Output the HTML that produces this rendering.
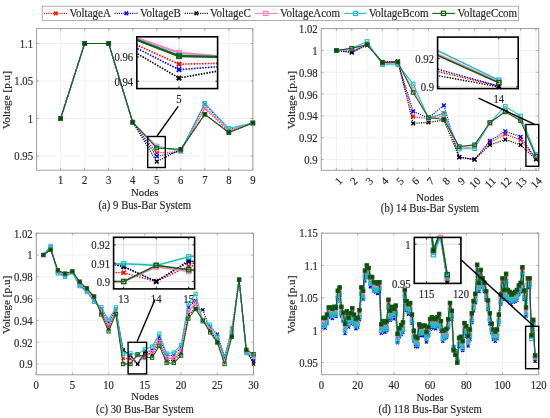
<!DOCTYPE html><html><head><meta charset="utf-8"><style>html,body{margin:0;padding:0;background:#fff;overflow:hidden}svg{display:block}text{font-family:'Liberation Serif','Times New Roman',serif;fill:#262626;stroke:#262626;stroke-width:0.15px}</style></head><body>
<svg width="550" height="418" viewBox="0 0 550 418">
<rect width="550" height="418" fill="#fff"/>
<defs>
<clipPath id="cA"><rect x="36.1" y="28.1" width="217.3" height="142.6"/></clipPath>
<clipPath id="cB"><rect x="320.7" y="28.1" width="218.6" height="142.7"/></clipPath>
<clipPath id="cC"><rect x="35.8" y="232.7" width="218.3" height="142.6"/></clipPath>
<clipPath id="cD"><rect x="321" y="232.7" width="218.2" height="142.5"/></clipPath>
<clipPath id="iA"><rect x="136.8" y="36.8" width="80.8" height="51.8"/></clipPath>
<clipPath id="iB"><rect x="437.6" y="37.1" width="80.6" height="51.5"/></clipPath>
<clipPath id="iC"><rect x="113.6" y="237.3" width="81" height="51.6"/></clipPath>
<clipPath id="iD"><rect x="414.3" y="237.4" width="46.6" height="46"/></clipPath>
</defs>
<path d="M60.63,28.6V170.2M84.66,28.6V170.2M108.69,28.6V170.2M132.72,28.6V170.2M156.75,28.6V170.2M180.78,28.6V170.2M204.81,28.6V170.2M228.84,28.6V170.2M252.87,28.6V170.2M36.6,156H252.9M36.6,118.5H252.9M36.6,81H252.9M36.6,43.5H252.9" stroke="#ebebeb" stroke-width="0.7" fill="none"/>
<path d="M60.63,170.2v-2.2M60.63,28.6v2.2M84.66,170.2v-2.2M84.66,28.6v2.2M108.69,170.2v-2.2M108.69,28.6v2.2M132.72,170.2v-2.2M132.72,28.6v2.2M156.75,170.2v-2.2M156.75,28.6v2.2M180.78,170.2v-2.2M180.78,28.6v2.2M204.81,170.2v-2.2M204.81,28.6v2.2M228.84,170.2v-2.2M228.84,28.6v2.2M252.87,170.2v-2.2M252.87,28.6v2.2M36.6,156h2.2M252.9,156h-2.2M36.6,118.5h2.2M252.9,118.5h-2.2M36.6,81h2.2M252.9,81h-2.2M36.6,43.5h2.2M252.9,43.5h-2.2" stroke="#959595" stroke-width="0.8" fill="none"/>
<rect x="36.6" y="28.6" width="216.3" height="141.6" stroke="#959595" stroke-width="0.9" fill="none"/>
<path d="M60.63,118.5 L84.66,43.5 L108.69,43.5 L132.72,122.25 L156.75,153 L180.78,151.5 L204.81,108.37 L228.84,131.25 L252.87,123" stroke="#ff0000" stroke-width="1.15" fill="none" stroke-dasharray="1.15 1.15" stroke-linejoin="round" clip-path="url(#cA)"/>
<path d="M58.73,116.6L62.53,120.4M58.73,120.4L62.53,116.6" stroke="#ff0000" stroke-width="1.32" fill="none"/><path d="M82.76,41.6L86.56,45.4M82.76,45.4L86.56,41.6" stroke="#ff0000" stroke-width="1.32" fill="none"/><path d="M106.79,41.6L110.59,45.4M106.79,45.4L110.59,41.6" stroke="#ff0000" stroke-width="1.32" fill="none"/><path d="M130.82,120.35L134.62,124.15M130.82,124.15L134.62,120.35" stroke="#ff0000" stroke-width="1.32" fill="none"/><path d="M154.85,151.1L158.65,154.9M154.85,154.9L158.65,151.1" stroke="#ff0000" stroke-width="1.32" fill="none"/><path d="M178.88,149.6L182.68,153.4M178.88,153.4L182.68,149.6" stroke="#ff0000" stroke-width="1.32" fill="none"/><path d="M202.91,106.47L206.71,110.27M202.91,110.27L206.71,106.47" stroke="#ff0000" stroke-width="1.32" fill="none"/><path d="M226.94,129.35L230.74,133.15M226.94,133.15L230.74,129.35" stroke="#ff0000" stroke-width="1.32" fill="none"/><path d="M250.97,121.1L254.77,124.9M250.97,124.9L254.77,121.1" stroke="#ff0000" stroke-width="1.32" fill="none"/>
<path d="M60.63,118.5 L84.66,43.5 L108.69,43.5 L132.72,122.25 L156.75,156.38 L180.78,151.27 L204.81,104.25 L228.84,129.75 L252.87,123" stroke="#0000ff" stroke-width="1.15" fill="none" stroke-dasharray="1.15 1.15" stroke-linejoin="round" clip-path="url(#cA)"/>
<path d="M58.73,116.6L62.53,120.4M58.73,120.4L62.53,116.6" stroke="#0000ff" stroke-width="1.32" fill="none"/><path d="M82.76,41.6L86.56,45.4M82.76,45.4L86.56,41.6" stroke="#0000ff" stroke-width="1.32" fill="none"/><path d="M106.79,41.6L110.59,45.4M106.79,45.4L110.59,41.6" stroke="#0000ff" stroke-width="1.32" fill="none"/><path d="M130.82,120.35L134.62,124.15M130.82,124.15L134.62,120.35" stroke="#0000ff" stroke-width="1.32" fill="none"/><path d="M154.85,154.47L158.65,158.28M154.85,158.28L158.65,154.47" stroke="#0000ff" stroke-width="1.32" fill="none"/><path d="M178.88,149.37L182.68,153.17M178.88,153.17L182.68,149.37" stroke="#0000ff" stroke-width="1.32" fill="none"/><path d="M202.91,102.35L206.71,106.15M202.91,106.15L206.71,102.35" stroke="#0000ff" stroke-width="1.32" fill="none"/><path d="M226.94,127.85L230.74,131.65M226.94,131.65L230.74,127.85" stroke="#0000ff" stroke-width="1.32" fill="none"/><path d="M250.97,121.1L254.77,124.9M250.97,124.9L254.77,121.1" stroke="#0000ff" stroke-width="1.32" fill="none"/>
<path d="M60.63,118.5 L84.66,43.5 L108.69,43.5 L132.72,122.25 L156.75,161.55 L180.78,149.47 L204.81,114.3 L228.84,132.37 L252.87,123" stroke="#000000" stroke-width="1.15" fill="none" stroke-dasharray="1.15 1.15" stroke-linejoin="round" clip-path="url(#cA)"/>
<path d="M58.73,116.6L62.53,120.4M58.73,120.4L62.53,116.6" stroke="#000000" stroke-width="1.32" fill="none"/><path d="M82.76,41.6L86.56,45.4M82.76,45.4L86.56,41.6" stroke="#000000" stroke-width="1.32" fill="none"/><path d="M106.79,41.6L110.59,45.4M106.79,45.4L110.59,41.6" stroke="#000000" stroke-width="1.32" fill="none"/><path d="M130.82,120.35L134.62,124.15M130.82,124.15L134.62,120.35" stroke="#000000" stroke-width="1.32" fill="none"/><path d="M154.85,159.65L158.65,163.45M154.85,163.45L158.65,159.65" stroke="#000000" stroke-width="1.32" fill="none"/><path d="M178.88,147.57L182.68,151.38M178.88,151.38L182.68,147.57" stroke="#000000" stroke-width="1.32" fill="none"/><path d="M202.91,112.4L206.71,116.2M202.91,116.2L206.71,112.4" stroke="#000000" stroke-width="1.32" fill="none"/><path d="M226.94,130.47L230.74,134.27M226.94,134.27L230.74,130.47" stroke="#000000" stroke-width="1.32" fill="none"/><path d="M250.97,121.1L254.77,124.9M250.97,124.9L254.77,121.1" stroke="#000000" stroke-width="1.32" fill="none"/>
<path d="M60.63,118.5 L84.66,43.5 L108.69,43.5 L132.72,122.25 L156.75,145.95 L180.78,151.5 L204.81,107.25 L228.84,130.5 L252.87,123" stroke="#ff80c0" stroke-width="1.05" fill="none" stroke-linejoin="round" clip-path="url(#cA)"/>
<rect x="58.83" y="116.7" width="3.6" height="3.6" stroke="#ff80c0" stroke-width="1.1" fill="none"/><rect x="82.86" y="41.7" width="3.6" height="3.6" stroke="#ff80c0" stroke-width="1.1" fill="none"/><rect x="106.89" y="41.7" width="3.6" height="3.6" stroke="#ff80c0" stroke-width="1.1" fill="none"/><rect x="130.92" y="120.45" width="3.6" height="3.6" stroke="#ff80c0" stroke-width="1.1" fill="none"/><rect x="154.95" y="144.15" width="3.6" height="3.6" stroke="#ff80c0" stroke-width="1.1" fill="none"/><rect x="178.98" y="149.7" width="3.6" height="3.6" stroke="#ff80c0" stroke-width="1.1" fill="none"/><rect x="203.01" y="105.45" width="3.6" height="3.6" stroke="#ff80c0" stroke-width="1.1" fill="none"/><rect x="227.04" y="128.7" width="3.6" height="3.6" stroke="#ff80c0" stroke-width="1.1" fill="none"/><rect x="251.07" y="121.2" width="3.6" height="3.6" stroke="#ff80c0" stroke-width="1.1" fill="none"/>
<path d="M60.63,118.5 L84.66,43.5 L108.69,43.5 L132.72,122.25 L156.75,147.6 L180.78,150.38 L204.81,103.28 L228.84,128.32 L252.87,123" stroke="#1fbfbf" stroke-width="1.05" fill="none" stroke-linejoin="round" clip-path="url(#cA)"/>
<rect x="58.83" y="116.7" width="3.6" height="3.6" stroke="#1fbfbf" stroke-width="1.1" fill="none"/><rect x="82.86" y="41.7" width="3.6" height="3.6" stroke="#1fbfbf" stroke-width="1.1" fill="none"/><rect x="106.89" y="41.7" width="3.6" height="3.6" stroke="#1fbfbf" stroke-width="1.1" fill="none"/><rect x="130.92" y="120.45" width="3.6" height="3.6" stroke="#1fbfbf" stroke-width="1.1" fill="none"/><rect x="154.95" y="145.8" width="3.6" height="3.6" stroke="#1fbfbf" stroke-width="1.1" fill="none"/><rect x="178.98" y="148.57" width="3.6" height="3.6" stroke="#1fbfbf" stroke-width="1.1" fill="none"/><rect x="203.01" y="101.48" width="3.6" height="3.6" stroke="#1fbfbf" stroke-width="1.1" fill="none"/><rect x="227.04" y="126.52" width="3.6" height="3.6" stroke="#1fbfbf" stroke-width="1.1" fill="none"/><rect x="251.07" y="121.2" width="3.6" height="3.6" stroke="#1fbfbf" stroke-width="1.1" fill="none"/>
<path d="M60.63,118.5 L84.66,43.5 L108.69,43.5 L132.72,122.25 L156.75,148.05 L180.78,149.33 L204.81,114.3 L228.84,132.53 L252.87,123" stroke="#155e15" stroke-width="1.05" fill="none" stroke-linejoin="round" clip-path="url(#cA)"/>
<rect x="58.83" y="116.7" width="3.6" height="3.6" stroke="#155e15" stroke-width="1.1" fill="#143c14"/><rect x="82.86" y="41.7" width="3.6" height="3.6" stroke="#155e15" stroke-width="1.1" fill="#143c14"/><rect x="106.89" y="41.7" width="3.6" height="3.6" stroke="#155e15" stroke-width="1.1" fill="#143c14"/><rect x="130.92" y="120.45" width="3.6" height="3.6" stroke="#155e15" stroke-width="1.1" fill="#143c14"/><rect x="154.95" y="146.25" width="3.6" height="3.6" stroke="#155e15" stroke-width="1.1" fill="none"/><rect x="178.98" y="147.53" width="3.6" height="3.6" stroke="#155e15" stroke-width="1.1" fill="#143c14"/><rect x="203.01" y="112.5" width="3.6" height="3.6" stroke="#155e15" stroke-width="1.1" fill="#143c14"/><rect x="227.04" y="130.73" width="3.6" height="3.6" stroke="#155e15" stroke-width="1.1" fill="#143c14"/><rect x="251.07" y="121.2" width="3.6" height="3.6" stroke="#155e15" stroke-width="1.1" fill="#143c14"/>
<text transform="translate(60.63 184.4) scale(1 1.09)" text-anchor="middle" font-size="10.7">1</text>
<text transform="translate(84.66 184.4) scale(1 1.09)" text-anchor="middle" font-size="10.7">2</text>
<text transform="translate(108.69 184.4) scale(1 1.09)" text-anchor="middle" font-size="10.7">3</text>
<text transform="translate(132.72 184.4) scale(1 1.09)" text-anchor="middle" font-size="10.7">4</text>
<text transform="translate(156.75 184.4) scale(1 1.09)" text-anchor="middle" font-size="10.7">5</text>
<text transform="translate(180.78 184.4) scale(1 1.09)" text-anchor="middle" font-size="10.7">6</text>
<text transform="translate(204.81 184.4) scale(1 1.09)" text-anchor="middle" font-size="10.7">7</text>
<text transform="translate(228.84 184.4) scale(1 1.09)" text-anchor="middle" font-size="10.7">8</text>
<text transform="translate(252.87 184.4) scale(1 1.09)" text-anchor="middle" font-size="10.7">9</text>
<text transform="translate(33 160.4) scale(1 1.09)" text-anchor="end" font-size="10.7">0.95</text>
<text transform="translate(33 122.9) scale(1 1.09)" text-anchor="end" font-size="10.7">1</text>
<text transform="translate(33 85.4) scale(1 1.09)" text-anchor="end" font-size="10.7">1.05</text>
<text transform="translate(33 47.9) scale(1 1.09)" text-anchor="end" font-size="10.7">1.1</text>
<path d="M336.4,28.6V170.3M351.75,28.6V170.3M367.1,28.6V170.3M382.45,28.6V170.3M397.8,28.6V170.3M413.15,28.6V170.3M428.5,28.6V170.3M443.85,28.6V170.3M459.2,28.6V170.3M474.55,28.6V170.3M489.9,28.6V170.3M505.25,28.6V170.3M520.6,28.6V170.3M535.95,28.6V170.3M321.2,159.5H538.8M321.2,137.7H538.8M321.2,115.9H538.8M321.2,94.1H538.8M321.2,72.3H538.8M321.2,50.5H538.8M321.2,28.7H538.8" stroke="#ebebeb" stroke-width="0.7" fill="none"/>
<path d="M336.4,170.3v-2.2M336.4,28.6v2.2M351.75,170.3v-2.2M351.75,28.6v2.2M367.1,170.3v-2.2M367.1,28.6v2.2M382.45,170.3v-2.2M382.45,28.6v2.2M397.8,170.3v-2.2M397.8,28.6v2.2M413.15,170.3v-2.2M413.15,28.6v2.2M428.5,170.3v-2.2M428.5,28.6v2.2M443.85,170.3v-2.2M443.85,28.6v2.2M459.2,170.3v-2.2M459.2,28.6v2.2M474.55,170.3v-2.2M474.55,28.6v2.2M489.9,170.3v-2.2M489.9,28.6v2.2M505.25,170.3v-2.2M505.25,28.6v2.2M520.6,170.3v-2.2M520.6,28.6v2.2M535.95,170.3v-2.2M535.95,28.6v2.2M321.2,159.5h2.2M538.8,159.5h-2.2M321.2,137.7h2.2M538.8,137.7h-2.2M321.2,115.9h2.2M538.8,115.9h-2.2M321.2,94.1h2.2M538.8,94.1h-2.2M321.2,72.3h2.2M538.8,72.3h-2.2M321.2,50.5h2.2M538.8,50.5h-2.2M321.2,28.7h2.2M538.8,28.7h-2.2" stroke="#959595" stroke-width="0.8" fill="none"/>
<rect x="321.2" y="28.6" width="217.6" height="141.7" stroke="#959595" stroke-width="0.9" fill="none"/>
<path d="M336.4,50.5 L351.75,51.59 L367.1,45.05 L382.45,62.49 L397.8,61.94 L413.15,116.66 L428.5,118.62 L443.85,113.17 L459.2,157.21 L474.55,159.5 L489.9,142.5 L505.25,134.21 L520.6,139.88 L535.95,158.96" stroke="#ff0000" stroke-width="1.15" fill="none" stroke-dasharray="1.15 1.15" stroke-linejoin="round" clip-path="url(#cB)"/>
<path d="M334.5,48.6L338.3,52.4M334.5,52.4L338.3,48.6" stroke="#ff0000" stroke-width="1.32" fill="none"/><path d="M349.85,49.69L353.65,53.49M349.85,53.49L353.65,49.69" stroke="#ff0000" stroke-width="1.32" fill="none"/><path d="M365.2,43.15L369,46.95M365.2,46.95L369,43.15" stroke="#ff0000" stroke-width="1.32" fill="none"/><path d="M380.55,60.59L384.35,64.39M380.55,64.39L384.35,60.59" stroke="#ff0000" stroke-width="1.32" fill="none"/><path d="M395.9,60.04L399.7,63.84M395.9,63.84L399.7,60.04" stroke="#ff0000" stroke-width="1.32" fill="none"/><path d="M411.25,114.76L415.05,118.56M411.25,118.56L415.05,114.76" stroke="#ff0000" stroke-width="1.32" fill="none"/><path d="M426.6,116.72L430.4,120.53M426.6,120.53L430.4,116.72" stroke="#ff0000" stroke-width="1.32" fill="none"/><path d="M441.95,111.27L445.75,115.08M441.95,115.08L445.75,111.27" stroke="#ff0000" stroke-width="1.32" fill="none"/><path d="M457.3,155.31L461.1,159.11M457.3,159.11L461.1,155.31" stroke="#ff0000" stroke-width="1.32" fill="none"/><path d="M472.65,157.6L476.45,161.4M472.65,161.4L476.45,157.6" stroke="#ff0000" stroke-width="1.32" fill="none"/><path d="M488,140.6L491.8,144.4M488,144.4L491.8,140.6" stroke="#ff0000" stroke-width="1.32" fill="none"/><path d="M503.35,132.31L507.15,136.11M503.35,136.11L507.15,132.31" stroke="#ff0000" stroke-width="1.32" fill="none"/><path d="M518.7,137.98L522.5,141.78M518.7,141.78L522.5,137.98" stroke="#ff0000" stroke-width="1.32" fill="none"/><path d="M534.05,157.06L537.85,160.86M534.05,160.86L537.85,157.06" stroke="#ff0000" stroke-width="1.32" fill="none"/>
<path d="M336.4,50.5 L351.75,51.59 L367.1,43.96 L382.45,62.49 L397.8,61.94 L413.15,111.32 L428.5,118.08 L443.85,105.33 L459.2,157.21 L474.55,159.5 L489.9,140.86 L505.25,131.27 L520.6,136.83 L535.95,158.96" stroke="#0000ff" stroke-width="1.15" fill="none" stroke-dasharray="1.15 1.15" stroke-linejoin="round" clip-path="url(#cB)"/>
<path d="M334.5,48.6L338.3,52.4M334.5,52.4L338.3,48.6" stroke="#0000ff" stroke-width="1.32" fill="none"/><path d="M349.85,49.69L353.65,53.49M349.85,53.49L353.65,49.69" stroke="#0000ff" stroke-width="1.32" fill="none"/><path d="M365.2,42.06L369,45.86M365.2,45.86L369,42.06" stroke="#0000ff" stroke-width="1.32" fill="none"/><path d="M380.55,60.59L384.35,64.39M380.55,64.39L384.35,60.59" stroke="#0000ff" stroke-width="1.32" fill="none"/><path d="M395.9,60.04L399.7,63.84M395.9,63.84L399.7,60.04" stroke="#0000ff" stroke-width="1.32" fill="none"/><path d="M411.25,109.42L415.05,113.22M411.25,113.22L415.05,109.42" stroke="#0000ff" stroke-width="1.32" fill="none"/><path d="M426.6,116.18L430.4,119.98M426.6,119.98L430.4,116.18" stroke="#0000ff" stroke-width="1.32" fill="none"/><path d="M441.95,103.43L445.75,107.23M441.95,107.23L445.75,103.43" stroke="#0000ff" stroke-width="1.32" fill="none"/><path d="M457.3,155.31L461.1,159.11M457.3,159.11L461.1,155.31" stroke="#0000ff" stroke-width="1.32" fill="none"/><path d="M472.65,157.6L476.45,161.4M472.65,161.4L476.45,157.6" stroke="#0000ff" stroke-width="1.32" fill="none"/><path d="M488,138.96L491.8,142.76M488,142.76L491.8,138.96" stroke="#0000ff" stroke-width="1.32" fill="none"/><path d="M503.35,129.37L507.15,133.17M503.35,133.17L507.15,129.37" stroke="#0000ff" stroke-width="1.32" fill="none"/><path d="M518.7,134.93L522.5,138.73M518.7,138.73L522.5,134.93" stroke="#0000ff" stroke-width="1.32" fill="none"/><path d="M534.05,157.06L537.85,160.86M534.05,160.86L537.85,157.06" stroke="#0000ff" stroke-width="1.32" fill="none"/>
<path d="M336.4,50.5 L351.75,52.68 L367.1,45.05 L382.45,61.94 L397.8,61.4 L413.15,123.42 L428.5,122.44 L443.85,120.04 L459.2,157.21 L474.55,159.5 L489.9,144.89 L505.25,139.55 L520.6,144.89 L535.95,159.5" stroke="#000000" stroke-width="1.15" fill="none" stroke-dasharray="1.15 1.15" stroke-linejoin="round" clip-path="url(#cB)"/>
<path d="M334.5,48.6L338.3,52.4M334.5,52.4L338.3,48.6" stroke="#000000" stroke-width="1.32" fill="none"/><path d="M349.85,50.78L353.65,54.58M349.85,54.58L353.65,50.78" stroke="#000000" stroke-width="1.32" fill="none"/><path d="M365.2,43.15L369,46.95M365.2,46.95L369,43.15" stroke="#000000" stroke-width="1.32" fill="none"/><path d="M380.55,60.04L384.35,63.84M380.55,63.84L384.35,60.04" stroke="#000000" stroke-width="1.32" fill="none"/><path d="M395.9,59.5L399.7,63.3M395.9,63.3L399.7,59.5" stroke="#000000" stroke-width="1.32" fill="none"/><path d="M411.25,121.52L415.05,125.32M411.25,125.32L415.05,121.52" stroke="#000000" stroke-width="1.32" fill="none"/><path d="M426.6,120.54L430.4,124.34M426.6,124.34L430.4,120.54" stroke="#000000" stroke-width="1.32" fill="none"/><path d="M441.95,118.14L445.75,121.94M441.95,121.94L445.75,118.14" stroke="#000000" stroke-width="1.32" fill="none"/><path d="M457.3,155.31L461.1,159.11M457.3,159.11L461.1,155.31" stroke="#000000" stroke-width="1.32" fill="none"/><path d="M472.65,157.6L476.45,161.4M472.65,161.4L476.45,157.6" stroke="#000000" stroke-width="1.32" fill="none"/><path d="M488,142.99L491.8,146.79M488,146.79L491.8,142.99" stroke="#000000" stroke-width="1.32" fill="none"/><path d="M503.35,137.65L507.15,141.45M503.35,141.45L507.15,137.65" stroke="#000000" stroke-width="1.32" fill="none"/><path d="M518.7,142.99L522.5,146.79M518.7,146.79L522.5,142.99" stroke="#000000" stroke-width="1.32" fill="none"/><path d="M534.05,157.6L537.85,161.4M534.05,161.4L537.85,157.6" stroke="#000000" stroke-width="1.32" fill="none"/>
<path d="M336.4,50.5 L351.75,48.86 L367.1,43.96 L382.45,63.58 L397.8,63.58 L413.15,89.3 L428.5,118.62 L443.85,115.9 L459.2,148.06 L474.55,146.97 L489.9,123.53 L505.25,110.45 L520.6,119.17 L535.95,155.69" stroke="#ff80c0" stroke-width="1.05" fill="none" stroke-linejoin="round" clip-path="url(#cB)"/>
<rect x="334.6" y="48.7" width="3.6" height="3.6" stroke="#ff80c0" stroke-width="1.1" fill="none"/><rect x="349.95" y="47.06" width="3.6" height="3.6" stroke="#ff80c0" stroke-width="1.1" fill="none"/><rect x="365.3" y="42.16" width="3.6" height="3.6" stroke="#ff80c0" stroke-width="1.1" fill="none"/><rect x="380.65" y="61.78" width="3.6" height="3.6" stroke="#ff80c0" stroke-width="1.1" fill="none"/><rect x="396" y="61.78" width="3.6" height="3.6" stroke="#ff80c0" stroke-width="1.1" fill="none"/><rect x="411.35" y="87.5" width="3.6" height="3.6" stroke="#ff80c0" stroke-width="1.1" fill="none"/><rect x="426.7" y="116.83" width="3.6" height="3.6" stroke="#ff80c0" stroke-width="1.1" fill="none"/><rect x="442.05" y="114.1" width="3.6" height="3.6" stroke="#ff80c0" stroke-width="1.1" fill="none"/><rect x="457.4" y="146.25" width="3.6" height="3.6" stroke="#ff80c0" stroke-width="1.1" fill="none"/><rect x="472.75" y="145.17" width="3.6" height="3.6" stroke="#ff80c0" stroke-width="1.1" fill="none"/><rect x="488.1" y="121.73" width="3.6" height="3.6" stroke="#ff80c0" stroke-width="1.1" fill="none"/><rect x="503.45" y="108.65" width="3.6" height="3.6" stroke="#ff80c0" stroke-width="1.1" fill="none"/><rect x="518.8" y="117.37" width="3.6" height="3.6" stroke="#ff80c0" stroke-width="1.1" fill="none"/><rect x="534.15" y="153.89" width="3.6" height="3.6" stroke="#ff80c0" stroke-width="1.1" fill="none"/>
<path d="M336.4,50.5 L351.75,48.32 L367.1,41.45 L382.45,64.67 L397.8,64.67 L413.15,84.07 L428.5,118.08 L443.85,113.39 L459.2,149.04 L474.55,148.6 L489.9,122.55 L505.25,106.42 L520.6,116.01 L535.95,154.38" stroke="#1fbfbf" stroke-width="1.05" fill="none" stroke-linejoin="round" clip-path="url(#cB)"/>
<rect x="334.6" y="48.7" width="3.6" height="3.6" stroke="#1fbfbf" stroke-width="1.1" fill="none"/><rect x="349.95" y="46.52" width="3.6" height="3.6" stroke="#1fbfbf" stroke-width="1.1" fill="none"/><rect x="365.3" y="39.65" width="3.6" height="3.6" stroke="#1fbfbf" stroke-width="1.1" fill="none"/><rect x="380.65" y="62.87" width="3.6" height="3.6" stroke="#1fbfbf" stroke-width="1.1" fill="none"/><rect x="396" y="62.87" width="3.6" height="3.6" stroke="#1fbfbf" stroke-width="1.1" fill="none"/><rect x="411.35" y="82.27" width="3.6" height="3.6" stroke="#1fbfbf" stroke-width="1.1" fill="none"/><rect x="426.7" y="116.28" width="3.6" height="3.6" stroke="#1fbfbf" stroke-width="1.1" fill="none"/><rect x="442.05" y="111.59" width="3.6" height="3.6" stroke="#1fbfbf" stroke-width="1.1" fill="none"/><rect x="457.4" y="147.24" width="3.6" height="3.6" stroke="#1fbfbf" stroke-width="1.1" fill="none"/><rect x="472.75" y="146.8" width="3.6" height="3.6" stroke="#1fbfbf" stroke-width="1.1" fill="none"/><rect x="488.1" y="120.75" width="3.6" height="3.6" stroke="#1fbfbf" stroke-width="1.1" fill="none"/><rect x="503.45" y="104.62" width="3.6" height="3.6" stroke="#1fbfbf" stroke-width="1.1" fill="none"/><rect x="518.8" y="114.21" width="3.6" height="3.6" stroke="#1fbfbf" stroke-width="1.1" fill="none"/><rect x="534.15" y="152.58" width="3.6" height="3.6" stroke="#1fbfbf" stroke-width="1.1" fill="none"/>
<path d="M336.4,50.5 L351.75,48.32 L367.1,44.72 L382.45,62.49 L397.8,61.94 L413.15,92.46 L428.5,117.53 L443.85,119.5 L459.2,146.64 L474.55,144.89 L489.9,122.55 L505.25,111.87 L520.6,120.7 L535.95,156.34" stroke="#155e15" stroke-width="1.05" fill="none" stroke-linejoin="round" clip-path="url(#cB)"/>
<rect x="334.6" y="48.7" width="3.6" height="3.6" stroke="#155e15" stroke-width="1.1" fill="#143c14"/><rect x="349.95" y="46.52" width="3.6" height="3.6" stroke="#155e15" stroke-width="1.1" fill="none"/><rect x="365.3" y="42.92" width="3.6" height="3.6" stroke="#155e15" stroke-width="1.1" fill="#143c14"/><rect x="380.65" y="60.69" width="3.6" height="3.6" stroke="#155e15" stroke-width="1.1" fill="#143c14"/><rect x="396" y="60.14" width="3.6" height="3.6" stroke="#155e15" stroke-width="1.1" fill="#143c14"/><rect x="411.35" y="90.66" width="3.6" height="3.6" stroke="#155e15" stroke-width="1.1" fill="none"/><rect x="426.7" y="115.73" width="3.6" height="3.6" stroke="#155e15" stroke-width="1.1" fill="none"/><rect x="442.05" y="117.7" width="3.6" height="3.6" stroke="#155e15" stroke-width="1.1" fill="#143c14"/><rect x="457.4" y="144.84" width="3.6" height="3.6" stroke="#155e15" stroke-width="1.1" fill="none"/><rect x="472.75" y="143.09" width="3.6" height="3.6" stroke="#155e15" stroke-width="1.1" fill="none"/><rect x="488.1" y="120.75" width="3.6" height="3.6" stroke="#155e15" stroke-width="1.1" fill="none"/><rect x="503.45" y="110.07" width="3.6" height="3.6" stroke="#155e15" stroke-width="1.1" fill="none"/><rect x="518.8" y="118.9" width="3.6" height="3.6" stroke="#155e15" stroke-width="1.1" fill="none"/><rect x="534.15" y="154.54" width="3.6" height="3.6" stroke="#155e15" stroke-width="1.1" fill="none"/>
<text transform="translate(340.3 178.7) rotate(-45)" text-anchor="end" font-size="10.9" dominant-baseline="central">1</text>
<text transform="translate(355.65 178.7) rotate(-45)" text-anchor="end" font-size="10.9" dominant-baseline="central">2</text>
<text transform="translate(371 178.7) rotate(-45)" text-anchor="end" font-size="10.9" dominant-baseline="central">3</text>
<text transform="translate(386.35 178.7) rotate(-45)" text-anchor="end" font-size="10.9" dominant-baseline="central">4</text>
<text transform="translate(401.7 178.7) rotate(-45)" text-anchor="end" font-size="10.9" dominant-baseline="central">5</text>
<text transform="translate(417.05 178.7) rotate(-45)" text-anchor="end" font-size="10.9" dominant-baseline="central">6</text>
<text transform="translate(432.4 178.7) rotate(-45)" text-anchor="end" font-size="10.9" dominant-baseline="central">7</text>
<text transform="translate(447.75 178.7) rotate(-45)" text-anchor="end" font-size="10.9" dominant-baseline="central">8</text>
<text transform="translate(463.1 178.7) rotate(-45)" text-anchor="end" font-size="10.9" dominant-baseline="central">9</text>
<text transform="translate(478.45 178.7) rotate(-45)" text-anchor="end" font-size="10.9" dominant-baseline="central">10</text>
<text transform="translate(493.8 178.7) rotate(-45)" text-anchor="end" font-size="10.9" dominant-baseline="central">11</text>
<text transform="translate(509.15 178.7) rotate(-45)" text-anchor="end" font-size="10.9" dominant-baseline="central">12</text>
<text transform="translate(524.5 178.7) rotate(-45)" text-anchor="end" font-size="10.9" dominant-baseline="central">13</text>
<text transform="translate(539.85 178.7) rotate(-45)" text-anchor="end" font-size="10.9" dominant-baseline="central">14</text>
<text transform="translate(317.6 163.9) scale(1 1.09)" text-anchor="end" font-size="10.7">0.9</text>
<text transform="translate(317.6 142.1) scale(1 1.09)" text-anchor="end" font-size="10.7">0.92</text>
<text transform="translate(317.6 120.3) scale(1 1.09)" text-anchor="end" font-size="10.7">0.94</text>
<text transform="translate(317.6 98.5) scale(1 1.09)" text-anchor="end" font-size="10.7">0.96</text>
<text transform="translate(317.6 76.7) scale(1 1.09)" text-anchor="end" font-size="10.7">0.98</text>
<text transform="translate(317.6 54.9) scale(1 1.09)" text-anchor="end" font-size="10.7">1</text>
<text transform="translate(317.6 33.1) scale(1 1.09)" text-anchor="end" font-size="10.7">1.02</text>
<path d="M36.1,233.2V374.8M72.35,233.2V374.8M108.6,233.2V374.8M144.85,233.2V374.8M181.1,233.2V374.8M217.35,233.2V374.8M253.6,233.2V374.8M36.3,364H253.6M36.3,342.2H253.6M36.3,320.4H253.6M36.3,298.6H253.6M36.3,276.8H253.6M36.3,255H253.6M36.3,233.2H253.6" stroke="#ebebeb" stroke-width="0.7" fill="none"/>
<path d="M36.1,374.8v-2.2M36.1,233.2v2.2M72.35,374.8v-2.2M72.35,233.2v2.2M108.6,374.8v-2.2M108.6,233.2v2.2M144.85,374.8v-2.2M144.85,233.2v2.2M181.1,374.8v-2.2M181.1,233.2v2.2M217.35,374.8v-2.2M217.35,233.2v2.2M253.6,374.8v-2.2M253.6,233.2v2.2M36.3,364h2.2M253.6,364h-2.2M36.3,342.2h2.2M253.6,342.2h-2.2M36.3,320.4h2.2M253.6,320.4h-2.2M36.3,298.6h2.2M253.6,298.6h-2.2M36.3,276.8h2.2M253.6,276.8h-2.2M36.3,255h2.2M253.6,255h-2.2M36.3,233.2h2.2M253.6,233.2h-2.2" stroke="#959595" stroke-width="0.8" fill="none"/>
<rect x="36.3" y="233.2" width="217.3" height="141.6" stroke="#959595" stroke-width="0.9" fill="none"/>
<path d="M43.35,255 L50.6,248.05 L57.85,271.73 L65.1,275 L72.35,271.84 L79.6,283.61 L86.85,290.02 L94.1,298.87 L101.35,311.28 L108.6,326.1 L115.85,311.04 L123.1,358.55 L130.35,358.77 L137.6,364 L144.85,354.95 L152.1,352.67 L159.35,340.35 L166.6,358.69 L173.85,358.25 L181.1,350.8 L188.35,311.73 L195.6,304.05 L202.85,320.89 L210.1,328.96 L217.35,339.93 L224.6,357.46 L231.85,328.03 L239.1,279.63 L246.35,351.3 L253.6,361.82" stroke="#ff0000" stroke-width="1.15" fill="none" stroke-dasharray="1.15 1.15" stroke-linejoin="round" clip-path="url(#cC)"/>
<path d="M41.75,253.4L44.95,256.6M41.75,256.6L44.95,253.4" stroke="#ff0000" stroke-width="1.2" fill="none"/><path d="M49,246.45L52.2,249.65M49,249.65L52.2,246.45" stroke="#ff0000" stroke-width="1.2" fill="none"/><path d="M56.25,270.13L59.45,273.33M56.25,273.33L59.45,270.13" stroke="#ff0000" stroke-width="1.2" fill="none"/><path d="M63.5,273.4L66.7,276.6M63.5,276.6L66.7,273.4" stroke="#ff0000" stroke-width="1.2" fill="none"/><path d="M70.75,270.24L73.95,273.44M70.75,273.44L73.95,270.24" stroke="#ff0000" stroke-width="1.2" fill="none"/><path d="M78,282.01L81.2,285.21M78,285.21L81.2,282.01" stroke="#ff0000" stroke-width="1.2" fill="none"/><path d="M85.25,288.42L88.45,291.62M85.25,291.62L88.45,288.42" stroke="#ff0000" stroke-width="1.2" fill="none"/><path d="M92.5,297.27L95.7,300.47M92.5,300.47L95.7,297.27" stroke="#ff0000" stroke-width="1.2" fill="none"/><path d="M99.75,309.68L102.95,312.88M99.75,312.88L102.95,309.68" stroke="#ff0000" stroke-width="1.2" fill="none"/><path d="M107,324.5L110.2,327.7M107,327.7L110.2,324.5" stroke="#ff0000" stroke-width="1.2" fill="none"/><path d="M114.25,309.44L117.45,312.64M114.25,312.64L117.45,309.44" stroke="#ff0000" stroke-width="1.2" fill="none"/><path d="M121.5,356.95L124.7,360.15M121.5,360.15L124.7,356.95" stroke="#ff0000" stroke-width="1.2" fill="none"/><path d="M128.75,357.17L131.95,360.37M128.75,360.37L131.95,357.17" stroke="#ff0000" stroke-width="1.2" fill="none"/><path d="M136,362.4L139.2,365.6M136,365.6L139.2,362.4" stroke="#ff0000" stroke-width="1.2" fill="none"/><path d="M143.25,353.35L146.45,356.55M143.25,356.55L146.45,353.35" stroke="#ff0000" stroke-width="1.2" fill="none"/><path d="M150.5,351.07L153.7,354.27M150.5,354.27L153.7,351.07" stroke="#ff0000" stroke-width="1.2" fill="none"/><path d="M157.75,338.75L160.95,341.95M157.75,341.95L160.95,338.75" stroke="#ff0000" stroke-width="1.2" fill="none"/><path d="M165,357.09L168.2,360.29M165,360.29L168.2,357.09" stroke="#ff0000" stroke-width="1.2" fill="none"/><path d="M172.25,356.65L175.45,359.85M172.25,359.85L175.45,356.65" stroke="#ff0000" stroke-width="1.2" fill="none"/><path d="M179.5,349.2L182.7,352.4M179.5,352.4L182.7,349.2" stroke="#ff0000" stroke-width="1.2" fill="none"/><path d="M186.75,310.13L189.95,313.33M186.75,313.33L189.95,310.13" stroke="#ff0000" stroke-width="1.2" fill="none"/><path d="M194,302.45L197.2,305.65M194,305.65L197.2,302.45" stroke="#ff0000" stroke-width="1.2" fill="none"/><path d="M201.25,319.29L204.45,322.49M201.25,322.49L204.45,319.29" stroke="#ff0000" stroke-width="1.2" fill="none"/><path d="M208.5,327.36L211.7,330.56M208.5,330.56L211.7,327.36" stroke="#ff0000" stroke-width="1.2" fill="none"/><path d="M215.75,338.33L218.95,341.53M215.75,341.53L218.95,338.33" stroke="#ff0000" stroke-width="1.2" fill="none"/><path d="M223,355.86L226.2,359.06M223,359.06L226.2,355.86" stroke="#ff0000" stroke-width="1.2" fill="none"/><path d="M230.25,326.43L233.45,329.63M230.25,329.63L233.45,326.43" stroke="#ff0000" stroke-width="1.2" fill="none"/><path d="M237.5,278.03L240.7,281.23M237.5,281.23L240.7,278.03" stroke="#ff0000" stroke-width="1.2" fill="none"/><path d="M244.75,349.7L247.95,352.9M244.75,352.9L247.95,349.7" stroke="#ff0000" stroke-width="1.2" fill="none"/><path d="M252,360.22L255.2,363.42M252,363.42L255.2,360.22" stroke="#ff0000" stroke-width="1.2" fill="none"/>
<path d="M43.35,255 L50.6,246.91 L57.85,272.71 L65.1,275.98 L72.35,272.17 L79.6,284.95 L86.85,291.13 L94.1,300.51 L101.35,309.12 L108.6,322.63 L115.85,309.01 L123.1,350.48 L130.35,355.39 L137.6,364 L144.85,352.34 L152.1,350.27 L159.35,336.72 L166.6,355.88 L173.85,355.14 L181.1,347.6 L188.35,307.18 L195.6,300.78 L202.85,321.22 L210.1,326.67 L217.35,334.24 L224.6,356.81 L231.85,332.66 L239.1,279.63 L246.35,352.28 L253.6,360.73" stroke="#0000ff" stroke-width="1.15" fill="none" stroke-dasharray="1.15 1.15" stroke-linejoin="round" clip-path="url(#cC)"/>
<path d="M41.75,253.4L44.95,256.6M41.75,256.6L44.95,253.4" stroke="#0000ff" stroke-width="1.2" fill="none"/><path d="M49,245.31L52.2,248.51M49,248.51L52.2,245.31" stroke="#0000ff" stroke-width="1.2" fill="none"/><path d="M56.25,271.11L59.45,274.31M56.25,274.31L59.45,271.11" stroke="#0000ff" stroke-width="1.2" fill="none"/><path d="M63.5,274.38L66.7,277.58M63.5,277.58L66.7,274.38" stroke="#0000ff" stroke-width="1.2" fill="none"/><path d="M70.75,270.57L73.95,273.77M70.75,273.77L73.95,270.57" stroke="#0000ff" stroke-width="1.2" fill="none"/><path d="M78,283.35L81.2,286.55M78,286.55L81.2,283.35" stroke="#0000ff" stroke-width="1.2" fill="none"/><path d="M85.25,289.53L88.45,292.73M85.25,292.73L88.45,289.53" stroke="#0000ff" stroke-width="1.2" fill="none"/><path d="M92.5,298.91L95.7,302.11M92.5,302.11L95.7,298.91" stroke="#0000ff" stroke-width="1.2" fill="none"/><path d="M99.75,307.52L102.95,310.72M99.75,310.72L102.95,307.52" stroke="#0000ff" stroke-width="1.2" fill="none"/><path d="M107,321.03L110.2,324.23M107,324.23L110.2,321.03" stroke="#0000ff" stroke-width="1.2" fill="none"/><path d="M114.25,307.41L117.45,310.61M114.25,310.61L117.45,307.41" stroke="#0000ff" stroke-width="1.2" fill="none"/><path d="M121.5,348.88L124.7,352.08M121.5,352.08L124.7,348.88" stroke="#0000ff" stroke-width="1.2" fill="none"/><path d="M128.75,353.79L131.95,356.99M128.75,356.99L131.95,353.79" stroke="#0000ff" stroke-width="1.2" fill="none"/><path d="M136,362.4L139.2,365.6M136,365.6L139.2,362.4" stroke="#0000ff" stroke-width="1.2" fill="none"/><path d="M143.25,350.74L146.45,353.94M143.25,353.94L146.45,350.74" stroke="#0000ff" stroke-width="1.2" fill="none"/><path d="M150.5,348.67L153.7,351.87M150.5,351.87L153.7,348.67" stroke="#0000ff" stroke-width="1.2" fill="none"/><path d="M157.75,335.12L160.95,338.32M157.75,338.32L160.95,335.12" stroke="#0000ff" stroke-width="1.2" fill="none"/><path d="M165,354.28L168.2,357.48M165,357.48L168.2,354.28" stroke="#0000ff" stroke-width="1.2" fill="none"/><path d="M172.25,353.54L175.45,356.74M172.25,356.74L175.45,353.54" stroke="#0000ff" stroke-width="1.2" fill="none"/><path d="M179.5,346L182.7,349.2M179.5,349.2L182.7,346" stroke="#0000ff" stroke-width="1.2" fill="none"/><path d="M186.75,305.58L189.95,308.78M186.75,308.78L189.95,305.58" stroke="#0000ff" stroke-width="1.2" fill="none"/><path d="M194,299.18L197.2,302.38M194,302.38L197.2,299.18" stroke="#0000ff" stroke-width="1.2" fill="none"/><path d="M201.25,319.62L204.45,322.82M201.25,322.82L204.45,319.62" stroke="#0000ff" stroke-width="1.2" fill="none"/><path d="M208.5,325.07L211.7,328.27M208.5,328.27L211.7,325.07" stroke="#0000ff" stroke-width="1.2" fill="none"/><path d="M215.75,332.64L218.95,335.84M215.75,335.84L218.95,332.64" stroke="#0000ff" stroke-width="1.2" fill="none"/><path d="M223,355.21L226.2,358.41M223,358.41L226.2,355.21" stroke="#0000ff" stroke-width="1.2" fill="none"/><path d="M230.25,331.06L233.45,334.26M230.25,334.26L233.45,331.06" stroke="#0000ff" stroke-width="1.2" fill="none"/><path d="M237.5,278.03L240.7,281.23M237.5,281.23L240.7,278.03" stroke="#0000ff" stroke-width="1.2" fill="none"/><path d="M244.75,350.68L247.95,353.88M244.75,353.88L247.95,350.68" stroke="#0000ff" stroke-width="1.2" fill="none"/><path d="M252,359.13L255.2,362.33M252,362.33L255.2,359.13" stroke="#0000ff" stroke-width="1.2" fill="none"/>
<path d="M43.35,255 L50.6,248.81 L57.85,271.08 L65.1,274.35 L72.35,271.62 L79.6,282.71 L86.85,289.28 L94.1,297.78 L101.35,312.72 L108.6,328.41 L115.85,312.39 L123.1,349.83 L130.35,354.95 L137.6,364 L144.85,351.57 L152.1,354.9 L159.35,342.77 L166.6,360.57 L173.85,360.32 L181.1,352.94 L188.35,314.76 L195.6,308.41 L202.85,309.72 L210.1,330.48 L217.35,341.08 L224.6,357.46 L231.85,335.39 L239.1,279.63 L246.35,350.65 L253.6,364" stroke="#000000" stroke-width="1.15" fill="none" stroke-dasharray="1.15 1.15" stroke-linejoin="round" clip-path="url(#cC)"/>
<path d="M41.75,253.4L44.95,256.6M41.75,256.6L44.95,253.4" stroke="#000000" stroke-width="1.2" fill="none"/><path d="M49,247.21L52.2,250.41M49,250.41L52.2,247.21" stroke="#000000" stroke-width="1.2" fill="none"/><path d="M56.25,269.48L59.45,272.68M56.25,272.68L59.45,269.48" stroke="#000000" stroke-width="1.2" fill="none"/><path d="M63.5,272.75L66.7,275.95M63.5,275.95L66.7,272.75" stroke="#000000" stroke-width="1.2" fill="none"/><path d="M70.75,270.02L73.95,273.22M70.75,273.22L73.95,270.02" stroke="#000000" stroke-width="1.2" fill="none"/><path d="M78,281.11L81.2,284.31M78,284.31L81.2,281.11" stroke="#000000" stroke-width="1.2" fill="none"/><path d="M85.25,287.68L88.45,290.88M85.25,290.88L88.45,287.68" stroke="#000000" stroke-width="1.2" fill="none"/><path d="M92.5,296.18L95.7,299.38M92.5,299.38L95.7,296.18" stroke="#000000" stroke-width="1.2" fill="none"/><path d="M99.75,311.12L102.95,314.32M99.75,314.32L102.95,311.12" stroke="#000000" stroke-width="1.2" fill="none"/><path d="M107,326.81L110.2,330.01M107,330.01L110.2,326.81" stroke="#000000" stroke-width="1.2" fill="none"/><path d="M114.25,310.79L117.45,313.99M114.25,313.99L117.45,310.79" stroke="#000000" stroke-width="1.2" fill="none"/><path d="M121.5,348.23L124.7,351.43M121.5,351.43L124.7,348.23" stroke="#000000" stroke-width="1.2" fill="none"/><path d="M128.75,353.35L131.95,356.55M128.75,356.55L131.95,353.35" stroke="#000000" stroke-width="1.2" fill="none"/><path d="M136,362.4L139.2,365.6M136,365.6L139.2,362.4" stroke="#000000" stroke-width="1.2" fill="none"/><path d="M143.25,349.97L146.45,353.17M143.25,353.17L146.45,349.97" stroke="#000000" stroke-width="1.2" fill="none"/><path d="M150.5,353.3L153.7,356.5M150.5,356.5L153.7,353.3" stroke="#000000" stroke-width="1.2" fill="none"/><path d="M157.75,341.17L160.95,344.37M157.75,344.37L160.95,341.17" stroke="#000000" stroke-width="1.2" fill="none"/><path d="M165,358.97L168.2,362.17M165,362.17L168.2,358.97" stroke="#000000" stroke-width="1.2" fill="none"/><path d="M172.25,358.72L175.45,361.92M172.25,361.92L175.45,358.72" stroke="#000000" stroke-width="1.2" fill="none"/><path d="M179.5,351.34L182.7,354.54M179.5,354.54L182.7,351.34" stroke="#000000" stroke-width="1.2" fill="none"/><path d="M186.75,313.16L189.95,316.36M186.75,316.36L189.95,313.16" stroke="#000000" stroke-width="1.2" fill="none"/><path d="M194,306.81L197.2,310.01M194,310.01L197.2,306.81" stroke="#000000" stroke-width="1.2" fill="none"/><path d="M201.25,308.12L204.45,311.32M201.25,311.32L204.45,308.12" stroke="#000000" stroke-width="1.2" fill="none"/><path d="M208.5,328.88L211.7,332.08M208.5,332.08L211.7,328.88" stroke="#000000" stroke-width="1.2" fill="none"/><path d="M215.75,339.48L218.95,342.68M215.75,342.68L218.95,339.48" stroke="#000000" stroke-width="1.2" fill="none"/><path d="M223,355.86L226.2,359.06M223,359.06L226.2,355.86" stroke="#000000" stroke-width="1.2" fill="none"/><path d="M230.25,333.79L233.45,336.99M230.25,336.99L233.45,333.79" stroke="#000000" stroke-width="1.2" fill="none"/><path d="M237.5,278.03L240.7,281.23M237.5,281.23L240.7,278.03" stroke="#000000" stroke-width="1.2" fill="none"/><path d="M244.75,349.05L247.95,352.25M244.75,352.25L247.95,349.05" stroke="#000000" stroke-width="1.2" fill="none"/><path d="M252,362.4L255.2,365.6M252,365.6L255.2,362.4" stroke="#000000" stroke-width="1.2" fill="none"/>
<path d="M43.35,255 L50.6,247.86 L57.85,271.9 L65.1,275.16 L72.35,271.9 L79.6,283.83 L86.85,290.21 L94.1,299.14 L101.35,310.92 L108.6,325.52 L115.85,310.7 L123.1,364 L130.35,364 L137.6,355.39 L144.85,358 L152.1,352.12 L159.35,342.2 L166.6,358.22 L173.85,357.73 L181.1,350.27 L188.35,310.97 L195.6,302.74 L202.85,320.94 L210.1,328.57 L217.35,339.64 L224.6,360.4 L231.85,334.02 L239.1,279.63 L246.35,351.47 L253.6,355.28" stroke="#ff80c0" stroke-width="1.05" fill="none" stroke-linejoin="round" clip-path="url(#cC)"/>
<rect x="41.7" y="253.35" width="3.3" height="3.3" stroke="#ff80c0" stroke-width="1" fill="none"/><rect x="48.95" y="246.21" width="3.3" height="3.3" stroke="#ff80c0" stroke-width="1" fill="none"/><rect x="56.2" y="270.25" width="3.3" height="3.3" stroke="#ff80c0" stroke-width="1" fill="none"/><rect x="63.45" y="273.51" width="3.3" height="3.3" stroke="#ff80c0" stroke-width="1" fill="none"/><rect x="70.7" y="270.25" width="3.3" height="3.3" stroke="#ff80c0" stroke-width="1" fill="none"/><rect x="77.95" y="282.18" width="3.3" height="3.3" stroke="#ff80c0" stroke-width="1" fill="none"/><rect x="85.2" y="288.56" width="3.3" height="3.3" stroke="#ff80c0" stroke-width="1" fill="none"/><rect x="92.45" y="297.5" width="3.3" height="3.3" stroke="#ff80c0" stroke-width="1" fill="none"/><rect x="99.7" y="309.27" width="3.3" height="3.3" stroke="#ff80c0" stroke-width="1" fill="none"/><rect x="106.95" y="323.87" width="3.3" height="3.3" stroke="#ff80c0" stroke-width="1" fill="none"/><rect x="114.2" y="309.05" width="3.3" height="3.3" stroke="#ff80c0" stroke-width="1" fill="none"/><rect x="121.45" y="362.35" width="3.3" height="3.3" stroke="#ff80c0" stroke-width="1" fill="none"/><rect x="128.7" y="362.35" width="3.3" height="3.3" stroke="#ff80c0" stroke-width="1" fill="none"/><rect x="135.95" y="353.74" width="3.3" height="3.3" stroke="#ff80c0" stroke-width="1" fill="none"/><rect x="143.2" y="356.36" width="3.3" height="3.3" stroke="#ff80c0" stroke-width="1" fill="none"/><rect x="150.45" y="350.47" width="3.3" height="3.3" stroke="#ff80c0" stroke-width="1" fill="none"/><rect x="157.7" y="340.55" width="3.3" height="3.3" stroke="#ff80c0" stroke-width="1" fill="none"/><rect x="164.95" y="356.57" width="3.3" height="3.3" stroke="#ff80c0" stroke-width="1" fill="none"/><rect x="172.2" y="356.08" width="3.3" height="3.3" stroke="#ff80c0" stroke-width="1" fill="none"/><rect x="179.45" y="348.62" width="3.3" height="3.3" stroke="#ff80c0" stroke-width="1" fill="none"/><rect x="186.7" y="309.32" width="3.3" height="3.3" stroke="#ff80c0" stroke-width="1" fill="none"/><rect x="193.95" y="301.09" width="3.3" height="3.3" stroke="#ff80c0" stroke-width="1" fill="none"/><rect x="201.2" y="319.3" width="3.3" height="3.3" stroke="#ff80c0" stroke-width="1" fill="none"/><rect x="208.45" y="326.92" width="3.3" height="3.3" stroke="#ff80c0" stroke-width="1" fill="none"/><rect x="215.7" y="337.99" width="3.3" height="3.3" stroke="#ff80c0" stroke-width="1" fill="none"/><rect x="222.95" y="358.75" width="3.3" height="3.3" stroke="#ff80c0" stroke-width="1" fill="none"/><rect x="230.2" y="332.38" width="3.3" height="3.3" stroke="#ff80c0" stroke-width="1" fill="none"/><rect x="237.45" y="277.98" width="3.3" height="3.3" stroke="#ff80c0" stroke-width="1" fill="none"/><rect x="244.7" y="349.82" width="3.3" height="3.3" stroke="#ff80c0" stroke-width="1" fill="none"/><rect x="251.95" y="353.63" width="3.3" height="3.3" stroke="#ff80c0" stroke-width="1" fill="none"/>
<path d="M43.35,255 L50.6,245.95 L57.85,273.53 L65.1,276.8 L72.35,272.44 L79.6,286.06 L86.85,292.06 L94.1,301.87 L101.35,307.32 L108.6,319.75 L115.85,307.32 L123.1,353.86 L130.35,353.43 L137.6,354.41 L144.85,349.29 L152.1,346.56 L159.35,333.7 L166.6,353.54 L173.85,352.56 L181.1,344.93 L188.35,303.4 L195.6,293.91 L202.85,321.49 L210.1,324.76 L217.35,336.75 L224.6,356.81 L231.85,331.3 L239.1,279.63 L246.35,353.1 L253.6,356.37" stroke="#1fbfbf" stroke-width="1.05" fill="none" stroke-linejoin="round" clip-path="url(#cC)"/>
<rect x="41.7" y="253.35" width="3.3" height="3.3" stroke="#1fbfbf" stroke-width="1" fill="none"/><rect x="48.95" y="244.3" width="3.3" height="3.3" stroke="#1fbfbf" stroke-width="1" fill="none"/><rect x="56.2" y="271.88" width="3.3" height="3.3" stroke="#1fbfbf" stroke-width="1" fill="none"/><rect x="63.45" y="275.15" width="3.3" height="3.3" stroke="#1fbfbf" stroke-width="1" fill="none"/><rect x="70.7" y="270.79" width="3.3" height="3.3" stroke="#1fbfbf" stroke-width="1" fill="none"/><rect x="77.95" y="284.41" width="3.3" height="3.3" stroke="#1fbfbf" stroke-width="1" fill="none"/><rect x="85.2" y="290.41" width="3.3" height="3.3" stroke="#1fbfbf" stroke-width="1" fill="none"/><rect x="92.45" y="300.22" width="3.3" height="3.3" stroke="#1fbfbf" stroke-width="1" fill="none"/><rect x="99.7" y="305.67" width="3.3" height="3.3" stroke="#1fbfbf" stroke-width="1" fill="none"/><rect x="106.95" y="318.1" width="3.3" height="3.3" stroke="#1fbfbf" stroke-width="1" fill="none"/><rect x="114.2" y="305.67" width="3.3" height="3.3" stroke="#1fbfbf" stroke-width="1" fill="none"/><rect x="121.45" y="352.21" width="3.3" height="3.3" stroke="#1fbfbf" stroke-width="1" fill="none"/><rect x="128.7" y="351.78" width="3.3" height="3.3" stroke="#1fbfbf" stroke-width="1" fill="none"/><rect x="135.95" y="352.76" width="3.3" height="3.3" stroke="#1fbfbf" stroke-width="1" fill="none"/><rect x="143.2" y="347.64" width="3.3" height="3.3" stroke="#1fbfbf" stroke-width="1" fill="none"/><rect x="150.45" y="344.91" width="3.3" height="3.3" stroke="#1fbfbf" stroke-width="1" fill="none"/><rect x="157.7" y="332.05" width="3.3" height="3.3" stroke="#1fbfbf" stroke-width="1" fill="none"/><rect x="164.95" y="351.89" width="3.3" height="3.3" stroke="#1fbfbf" stroke-width="1" fill="none"/><rect x="172.2" y="350.91" width="3.3" height="3.3" stroke="#1fbfbf" stroke-width="1" fill="none"/><rect x="179.45" y="343.28" width="3.3" height="3.3" stroke="#1fbfbf" stroke-width="1" fill="none"/><rect x="186.7" y="301.75" width="3.3" height="3.3" stroke="#1fbfbf" stroke-width="1" fill="none"/><rect x="193.95" y="292.26" width="3.3" height="3.3" stroke="#1fbfbf" stroke-width="1" fill="none"/><rect x="201.2" y="319.84" width="3.3" height="3.3" stroke="#1fbfbf" stroke-width="1" fill="none"/><rect x="208.45" y="323.11" width="3.3" height="3.3" stroke="#1fbfbf" stroke-width="1" fill="none"/><rect x="215.7" y="335.1" width="3.3" height="3.3" stroke="#1fbfbf" stroke-width="1" fill="none"/><rect x="222.95" y="355.16" width="3.3" height="3.3" stroke="#1fbfbf" stroke-width="1" fill="none"/><rect x="230.2" y="329.65" width="3.3" height="3.3" stroke="#1fbfbf" stroke-width="1" fill="none"/><rect x="237.45" y="277.98" width="3.3" height="3.3" stroke="#1fbfbf" stroke-width="1" fill="none"/><rect x="244.7" y="351.45" width="3.3" height="3.3" stroke="#1fbfbf" stroke-width="1" fill="none"/><rect x="251.95" y="354.72" width="3.3" height="3.3" stroke="#1fbfbf" stroke-width="1" fill="none"/>
<path d="M43.35,255 L50.6,249.77 L57.85,270.26 L65.1,273.53 L72.35,271.35 L79.6,281.6 L86.85,288.35 L94.1,296.42 L101.35,314.51 L108.6,331.3 L115.85,314.08 L123.1,364 L130.35,364 L137.6,354.41 L144.85,357.02 L152.1,357.68 L159.35,345.8 L166.6,362.91 L173.85,362.91 L181.1,355.61 L188.35,318.55 L195.6,308.95 L202.85,320.4 L210.1,332.39 L217.35,342.53 L224.6,364 L231.85,336.75 L239.1,279.63 L246.35,349.83 L253.6,354.19" stroke="#155e15" stroke-width="1.05" fill="none" stroke-linejoin="round" clip-path="url(#cC)"/>
<rect x="41.7" y="253.35" width="3.3" height="3.3" stroke="#155e15" stroke-width="1" fill="#143c14"/><rect x="48.95" y="248.12" width="3.3" height="3.3" stroke="#155e15" stroke-width="1" fill="#143c14"/><rect x="56.2" y="268.61" width="3.3" height="3.3" stroke="#155e15" stroke-width="1" fill="#143c14"/><rect x="63.45" y="271.88" width="3.3" height="3.3" stroke="#155e15" stroke-width="1" fill="#143c14"/><rect x="70.7" y="269.7" width="3.3" height="3.3" stroke="#155e15" stroke-width="1" fill="#143c14"/><rect x="77.95" y="279.95" width="3.3" height="3.3" stroke="#155e15" stroke-width="1" fill="#143c14"/><rect x="85.2" y="286.7" width="3.3" height="3.3" stroke="#155e15" stroke-width="1" fill="#143c14"/><rect x="92.45" y="294.77" width="3.3" height="3.3" stroke="#155e15" stroke-width="1" fill="#143c14"/><rect x="99.7" y="312.86" width="3.3" height="3.3" stroke="#155e15" stroke-width="1" fill="none"/><rect x="106.95" y="329.65" width="3.3" height="3.3" stroke="#155e15" stroke-width="1" fill="none"/><rect x="114.2" y="312.43" width="3.3" height="3.3" stroke="#155e15" stroke-width="1" fill="none"/><rect x="121.45" y="362.35" width="3.3" height="3.3" stroke="#155e15" stroke-width="1" fill="none"/><rect x="128.7" y="362.35" width="3.3" height="3.3" stroke="#155e15" stroke-width="1" fill="none"/><rect x="135.95" y="352.76" width="3.3" height="3.3" stroke="#155e15" stroke-width="1" fill="none"/><rect x="143.2" y="355.37" width="3.3" height="3.3" stroke="#155e15" stroke-width="1" fill="none"/><rect x="150.45" y="356.03" width="3.3" height="3.3" stroke="#155e15" stroke-width="1" fill="none"/><rect x="157.7" y="344.15" width="3.3" height="3.3" stroke="#155e15" stroke-width="1" fill="none"/><rect x="164.95" y="361.26" width="3.3" height="3.3" stroke="#155e15" stroke-width="1" fill="none"/><rect x="172.2" y="361.26" width="3.3" height="3.3" stroke="#155e15" stroke-width="1" fill="none"/><rect x="179.45" y="353.96" width="3.3" height="3.3" stroke="#155e15" stroke-width="1" fill="none"/><rect x="186.7" y="316.9" width="3.3" height="3.3" stroke="#155e15" stroke-width="1" fill="none"/><rect x="193.95" y="307.31" width="3.3" height="3.3" stroke="#155e15" stroke-width="1" fill="#143c14"/><rect x="201.2" y="318.75" width="3.3" height="3.3" stroke="#155e15" stroke-width="1" fill="none"/><rect x="208.45" y="330.74" width="3.3" height="3.3" stroke="#155e15" stroke-width="1" fill="none"/><rect x="215.7" y="340.88" width="3.3" height="3.3" stroke="#155e15" stroke-width="1" fill="#143c14"/><rect x="222.95" y="362.35" width="3.3" height="3.3" stroke="#155e15" stroke-width="1" fill="none"/><rect x="230.2" y="335.1" width="3.3" height="3.3" stroke="#155e15" stroke-width="1" fill="#143c14"/><rect x="237.45" y="277.98" width="3.3" height="3.3" stroke="#155e15" stroke-width="1" fill="#143c14"/><rect x="244.7" y="348.18" width="3.3" height="3.3" stroke="#155e15" stroke-width="1" fill="#143c14"/><rect x="251.95" y="352.54" width="3.3" height="3.3" stroke="#155e15" stroke-width="1" fill="none"/>
<text transform="translate(36.1 389) scale(1 1.09)" text-anchor="middle" font-size="10.7">0</text>
<text transform="translate(72.35 389) scale(1 1.09)" text-anchor="middle" font-size="10.7">5</text>
<text transform="translate(108.6 389) scale(1 1.09)" text-anchor="middle" font-size="10.7">10</text>
<text transform="translate(144.85 389) scale(1 1.09)" text-anchor="middle" font-size="10.7">15</text>
<text transform="translate(181.1 389) scale(1 1.09)" text-anchor="middle" font-size="10.7">20</text>
<text transform="translate(217.35 389) scale(1 1.09)" text-anchor="middle" font-size="10.7">25</text>
<text transform="translate(253.6 389) scale(1 1.09)" text-anchor="middle" font-size="10.7">30</text>
<text transform="translate(32.7 368.4) scale(1 1.09)" text-anchor="end" font-size="10.7">0.9</text>
<text transform="translate(32.7 346.6) scale(1 1.09)" text-anchor="end" font-size="10.7">0.92</text>
<text transform="translate(32.7 324.8) scale(1 1.09)" text-anchor="end" font-size="10.7">0.94</text>
<text transform="translate(32.7 303) scale(1 1.09)" text-anchor="end" font-size="10.7">0.96</text>
<text transform="translate(32.7 281.2) scale(1 1.09)" text-anchor="end" font-size="10.7">0.98</text>
<text transform="translate(32.7 259.4) scale(1 1.09)" text-anchor="end" font-size="10.7">1</text>
<text transform="translate(32.7 237.6) scale(1 1.09)" text-anchor="end" font-size="10.7">1.02</text>
<path d="M321.5,233.2V374.7M357.7,233.2V374.7M393.9,233.2V374.7M430.1,233.2V374.7M466.3,233.2V374.7M502.5,233.2V374.7M538.7,233.2V374.7M321.5,362.6H538.7M321.5,330.2H538.7M321.5,297.8H538.7M321.5,265.4H538.7M321.5,233H538.7" stroke="#ebebeb" stroke-width="0.7" fill="none"/>
<path d="M321.5,374.7v-2.2M321.5,233.2v2.2M357.7,374.7v-2.2M357.7,233.2v2.2M393.9,374.7v-2.2M393.9,233.2v2.2M430.1,374.7v-2.2M430.1,233.2v2.2M466.3,374.7v-2.2M466.3,233.2v2.2M502.5,374.7v-2.2M502.5,233.2v2.2M538.7,374.7v-2.2M538.7,233.2v2.2M321.5,362.6h2.2M538.7,362.6h-2.2M321.5,330.2h2.2M538.7,330.2h-2.2M321.5,297.8h2.2M538.7,297.8h-2.2M321.5,265.4h2.2M538.7,265.4h-2.2M321.5,233h2.2M538.7,233h-2.2" stroke="#959595" stroke-width="0.8" fill="none"/>
<rect x="321.5" y="233.2" width="217.2" height="141.5" stroke="#959595" stroke-width="0.9" fill="none"/>
<path d="M323.31,322.61 L325.12,322.01 L326.93,319.11 L328.74,311.53 L330.55,311.49 L332.36,313.87 L334.17,312.03 L335.98,311.08 L337.79,295.35 L339.6,292.16 L341.41,310.12 L343.22,316.97 L345.03,327.28 L346.84,315.67 L348.65,321.83 L350.46,318.24 L352.27,312.12 L354.08,318.14 L355.89,323.35 L357.7,321.63 L359.51,313.99 L361.32,292.49 L363.13,294.38 L364.94,274.62 L366.75,270 L368.56,273.12 L370.37,280.57 L372.18,281.33 L373.99,286.03 L375.8,285.72 L377.61,287.34 L379.42,285.64 L381.23,328.78 L383.04,324.76 L384.85,326.74 L386.66,324.49 L388.47,303.22 L390.28,315.75 L392.09,311.79 L393.9,313.58 L395.71,308.88 L397.52,338.1 L399.33,332.22 L401.14,329.61 L402.95,326.62 L404.76,294.46 L406.57,305.54 L408.38,308.33 L410.19,307.03 L412,318.07 L413.81,334.71 L415.62,340.06 L417.43,341.5 L419.24,327.63 L421.05,330.84 L422.86,330.53 L424.67,329.17 L426.48,335.45 L428.29,330.39 L430.1,323.26 L431.91,321.04 L433.72,323.31 L435.53,322.75 L437.34,321.31 L439.15,318.63 L440.96,326.19 L442.77,334.37 L444.58,333.46 L446.39,333.92 L448.2,322.81 L450.01,307.37 L451.82,315.65 L453.63,348.34 L455.44,352.88 L457.25,360.66 L459.06,343.07 L460.87,340.67 L462.68,346.31 L464.49,326.86 L466.3,330.85 L468.11,339.5 L469.92,332.83 L471.73,317.55 L473.54,304.28 L475.35,298.49 L477.16,269.79 L478.97,286.91 L480.78,275.06 L482.59,283.16 L484.4,287.29 L486.21,295.32 L488.02,305.27 L489.83,318.45 L491.64,327.22 L493.45,334.13 L495.26,334.82 L497.07,332.99 L498.88,319.1 L500.69,298.85 L502.5,282.53 L504.31,293.96 L506.12,277.85 L507.93,294.12 L509.74,295.95 L511.55,297.92 L513.36,297.46 L515.17,296.31 L516.98,293.81 L518.79,290.21 L520.6,287.49 L522.41,270.63 L524.22,294.84 L526.03,311.64 L527.84,283.52 L529.65,282.74 L531.46,336.36 L533.27,322.42 L535.08,359.36" stroke="#ff0000" stroke-width="1.15" fill="none" stroke-dasharray="1.15 1.15" stroke-linejoin="round" clip-path="url(#cD)"/>
<path d="M321.81,321.11L324.81,324.11M321.81,324.11L324.81,321.11" stroke="#ff0000" stroke-width="1.32" fill="none"/><path d="M323.62,320.51L326.62,323.51M323.62,323.51L326.62,320.51" stroke="#ff0000" stroke-width="1.32" fill="none"/><path d="M325.43,317.61L328.43,320.61M325.43,320.61L328.43,317.61" stroke="#ff0000" stroke-width="1.32" fill="none"/><path d="M327.24,310.03L330.24,313.03M327.24,313.03L330.24,310.03" stroke="#ff0000" stroke-width="1.32" fill="none"/><path d="M329.05,309.99L332.05,312.99M329.05,312.99L332.05,309.99" stroke="#ff0000" stroke-width="1.32" fill="none"/><path d="M330.86,312.37L333.86,315.37M330.86,315.37L333.86,312.37" stroke="#ff0000" stroke-width="1.32" fill="none"/><path d="M332.67,310.53L335.67,313.53M332.67,313.53L335.67,310.53" stroke="#ff0000" stroke-width="1.32" fill="none"/><path d="M334.48,309.58L337.48,312.58M334.48,312.58L337.48,309.58" stroke="#ff0000" stroke-width="1.32" fill="none"/><path d="M336.29,293.85L339.29,296.85M336.29,296.85L339.29,293.85" stroke="#ff0000" stroke-width="1.32" fill="none"/><path d="M338.1,290.66L341.1,293.66M338.1,293.66L341.1,290.66" stroke="#ff0000" stroke-width="1.32" fill="none"/><path d="M339.91,308.62L342.91,311.62M339.91,311.62L342.91,308.62" stroke="#ff0000" stroke-width="1.32" fill="none"/><path d="M341.72,315.47L344.72,318.47M341.72,318.47L344.72,315.47" stroke="#ff0000" stroke-width="1.32" fill="none"/><path d="M343.53,325.78L346.53,328.78M343.53,328.78L346.53,325.78" stroke="#ff0000" stroke-width="1.32" fill="none"/><path d="M345.34,314.17L348.34,317.17M345.34,317.17L348.34,314.17" stroke="#ff0000" stroke-width="1.32" fill="none"/><path d="M347.15,320.33L350.15,323.33M347.15,323.33L350.15,320.33" stroke="#ff0000" stroke-width="1.32" fill="none"/><path d="M348.96,316.74L351.96,319.74M348.96,319.74L351.96,316.74" stroke="#ff0000" stroke-width="1.32" fill="none"/><path d="M350.77,310.62L353.77,313.62M350.77,313.62L353.77,310.62" stroke="#ff0000" stroke-width="1.32" fill="none"/><path d="M352.58,316.64L355.58,319.64M352.58,319.64L355.58,316.64" stroke="#ff0000" stroke-width="1.32" fill="none"/><path d="M354.39,321.85L357.39,324.85M354.39,324.85L357.39,321.85" stroke="#ff0000" stroke-width="1.32" fill="none"/><path d="M356.2,320.13L359.2,323.13M356.2,323.13L359.2,320.13" stroke="#ff0000" stroke-width="1.32" fill="none"/><path d="M358.01,312.49L361.01,315.49M358.01,315.49L361.01,312.49" stroke="#ff0000" stroke-width="1.32" fill="none"/><path d="M359.82,290.99L362.82,293.99M359.82,293.99L362.82,290.99" stroke="#ff0000" stroke-width="1.32" fill="none"/><path d="M361.63,292.88L364.63,295.88M361.63,295.88L364.63,292.88" stroke="#ff0000" stroke-width="1.32" fill="none"/><path d="M363.44,273.12L366.44,276.12M363.44,276.12L366.44,273.12" stroke="#ff0000" stroke-width="1.32" fill="none"/><path d="M365.25,268.5L368.25,271.5M365.25,271.5L368.25,268.5" stroke="#ff0000" stroke-width="1.32" fill="none"/><path d="M367.06,271.62L370.06,274.62M367.06,274.62L370.06,271.62" stroke="#ff0000" stroke-width="1.32" fill="none"/><path d="M368.87,279.07L371.87,282.07M368.87,282.07L371.87,279.07" stroke="#ff0000" stroke-width="1.32" fill="none"/><path d="M370.68,279.83L373.68,282.83M370.68,282.83L373.68,279.83" stroke="#ff0000" stroke-width="1.32" fill="none"/><path d="M372.49,284.53L375.49,287.53M372.49,287.53L375.49,284.53" stroke="#ff0000" stroke-width="1.32" fill="none"/><path d="M374.3,284.22L377.3,287.22M374.3,287.22L377.3,284.22" stroke="#ff0000" stroke-width="1.32" fill="none"/><path d="M376.11,285.84L379.11,288.84M376.11,288.84L379.11,285.84" stroke="#ff0000" stroke-width="1.32" fill="none"/><path d="M377.92,284.14L380.92,287.14M377.92,287.14L380.92,284.14" stroke="#ff0000" stroke-width="1.32" fill="none"/><path d="M379.73,327.28L382.73,330.28M379.73,330.28L382.73,327.28" stroke="#ff0000" stroke-width="1.32" fill="none"/><path d="M381.54,323.26L384.54,326.26M381.54,326.26L384.54,323.26" stroke="#ff0000" stroke-width="1.32" fill="none"/><path d="M383.35,325.24L386.35,328.24M383.35,328.24L386.35,325.24" stroke="#ff0000" stroke-width="1.32" fill="none"/><path d="M385.16,322.99L388.16,325.99M385.16,325.99L388.16,322.99" stroke="#ff0000" stroke-width="1.32" fill="none"/><path d="M386.97,301.72L389.97,304.72M386.97,304.72L389.97,301.72" stroke="#ff0000" stroke-width="1.32" fill="none"/><path d="M388.78,314.25L391.78,317.25M388.78,317.25L391.78,314.25" stroke="#ff0000" stroke-width="1.32" fill="none"/><path d="M390.59,310.29L393.59,313.29M390.59,313.29L393.59,310.29" stroke="#ff0000" stroke-width="1.32" fill="none"/><path d="M392.4,312.08L395.4,315.08M392.4,315.08L395.4,312.08" stroke="#ff0000" stroke-width="1.32" fill="none"/><path d="M394.21,307.38L397.21,310.38M394.21,310.38L397.21,307.38" stroke="#ff0000" stroke-width="1.32" fill="none"/><path d="M396.02,336.6L399.02,339.6M396.02,339.6L399.02,336.6" stroke="#ff0000" stroke-width="1.32" fill="none"/><path d="M397.83,330.72L400.83,333.72M397.83,333.72L400.83,330.72" stroke="#ff0000" stroke-width="1.32" fill="none"/><path d="M399.64,328.11L402.64,331.11M399.64,331.11L402.64,328.11" stroke="#ff0000" stroke-width="1.32" fill="none"/><path d="M401.45,325.12L404.45,328.12M401.45,328.12L404.45,325.12" stroke="#ff0000" stroke-width="1.32" fill="none"/><path d="M403.26,292.96L406.26,295.96M403.26,295.96L406.26,292.96" stroke="#ff0000" stroke-width="1.32" fill="none"/><path d="M405.07,304.04L408.07,307.04M405.07,307.04L408.07,304.04" stroke="#ff0000" stroke-width="1.32" fill="none"/><path d="M406.88,306.83L409.88,309.83M406.88,309.83L409.88,306.83" stroke="#ff0000" stroke-width="1.32" fill="none"/><path d="M408.69,305.53L411.69,308.53M408.69,308.53L411.69,305.53" stroke="#ff0000" stroke-width="1.32" fill="none"/><path d="M410.5,316.57L413.5,319.57M410.5,319.57L413.5,316.57" stroke="#ff0000" stroke-width="1.32" fill="none"/><path d="M412.31,333.21L415.31,336.21M412.31,336.21L415.31,333.21" stroke="#ff0000" stroke-width="1.32" fill="none"/><path d="M414.12,338.56L417.12,341.56M414.12,341.56L417.12,338.56" stroke="#ff0000" stroke-width="1.32" fill="none"/><path d="M415.93,340L418.93,343M415.93,343L418.93,340" stroke="#ff0000" stroke-width="1.32" fill="none"/><path d="M417.74,326.13L420.74,329.13M417.74,329.13L420.74,326.13" stroke="#ff0000" stroke-width="1.32" fill="none"/><path d="M419.55,329.34L422.55,332.34M419.55,332.34L422.55,329.34" stroke="#ff0000" stroke-width="1.32" fill="none"/><path d="M421.36,329.03L424.36,332.03M421.36,332.03L424.36,329.03" stroke="#ff0000" stroke-width="1.32" fill="none"/><path d="M423.17,327.67L426.17,330.67M423.17,330.67L426.17,327.67" stroke="#ff0000" stroke-width="1.32" fill="none"/><path d="M424.98,333.95L427.98,336.95M424.98,336.95L427.98,333.95" stroke="#ff0000" stroke-width="1.32" fill="none"/><path d="M426.79,328.89L429.79,331.89M426.79,331.89L429.79,328.89" stroke="#ff0000" stroke-width="1.32" fill="none"/><path d="M428.6,321.76L431.6,324.76M428.6,324.76L431.6,321.76" stroke="#ff0000" stroke-width="1.32" fill="none"/><path d="M430.41,319.54L433.41,322.54M430.41,322.54L433.41,319.54" stroke="#ff0000" stroke-width="1.32" fill="none"/><path d="M432.22,321.81L435.22,324.81M432.22,324.81L435.22,321.81" stroke="#ff0000" stroke-width="1.32" fill="none"/><path d="M434.03,321.25L437.03,324.25M434.03,324.25L437.03,321.25" stroke="#ff0000" stroke-width="1.32" fill="none"/><path d="M435.84,319.81L438.84,322.81M435.84,322.81L438.84,319.81" stroke="#ff0000" stroke-width="1.32" fill="none"/><path d="M437.65,317.13L440.65,320.13M437.65,320.13L440.65,317.13" stroke="#ff0000" stroke-width="1.32" fill="none"/><path d="M439.46,324.69L442.46,327.69M439.46,327.69L442.46,324.69" stroke="#ff0000" stroke-width="1.32" fill="none"/><path d="M441.27,332.87L444.27,335.87M441.27,335.87L444.27,332.87" stroke="#ff0000" stroke-width="1.32" fill="none"/><path d="M443.08,331.96L446.08,334.96M443.08,334.96L446.08,331.96" stroke="#ff0000" stroke-width="1.32" fill="none"/><path d="M444.89,332.42L447.89,335.42M444.89,335.42L447.89,332.42" stroke="#ff0000" stroke-width="1.32" fill="none"/><path d="M446.7,321.31L449.7,324.31M446.7,324.31L449.7,321.31" stroke="#ff0000" stroke-width="1.32" fill="none"/><path d="M448.51,305.87L451.51,308.87M448.51,308.87L451.51,305.87" stroke="#ff0000" stroke-width="1.32" fill="none"/><path d="M450.32,314.15L453.32,317.15M450.32,317.15L453.32,314.15" stroke="#ff0000" stroke-width="1.32" fill="none"/><path d="M452.13,346.84L455.13,349.84M452.13,349.84L455.13,346.84" stroke="#ff0000" stroke-width="1.32" fill="none"/><path d="M453.94,351.38L456.94,354.38M453.94,354.38L456.94,351.38" stroke="#ff0000" stroke-width="1.32" fill="none"/><path d="M455.75,359.16L458.75,362.16M455.75,362.16L458.75,359.16" stroke="#ff0000" stroke-width="1.32" fill="none"/><path d="M457.56,341.57L460.56,344.57M457.56,344.57L460.56,341.57" stroke="#ff0000" stroke-width="1.32" fill="none"/><path d="M459.37,339.17L462.37,342.17M459.37,342.17L462.37,339.17" stroke="#ff0000" stroke-width="1.32" fill="none"/><path d="M461.18,344.81L464.18,347.81M461.18,347.81L464.18,344.81" stroke="#ff0000" stroke-width="1.32" fill="none"/><path d="M462.99,325.36L465.99,328.36M462.99,328.36L465.99,325.36" stroke="#ff0000" stroke-width="1.32" fill="none"/><path d="M464.8,329.35L467.8,332.35M464.8,332.35L467.8,329.35" stroke="#ff0000" stroke-width="1.32" fill="none"/><path d="M466.61,338L469.61,341M466.61,341L469.61,338" stroke="#ff0000" stroke-width="1.32" fill="none"/><path d="M468.42,331.33L471.42,334.33M468.42,334.33L471.42,331.33" stroke="#ff0000" stroke-width="1.32" fill="none"/><path d="M470.23,316.05L473.23,319.05M470.23,319.05L473.23,316.05" stroke="#ff0000" stroke-width="1.32" fill="none"/><path d="M472.04,302.78L475.04,305.78M472.04,305.78L475.04,302.78" stroke="#ff0000" stroke-width="1.32" fill="none"/><path d="M473.85,296.99L476.85,299.99M473.85,299.99L476.85,296.99" stroke="#ff0000" stroke-width="1.32" fill="none"/><path d="M475.66,268.29L478.66,271.29M475.66,271.29L478.66,268.29" stroke="#ff0000" stroke-width="1.32" fill="none"/><path d="M477.47,285.41L480.47,288.41M477.47,288.41L480.47,285.41" stroke="#ff0000" stroke-width="1.32" fill="none"/><path d="M479.28,273.56L482.28,276.56M479.28,276.56L482.28,273.56" stroke="#ff0000" stroke-width="1.32" fill="none"/><path d="M481.09,281.66L484.09,284.66M481.09,284.66L484.09,281.66" stroke="#ff0000" stroke-width="1.32" fill="none"/><path d="M482.9,285.79L485.9,288.79M482.9,288.79L485.9,285.79" stroke="#ff0000" stroke-width="1.32" fill="none"/><path d="M484.71,293.82L487.71,296.82M484.71,296.82L487.71,293.82" stroke="#ff0000" stroke-width="1.32" fill="none"/><path d="M486.52,303.77L489.52,306.77M486.52,306.77L489.52,303.77" stroke="#ff0000" stroke-width="1.32" fill="none"/><path d="M488.33,316.95L491.33,319.95M488.33,319.95L491.33,316.95" stroke="#ff0000" stroke-width="1.32" fill="none"/><path d="M490.14,325.72L493.14,328.72M490.14,328.72L493.14,325.72" stroke="#ff0000" stroke-width="1.32" fill="none"/><path d="M491.95,332.63L494.95,335.63M491.95,335.63L494.95,332.63" stroke="#ff0000" stroke-width="1.32" fill="none"/><path d="M493.76,333.32L496.76,336.32M493.76,336.32L496.76,333.32" stroke="#ff0000" stroke-width="1.32" fill="none"/><path d="M495.57,331.49L498.57,334.49M495.57,334.49L498.57,331.49" stroke="#ff0000" stroke-width="1.32" fill="none"/><path d="M497.38,317.6L500.38,320.6M497.38,320.6L500.38,317.6" stroke="#ff0000" stroke-width="1.32" fill="none"/><path d="M499.19,297.35L502.19,300.35M499.19,300.35L502.19,297.35" stroke="#ff0000" stroke-width="1.32" fill="none"/><path d="M501,281.03L504,284.03M501,284.03L504,281.03" stroke="#ff0000" stroke-width="1.32" fill="none"/><path d="M502.81,292.46L505.81,295.46M502.81,295.46L505.81,292.46" stroke="#ff0000" stroke-width="1.32" fill="none"/><path d="M504.62,276.35L507.62,279.35M504.62,279.35L507.62,276.35" stroke="#ff0000" stroke-width="1.32" fill="none"/><path d="M506.43,292.62L509.43,295.62M506.43,295.62L509.43,292.62" stroke="#ff0000" stroke-width="1.32" fill="none"/><path d="M508.24,294.45L511.24,297.45M508.24,297.45L511.24,294.45" stroke="#ff0000" stroke-width="1.32" fill="none"/><path d="M510.05,296.42L513.05,299.42M510.05,299.42L513.05,296.42" stroke="#ff0000" stroke-width="1.32" fill="none"/><path d="M511.86,295.96L514.86,298.96M511.86,298.96L514.86,295.96" stroke="#ff0000" stroke-width="1.32" fill="none"/><path d="M513.67,294.81L516.67,297.81M513.67,297.81L516.67,294.81" stroke="#ff0000" stroke-width="1.32" fill="none"/><path d="M515.48,292.31L518.48,295.31M515.48,295.31L518.48,292.31" stroke="#ff0000" stroke-width="1.32" fill="none"/><path d="M517.29,288.71L520.29,291.71M517.29,291.71L520.29,288.71" stroke="#ff0000" stroke-width="1.32" fill="none"/><path d="M519.1,285.99L522.1,288.99M519.1,288.99L522.1,285.99" stroke="#ff0000" stroke-width="1.32" fill="none"/><path d="M520.91,269.13L523.91,272.13M520.91,272.13L523.91,269.13" stroke="#ff0000" stroke-width="1.32" fill="none"/><path d="M522.72,293.34L525.72,296.34M522.72,296.34L525.72,293.34" stroke="#ff0000" stroke-width="1.32" fill="none"/><path d="M524.53,310.14L527.53,313.14M524.53,313.14L527.53,310.14" stroke="#ff0000" stroke-width="1.32" fill="none"/><path d="M526.34,282.02L529.34,285.02M526.34,285.02L529.34,282.02" stroke="#ff0000" stroke-width="1.32" fill="none"/><path d="M528.15,281.24L531.15,284.24M528.15,284.24L531.15,281.24" stroke="#ff0000" stroke-width="1.32" fill="none"/><path d="M529.96,334.86L532.96,337.86M529.96,337.86L532.96,334.86" stroke="#ff0000" stroke-width="1.32" fill="none"/><path d="M531.77,320.92L534.77,323.92M531.77,323.92L534.77,320.92" stroke="#ff0000" stroke-width="1.32" fill="none"/><path d="M533.58,357.86L536.58,360.86M533.58,360.86L536.58,357.86" stroke="#ff0000" stroke-width="1.32" fill="none"/>
<path d="M323.31,327.03 L325.12,328.14 L326.93,323.8 L328.74,316.98 L330.55,316.57 L332.36,318.5 L334.17,315.87 L335.98,316.45 L337.79,301 L339.6,297.68 L341.41,315.93 L343.22,321.2 L345.03,333.6 L346.84,320.89 L348.65,327.1 L350.46,323.1 L352.27,317.83 L354.08,324.41 L355.89,328.83 L357.7,327.1 L359.51,319.9 L361.32,297.07 L363.13,299.54 L364.94,280.9 L366.75,274.66 L368.56,276.93 L370.37,286.83 L372.18,287 L373.99,291.05 L375.8,292.15 L377.61,293.55 L379.42,291.77 L381.23,333.38 L383.04,331.3 L384.85,332.17 L386.66,330.85 L388.47,308.49 L390.28,320.28 L392.09,315.58 L393.9,318.85 L395.71,315.29 L397.52,342.87 L399.33,336.9 L401.14,334.51 L402.95,332.35 L404.76,300.16 L406.57,310.38 L408.38,314.28 L410.19,311.78 L412,323.39 L413.81,340.86 L415.62,346.51 L417.43,346.77 L419.24,333.49 L421.05,335.76 L422.86,335.36 L424.67,335.78 L426.48,341.94 L428.29,335.78 L430.1,329.02 L431.91,326.93 L433.72,328.09 L435.53,328.74 L437.34,326.81 L439.15,322.58 L440.96,331.19 L442.77,341.21 L444.58,338.73 L446.39,337.56 L448.2,327.63 L450.01,312.51 L451.82,319.28 L453.63,346.4 L455.44,350.94 L457.25,358.71 L459.06,346.72 L460.87,345.76 L462.68,350.58 L464.49,332.88 L466.3,336.02 L468.11,345.96 L469.92,339.79 L471.73,322.58 L473.54,310.85 L475.35,302.7 L477.16,275.03 L478.97,291.51 L480.78,278.96 L482.59,286.93 L484.4,291.52 L486.21,299.94 L488.02,309.64 L489.83,323.69 L491.64,332.64 L493.45,339.59 L495.26,341.28 L497.07,338.63 L498.88,324 L500.69,304.12 L502.5,286.9 L504.31,299.2 L506.12,283.53 L507.93,299.9 L509.74,300.66 L511.55,304 L513.36,302.11 L515.17,301.65 L516.98,300.01 L518.79,294.82 L520.6,291.68 L522.41,277.38 L524.22,299.5 L526.03,316.1 L527.84,287.16 L529.65,287.13 L531.46,337 L533.27,322.42 L535.08,358.71" stroke="#0000ff" stroke-width="1.15" fill="none" stroke-dasharray="1.15 1.15" stroke-linejoin="round" clip-path="url(#cD)"/>
<path d="M321.81,325.53L324.81,328.53M321.81,328.53L324.81,325.53" stroke="#0000ff" stroke-width="1.32" fill="none"/><path d="M323.62,326.64L326.62,329.64M323.62,329.64L326.62,326.64" stroke="#0000ff" stroke-width="1.32" fill="none"/><path d="M325.43,322.3L328.43,325.3M325.43,325.3L328.43,322.3" stroke="#0000ff" stroke-width="1.32" fill="none"/><path d="M327.24,315.48L330.24,318.48M327.24,318.48L330.24,315.48" stroke="#0000ff" stroke-width="1.32" fill="none"/><path d="M329.05,315.07L332.05,318.07M329.05,318.07L332.05,315.07" stroke="#0000ff" stroke-width="1.32" fill="none"/><path d="M330.86,317L333.86,320M330.86,320L333.86,317" stroke="#0000ff" stroke-width="1.32" fill="none"/><path d="M332.67,314.37L335.67,317.37M332.67,317.37L335.67,314.37" stroke="#0000ff" stroke-width="1.32" fill="none"/><path d="M334.48,314.95L337.48,317.95M334.48,317.95L337.48,314.95" stroke="#0000ff" stroke-width="1.32" fill="none"/><path d="M336.29,299.5L339.29,302.5M336.29,302.5L339.29,299.5" stroke="#0000ff" stroke-width="1.32" fill="none"/><path d="M338.1,296.18L341.1,299.18M338.1,299.18L341.1,296.18" stroke="#0000ff" stroke-width="1.32" fill="none"/><path d="M339.91,314.43L342.91,317.43M339.91,317.43L342.91,314.43" stroke="#0000ff" stroke-width="1.32" fill="none"/><path d="M341.72,319.7L344.72,322.7M341.72,322.7L344.72,319.7" stroke="#0000ff" stroke-width="1.32" fill="none"/><path d="M343.53,332.1L346.53,335.1M343.53,335.1L346.53,332.1" stroke="#0000ff" stroke-width="1.32" fill="none"/><path d="M345.34,319.39L348.34,322.39M345.34,322.39L348.34,319.39" stroke="#0000ff" stroke-width="1.32" fill="none"/><path d="M347.15,325.6L350.15,328.6M347.15,328.6L350.15,325.6" stroke="#0000ff" stroke-width="1.32" fill="none"/><path d="M348.96,321.6L351.96,324.6M348.96,324.6L351.96,321.6" stroke="#0000ff" stroke-width="1.32" fill="none"/><path d="M350.77,316.33L353.77,319.33M350.77,319.33L353.77,316.33" stroke="#0000ff" stroke-width="1.32" fill="none"/><path d="M352.58,322.91L355.58,325.91M352.58,325.91L355.58,322.91" stroke="#0000ff" stroke-width="1.32" fill="none"/><path d="M354.39,327.33L357.39,330.33M354.39,330.33L357.39,327.33" stroke="#0000ff" stroke-width="1.32" fill="none"/><path d="M356.2,325.6L359.2,328.6M356.2,328.6L359.2,325.6" stroke="#0000ff" stroke-width="1.32" fill="none"/><path d="M358.01,318.4L361.01,321.4M358.01,321.4L361.01,318.4" stroke="#0000ff" stroke-width="1.32" fill="none"/><path d="M359.82,295.57L362.82,298.57M359.82,298.57L362.82,295.57" stroke="#0000ff" stroke-width="1.32" fill="none"/><path d="M361.63,298.04L364.63,301.04M361.63,301.04L364.63,298.04" stroke="#0000ff" stroke-width="1.32" fill="none"/><path d="M363.44,279.4L366.44,282.4M363.44,282.4L366.44,279.4" stroke="#0000ff" stroke-width="1.32" fill="none"/><path d="M365.25,273.16L368.25,276.16M365.25,276.16L368.25,273.16" stroke="#0000ff" stroke-width="1.32" fill="none"/><path d="M367.06,275.43L370.06,278.43M367.06,278.43L370.06,275.43" stroke="#0000ff" stroke-width="1.32" fill="none"/><path d="M368.87,285.33L371.87,288.33M368.87,288.33L371.87,285.33" stroke="#0000ff" stroke-width="1.32" fill="none"/><path d="M370.68,285.5L373.68,288.5M370.68,288.5L373.68,285.5" stroke="#0000ff" stroke-width="1.32" fill="none"/><path d="M372.49,289.55L375.49,292.55M372.49,292.55L375.49,289.55" stroke="#0000ff" stroke-width="1.32" fill="none"/><path d="M374.3,290.65L377.3,293.65M374.3,293.65L377.3,290.65" stroke="#0000ff" stroke-width="1.32" fill="none"/><path d="M376.11,292.05L379.11,295.05M376.11,295.05L379.11,292.05" stroke="#0000ff" stroke-width="1.32" fill="none"/><path d="M377.92,290.27L380.92,293.27M377.92,293.27L380.92,290.27" stroke="#0000ff" stroke-width="1.32" fill="none"/><path d="M379.73,331.88L382.73,334.88M379.73,334.88L382.73,331.88" stroke="#0000ff" stroke-width="1.32" fill="none"/><path d="M381.54,329.8L384.54,332.8M381.54,332.8L384.54,329.8" stroke="#0000ff" stroke-width="1.32" fill="none"/><path d="M383.35,330.67L386.35,333.67M383.35,333.67L386.35,330.67" stroke="#0000ff" stroke-width="1.32" fill="none"/><path d="M385.16,329.35L388.16,332.35M385.16,332.35L388.16,329.35" stroke="#0000ff" stroke-width="1.32" fill="none"/><path d="M386.97,306.99L389.97,309.99M386.97,309.99L389.97,306.99" stroke="#0000ff" stroke-width="1.32" fill="none"/><path d="M388.78,318.78L391.78,321.78M388.78,321.78L391.78,318.78" stroke="#0000ff" stroke-width="1.32" fill="none"/><path d="M390.59,314.08L393.59,317.08M390.59,317.08L393.59,314.08" stroke="#0000ff" stroke-width="1.32" fill="none"/><path d="M392.4,317.35L395.4,320.35M392.4,320.35L395.4,317.35" stroke="#0000ff" stroke-width="1.32" fill="none"/><path d="M394.21,313.79L397.21,316.79M394.21,316.79L397.21,313.79" stroke="#0000ff" stroke-width="1.32" fill="none"/><path d="M396.02,341.37L399.02,344.37M396.02,344.37L399.02,341.37" stroke="#0000ff" stroke-width="1.32" fill="none"/><path d="M397.83,335.4L400.83,338.4M397.83,338.4L400.83,335.4" stroke="#0000ff" stroke-width="1.32" fill="none"/><path d="M399.64,333.01L402.64,336.01M399.64,336.01L402.64,333.01" stroke="#0000ff" stroke-width="1.32" fill="none"/><path d="M401.45,330.85L404.45,333.85M401.45,333.85L404.45,330.85" stroke="#0000ff" stroke-width="1.32" fill="none"/><path d="M403.26,298.66L406.26,301.66M403.26,301.66L406.26,298.66" stroke="#0000ff" stroke-width="1.32" fill="none"/><path d="M405.07,308.88L408.07,311.88M405.07,311.88L408.07,308.88" stroke="#0000ff" stroke-width="1.32" fill="none"/><path d="M406.88,312.78L409.88,315.78M406.88,315.78L409.88,312.78" stroke="#0000ff" stroke-width="1.32" fill="none"/><path d="M408.69,310.28L411.69,313.28M408.69,313.28L411.69,310.28" stroke="#0000ff" stroke-width="1.32" fill="none"/><path d="M410.5,321.89L413.5,324.89M410.5,324.89L413.5,321.89" stroke="#0000ff" stroke-width="1.32" fill="none"/><path d="M412.31,339.36L415.31,342.36M412.31,342.36L415.31,339.36" stroke="#0000ff" stroke-width="1.32" fill="none"/><path d="M414.12,345.01L417.12,348.01M414.12,348.01L417.12,345.01" stroke="#0000ff" stroke-width="1.32" fill="none"/><path d="M415.93,345.27L418.93,348.27M415.93,348.27L418.93,345.27" stroke="#0000ff" stroke-width="1.32" fill="none"/><path d="M417.74,331.99L420.74,334.99M417.74,334.99L420.74,331.99" stroke="#0000ff" stroke-width="1.32" fill="none"/><path d="M419.55,334.26L422.55,337.26M419.55,337.26L422.55,334.26" stroke="#0000ff" stroke-width="1.32" fill="none"/><path d="M421.36,333.86L424.36,336.86M421.36,336.86L424.36,333.86" stroke="#0000ff" stroke-width="1.32" fill="none"/><path d="M423.17,334.28L426.17,337.28M423.17,337.28L426.17,334.28" stroke="#0000ff" stroke-width="1.32" fill="none"/><path d="M424.98,340.44L427.98,343.44M424.98,343.44L427.98,340.44" stroke="#0000ff" stroke-width="1.32" fill="none"/><path d="M426.79,334.28L429.79,337.28M426.79,337.28L429.79,334.28" stroke="#0000ff" stroke-width="1.32" fill="none"/><path d="M428.6,327.52L431.6,330.52M428.6,330.52L431.6,327.52" stroke="#0000ff" stroke-width="1.32" fill="none"/><path d="M430.41,325.43L433.41,328.43M430.41,328.43L433.41,325.43" stroke="#0000ff" stroke-width="1.32" fill="none"/><path d="M432.22,326.59L435.22,329.59M432.22,329.59L435.22,326.59" stroke="#0000ff" stroke-width="1.32" fill="none"/><path d="M434.03,327.24L437.03,330.24M434.03,330.24L437.03,327.24" stroke="#0000ff" stroke-width="1.32" fill="none"/><path d="M435.84,325.31L438.84,328.31M435.84,328.31L438.84,325.31" stroke="#0000ff" stroke-width="1.32" fill="none"/><path d="M437.65,321.08L440.65,324.08M437.65,324.08L440.65,321.08" stroke="#0000ff" stroke-width="1.32" fill="none"/><path d="M439.46,329.69L442.46,332.69M439.46,332.69L442.46,329.69" stroke="#0000ff" stroke-width="1.32" fill="none"/><path d="M441.27,339.71L444.27,342.71M441.27,342.71L444.27,339.71" stroke="#0000ff" stroke-width="1.32" fill="none"/><path d="M443.08,337.23L446.08,340.23M443.08,340.23L446.08,337.23" stroke="#0000ff" stroke-width="1.32" fill="none"/><path d="M444.89,336.06L447.89,339.06M444.89,339.06L447.89,336.06" stroke="#0000ff" stroke-width="1.32" fill="none"/><path d="M446.7,326.13L449.7,329.13M446.7,329.13L449.7,326.13" stroke="#0000ff" stroke-width="1.32" fill="none"/><path d="M448.51,311.01L451.51,314.01M448.51,314.01L451.51,311.01" stroke="#0000ff" stroke-width="1.32" fill="none"/><path d="M450.32,317.78L453.32,320.78M450.32,320.78L453.32,317.78" stroke="#0000ff" stroke-width="1.32" fill="none"/><path d="M452.13,344.9L455.13,347.9M452.13,347.9L455.13,344.9" stroke="#0000ff" stroke-width="1.32" fill="none"/><path d="M453.94,349.44L456.94,352.44M453.94,352.44L456.94,349.44" stroke="#0000ff" stroke-width="1.32" fill="none"/><path d="M455.75,357.21L458.75,360.21M455.75,360.21L458.75,357.21" stroke="#0000ff" stroke-width="1.32" fill="none"/><path d="M457.56,345.22L460.56,348.22M457.56,348.22L460.56,345.22" stroke="#0000ff" stroke-width="1.32" fill="none"/><path d="M459.37,344.26L462.37,347.26M459.37,347.26L462.37,344.26" stroke="#0000ff" stroke-width="1.32" fill="none"/><path d="M461.18,349.08L464.18,352.08M461.18,352.08L464.18,349.08" stroke="#0000ff" stroke-width="1.32" fill="none"/><path d="M462.99,331.38L465.99,334.38M462.99,334.38L465.99,331.38" stroke="#0000ff" stroke-width="1.32" fill="none"/><path d="M464.8,334.52L467.8,337.52M464.8,337.52L467.8,334.52" stroke="#0000ff" stroke-width="1.32" fill="none"/><path d="M466.61,344.46L469.61,347.46M466.61,347.46L469.61,344.46" stroke="#0000ff" stroke-width="1.32" fill="none"/><path d="M468.42,338.29L471.42,341.29M468.42,341.29L471.42,338.29" stroke="#0000ff" stroke-width="1.32" fill="none"/><path d="M470.23,321.08L473.23,324.08M470.23,324.08L473.23,321.08" stroke="#0000ff" stroke-width="1.32" fill="none"/><path d="M472.04,309.35L475.04,312.35M472.04,312.35L475.04,309.35" stroke="#0000ff" stroke-width="1.32" fill="none"/><path d="M473.85,301.2L476.85,304.2M473.85,304.2L476.85,301.2" stroke="#0000ff" stroke-width="1.32" fill="none"/><path d="M475.66,273.53L478.66,276.53M475.66,276.53L478.66,273.53" stroke="#0000ff" stroke-width="1.32" fill="none"/><path d="M477.47,290.01L480.47,293.01M477.47,293.01L480.47,290.01" stroke="#0000ff" stroke-width="1.32" fill="none"/><path d="M479.28,277.46L482.28,280.46M479.28,280.46L482.28,277.46" stroke="#0000ff" stroke-width="1.32" fill="none"/><path d="M481.09,285.43L484.09,288.43M481.09,288.43L484.09,285.43" stroke="#0000ff" stroke-width="1.32" fill="none"/><path d="M482.9,290.02L485.9,293.02M482.9,293.02L485.9,290.02" stroke="#0000ff" stroke-width="1.32" fill="none"/><path d="M484.71,298.44L487.71,301.44M484.71,301.44L487.71,298.44" stroke="#0000ff" stroke-width="1.32" fill="none"/><path d="M486.52,308.14L489.52,311.14M486.52,311.14L489.52,308.14" stroke="#0000ff" stroke-width="1.32" fill="none"/><path d="M488.33,322.19L491.33,325.19M488.33,325.19L491.33,322.19" stroke="#0000ff" stroke-width="1.32" fill="none"/><path d="M490.14,331.14L493.14,334.14M490.14,334.14L493.14,331.14" stroke="#0000ff" stroke-width="1.32" fill="none"/><path d="M491.95,338.09L494.95,341.09M491.95,341.09L494.95,338.09" stroke="#0000ff" stroke-width="1.32" fill="none"/><path d="M493.76,339.78L496.76,342.78M493.76,342.78L496.76,339.78" stroke="#0000ff" stroke-width="1.32" fill="none"/><path d="M495.57,337.13L498.57,340.13M495.57,340.13L498.57,337.13" stroke="#0000ff" stroke-width="1.32" fill="none"/><path d="M497.38,322.5L500.38,325.5M497.38,325.5L500.38,322.5" stroke="#0000ff" stroke-width="1.32" fill="none"/><path d="M499.19,302.62L502.19,305.62M499.19,305.62L502.19,302.62" stroke="#0000ff" stroke-width="1.32" fill="none"/><path d="M501,285.4L504,288.4M501,288.4L504,285.4" stroke="#0000ff" stroke-width="1.32" fill="none"/><path d="M502.81,297.7L505.81,300.7M502.81,300.7L505.81,297.7" stroke="#0000ff" stroke-width="1.32" fill="none"/><path d="M504.62,282.03L507.62,285.03M504.62,285.03L507.62,282.03" stroke="#0000ff" stroke-width="1.32" fill="none"/><path d="M506.43,298.4L509.43,301.4M506.43,301.4L509.43,298.4" stroke="#0000ff" stroke-width="1.32" fill="none"/><path d="M508.24,299.16L511.24,302.16M508.24,302.16L511.24,299.16" stroke="#0000ff" stroke-width="1.32" fill="none"/><path d="M510.05,302.5L513.05,305.5M510.05,305.5L513.05,302.5" stroke="#0000ff" stroke-width="1.32" fill="none"/><path d="M511.86,300.61L514.86,303.61M511.86,303.61L514.86,300.61" stroke="#0000ff" stroke-width="1.32" fill="none"/><path d="M513.67,300.15L516.67,303.15M513.67,303.15L516.67,300.15" stroke="#0000ff" stroke-width="1.32" fill="none"/><path d="M515.48,298.51L518.48,301.51M515.48,301.51L518.48,298.51" stroke="#0000ff" stroke-width="1.32" fill="none"/><path d="M517.29,293.32L520.29,296.32M517.29,296.32L520.29,293.32" stroke="#0000ff" stroke-width="1.32" fill="none"/><path d="M519.1,290.18L522.1,293.18M519.1,293.18L522.1,290.18" stroke="#0000ff" stroke-width="1.32" fill="none"/><path d="M520.91,275.88L523.91,278.88M520.91,278.88L523.91,275.88" stroke="#0000ff" stroke-width="1.32" fill="none"/><path d="M522.72,298L525.72,301M522.72,301L525.72,298" stroke="#0000ff" stroke-width="1.32" fill="none"/><path d="M524.53,314.6L527.53,317.6M524.53,317.6L527.53,314.6" stroke="#0000ff" stroke-width="1.32" fill="none"/><path d="M526.34,285.66L529.34,288.66M526.34,288.66L529.34,285.66" stroke="#0000ff" stroke-width="1.32" fill="none"/><path d="M528.15,285.63L531.15,288.63M528.15,288.63L531.15,285.63" stroke="#0000ff" stroke-width="1.32" fill="none"/><path d="M529.96,335.5L532.96,338.5M529.96,338.5L532.96,335.5" stroke="#0000ff" stroke-width="1.32" fill="none"/><path d="M531.77,320.92L534.77,323.92M531.77,323.92L534.77,320.92" stroke="#0000ff" stroke-width="1.32" fill="none"/><path d="M533.58,357.21L536.58,360.21M533.58,360.21L536.58,357.21" stroke="#0000ff" stroke-width="1.32" fill="none"/>
<path d="M323.31,318.47 L325.12,318.18 L326.93,314.95 L328.74,307.48 L330.55,307.62 L332.36,308.85 L334.17,306.51 L335.98,308.17 L337.79,291.25 L339.6,287.92 L341.41,307.36 L343.22,313.26 L345.03,323.1 L346.84,310.95 L348.65,318.42 L350.46,313.35 L352.27,308.41 L354.08,314.89 L355.89,319.38 L357.7,317.7 L359.51,310 L361.32,287.61 L363.13,291.07 L364.94,270.81 L366.75,265.89 L368.56,267.92 L370.37,276.78 L372.18,277.22 L373.99,282.79 L375.8,282.66 L377.61,283.71 L379.42,282.11 L381.23,324 L383.04,321.28 L384.85,322.03 L386.66,320.97 L388.47,299.83 L390.28,310.93 L392.09,306.88 L393.9,308.55 L395.71,305.68 L397.52,333.51 L399.33,328.31 L401.14,325.35 L402.95,322.38 L404.76,289.77 L406.57,301.6 L408.38,304.38 L410.19,303.08 L412,314.16 L413.81,330.28 L415.62,336.84 L417.43,337.46 L419.24,323.99 L421.05,327.27 L422.86,325.71 L424.67,326.15 L426.48,331.74 L428.29,326.75 L430.1,318.68 L431.91,316.86 L433.72,318.32 L435.53,318.88 L437.34,317.16 L439.15,314.51 L440.96,321.01 L442.77,331.49 L444.58,330.66 L446.39,328.55 L448.2,319.77 L450.01,303.51 L451.82,311.28 L453.63,349.64 L455.44,354.18 L457.25,361.95 L459.06,337.53 L460.87,337.17 L462.68,340.77 L464.49,322.85 L466.3,325.88 L468.11,335.45 L469.92,329.45 L471.73,312.96 L473.54,301.64 L475.35,293.57 L477.16,264.74 L478.97,282.62 L480.78,270.45 L482.59,278.04 L484.4,282.33 L486.21,291.89 L488.02,300.62 L489.83,313.27 L491.64,323.29 L493.45,329.89 L495.26,331.91 L497.07,329.88 L498.88,314.5 L500.69,294.23 L502.5,278.5 L504.31,290.2 L506.12,273.96 L507.93,290.22 L509.74,292.07 L511.55,295.1 L513.36,293.26 L515.17,291.35 L516.98,290.14 L518.79,285.17 L520.6,283.34 L522.41,267.1 L524.22,290.34 L526.03,307.29 L527.84,278.34 L529.65,278.38 L531.46,335.38 L533.27,319.83 L535.08,361.3" stroke="#000000" stroke-width="1.15" fill="none" stroke-dasharray="1.15 1.15" stroke-linejoin="round" clip-path="url(#cD)"/>
<path d="M321.81,316.97L324.81,319.97M321.81,319.97L324.81,316.97" stroke="#000000" stroke-width="1.32" fill="none"/><path d="M323.62,316.68L326.62,319.68M323.62,319.68L326.62,316.68" stroke="#000000" stroke-width="1.32" fill="none"/><path d="M325.43,313.45L328.43,316.45M325.43,316.45L328.43,313.45" stroke="#000000" stroke-width="1.32" fill="none"/><path d="M327.24,305.98L330.24,308.98M327.24,308.98L330.24,305.98" stroke="#000000" stroke-width="1.32" fill="none"/><path d="M329.05,306.12L332.05,309.12M329.05,309.12L332.05,306.12" stroke="#000000" stroke-width="1.32" fill="none"/><path d="M330.86,307.35L333.86,310.35M330.86,310.35L333.86,307.35" stroke="#000000" stroke-width="1.32" fill="none"/><path d="M332.67,305.01L335.67,308.01M332.67,308.01L335.67,305.01" stroke="#000000" stroke-width="1.32" fill="none"/><path d="M334.48,306.67L337.48,309.67M334.48,309.67L337.48,306.67" stroke="#000000" stroke-width="1.32" fill="none"/><path d="M336.29,289.75L339.29,292.75M336.29,292.75L339.29,289.75" stroke="#000000" stroke-width="1.32" fill="none"/><path d="M338.1,286.42L341.1,289.42M338.1,289.42L341.1,286.42" stroke="#000000" stroke-width="1.32" fill="none"/><path d="M339.91,305.86L342.91,308.86M339.91,308.86L342.91,305.86" stroke="#000000" stroke-width="1.32" fill="none"/><path d="M341.72,311.76L344.72,314.76M341.72,314.76L344.72,311.76" stroke="#000000" stroke-width="1.32" fill="none"/><path d="M343.53,321.6L346.53,324.6M343.53,324.6L346.53,321.6" stroke="#000000" stroke-width="1.32" fill="none"/><path d="M345.34,309.45L348.34,312.45M345.34,312.45L348.34,309.45" stroke="#000000" stroke-width="1.32" fill="none"/><path d="M347.15,316.92L350.15,319.92M347.15,319.92L350.15,316.92" stroke="#000000" stroke-width="1.32" fill="none"/><path d="M348.96,311.85L351.96,314.85M348.96,314.85L351.96,311.85" stroke="#000000" stroke-width="1.32" fill="none"/><path d="M350.77,306.91L353.77,309.91M350.77,309.91L353.77,306.91" stroke="#000000" stroke-width="1.32" fill="none"/><path d="M352.58,313.39L355.58,316.39M352.58,316.39L355.58,313.39" stroke="#000000" stroke-width="1.32" fill="none"/><path d="M354.39,317.88L357.39,320.88M354.39,320.88L357.39,317.88" stroke="#000000" stroke-width="1.32" fill="none"/><path d="M356.2,316.2L359.2,319.2M356.2,319.2L359.2,316.2" stroke="#000000" stroke-width="1.32" fill="none"/><path d="M358.01,308.5L361.01,311.5M358.01,311.5L361.01,308.5" stroke="#000000" stroke-width="1.32" fill="none"/><path d="M359.82,286.11L362.82,289.11M359.82,289.11L362.82,286.11" stroke="#000000" stroke-width="1.32" fill="none"/><path d="M361.63,289.57L364.63,292.57M361.63,292.57L364.63,289.57" stroke="#000000" stroke-width="1.32" fill="none"/><path d="M363.44,269.31L366.44,272.31M363.44,272.31L366.44,269.31" stroke="#000000" stroke-width="1.32" fill="none"/><path d="M365.25,264.39L368.25,267.39M365.25,267.39L368.25,264.39" stroke="#000000" stroke-width="1.32" fill="none"/><path d="M367.06,266.42L370.06,269.42M367.06,269.42L370.06,266.42" stroke="#000000" stroke-width="1.32" fill="none"/><path d="M368.87,275.28L371.87,278.28M368.87,278.28L371.87,275.28" stroke="#000000" stroke-width="1.32" fill="none"/><path d="M370.68,275.72L373.68,278.72M370.68,278.72L373.68,275.72" stroke="#000000" stroke-width="1.32" fill="none"/><path d="M372.49,281.29L375.49,284.29M372.49,284.29L375.49,281.29" stroke="#000000" stroke-width="1.32" fill="none"/><path d="M374.3,281.16L377.3,284.16M374.3,284.16L377.3,281.16" stroke="#000000" stroke-width="1.32" fill="none"/><path d="M376.11,282.21L379.11,285.21M376.11,285.21L379.11,282.21" stroke="#000000" stroke-width="1.32" fill="none"/><path d="M377.92,280.61L380.92,283.61M377.92,283.61L380.92,280.61" stroke="#000000" stroke-width="1.32" fill="none"/><path d="M379.73,322.5L382.73,325.5M379.73,325.5L382.73,322.5" stroke="#000000" stroke-width="1.32" fill="none"/><path d="M381.54,319.78L384.54,322.78M381.54,322.78L384.54,319.78" stroke="#000000" stroke-width="1.32" fill="none"/><path d="M383.35,320.53L386.35,323.53M383.35,323.53L386.35,320.53" stroke="#000000" stroke-width="1.32" fill="none"/><path d="M385.16,319.47L388.16,322.47M385.16,322.47L388.16,319.47" stroke="#000000" stroke-width="1.32" fill="none"/><path d="M386.97,298.33L389.97,301.33M386.97,301.33L389.97,298.33" stroke="#000000" stroke-width="1.32" fill="none"/><path d="M388.78,309.43L391.78,312.43M388.78,312.43L391.78,309.43" stroke="#000000" stroke-width="1.32" fill="none"/><path d="M390.59,305.38L393.59,308.38M390.59,308.38L393.59,305.38" stroke="#000000" stroke-width="1.32" fill="none"/><path d="M392.4,307.05L395.4,310.05M392.4,310.05L395.4,307.05" stroke="#000000" stroke-width="1.32" fill="none"/><path d="M394.21,304.18L397.21,307.18M394.21,307.18L397.21,304.18" stroke="#000000" stroke-width="1.32" fill="none"/><path d="M396.02,332.01L399.02,335.01M396.02,335.01L399.02,332.01" stroke="#000000" stroke-width="1.32" fill="none"/><path d="M397.83,326.81L400.83,329.81M397.83,329.81L400.83,326.81" stroke="#000000" stroke-width="1.32" fill="none"/><path d="M399.64,323.85L402.64,326.85M399.64,326.85L402.64,323.85" stroke="#000000" stroke-width="1.32" fill="none"/><path d="M401.45,320.88L404.45,323.88M401.45,323.88L404.45,320.88" stroke="#000000" stroke-width="1.32" fill="none"/><path d="M403.26,288.27L406.26,291.27M403.26,291.27L406.26,288.27" stroke="#000000" stroke-width="1.32" fill="none"/><path d="M405.07,300.1L408.07,303.1M405.07,303.1L408.07,300.1" stroke="#000000" stroke-width="1.32" fill="none"/><path d="M406.88,302.88L409.88,305.88M406.88,305.88L409.88,302.88" stroke="#000000" stroke-width="1.32" fill="none"/><path d="M408.69,301.58L411.69,304.58M408.69,304.58L411.69,301.58" stroke="#000000" stroke-width="1.32" fill="none"/><path d="M410.5,312.66L413.5,315.66M410.5,315.66L413.5,312.66" stroke="#000000" stroke-width="1.32" fill="none"/><path d="M412.31,328.78L415.31,331.78M412.31,331.78L415.31,328.78" stroke="#000000" stroke-width="1.32" fill="none"/><path d="M414.12,335.34L417.12,338.34M414.12,338.34L417.12,335.34" stroke="#000000" stroke-width="1.32" fill="none"/><path d="M415.93,335.96L418.93,338.96M415.93,338.96L418.93,335.96" stroke="#000000" stroke-width="1.32" fill="none"/><path d="M417.74,322.49L420.74,325.49M417.74,325.49L420.74,322.49" stroke="#000000" stroke-width="1.32" fill="none"/><path d="M419.55,325.77L422.55,328.77M419.55,328.77L422.55,325.77" stroke="#000000" stroke-width="1.32" fill="none"/><path d="M421.36,324.21L424.36,327.21M421.36,327.21L424.36,324.21" stroke="#000000" stroke-width="1.32" fill="none"/><path d="M423.17,324.65L426.17,327.65M423.17,327.65L426.17,324.65" stroke="#000000" stroke-width="1.32" fill="none"/><path d="M424.98,330.24L427.98,333.24M424.98,333.24L427.98,330.24" stroke="#000000" stroke-width="1.32" fill="none"/><path d="M426.79,325.25L429.79,328.25M426.79,328.25L429.79,325.25" stroke="#000000" stroke-width="1.32" fill="none"/><path d="M428.6,317.18L431.6,320.18M428.6,320.18L431.6,317.18" stroke="#000000" stroke-width="1.32" fill="none"/><path d="M430.41,315.36L433.41,318.36M430.41,318.36L433.41,315.36" stroke="#000000" stroke-width="1.32" fill="none"/><path d="M432.22,316.82L435.22,319.82M432.22,319.82L435.22,316.82" stroke="#000000" stroke-width="1.32" fill="none"/><path d="M434.03,317.38L437.03,320.38M434.03,320.38L437.03,317.38" stroke="#000000" stroke-width="1.32" fill="none"/><path d="M435.84,315.66L438.84,318.66M435.84,318.66L438.84,315.66" stroke="#000000" stroke-width="1.32" fill="none"/><path d="M437.65,313.01L440.65,316.01M437.65,316.01L440.65,313.01" stroke="#000000" stroke-width="1.32" fill="none"/><path d="M439.46,319.51L442.46,322.51M439.46,322.51L442.46,319.51" stroke="#000000" stroke-width="1.32" fill="none"/><path d="M441.27,329.99L444.27,332.99M441.27,332.99L444.27,329.99" stroke="#000000" stroke-width="1.32" fill="none"/><path d="M443.08,329.16L446.08,332.16M443.08,332.16L446.08,329.16" stroke="#000000" stroke-width="1.32" fill="none"/><path d="M444.89,327.05L447.89,330.05M444.89,330.05L447.89,327.05" stroke="#000000" stroke-width="1.32" fill="none"/><path d="M446.7,318.27L449.7,321.27M446.7,321.27L449.7,318.27" stroke="#000000" stroke-width="1.32" fill="none"/><path d="M448.51,302.01L451.51,305.01M448.51,305.01L451.51,302.01" stroke="#000000" stroke-width="1.32" fill="none"/><path d="M450.32,309.78L453.32,312.78M450.32,312.78L453.32,309.78" stroke="#000000" stroke-width="1.32" fill="none"/><path d="M452.13,348.14L455.13,351.14M452.13,351.14L455.13,348.14" stroke="#000000" stroke-width="1.32" fill="none"/><path d="M453.94,352.68L456.94,355.68M453.94,355.68L456.94,352.68" stroke="#000000" stroke-width="1.32" fill="none"/><path d="M455.75,360.45L458.75,363.45M455.75,363.45L458.75,360.45" stroke="#000000" stroke-width="1.32" fill="none"/><path d="M457.56,336.03L460.56,339.03M457.56,339.03L460.56,336.03" stroke="#000000" stroke-width="1.32" fill="none"/><path d="M459.37,335.67L462.37,338.67M459.37,338.67L462.37,335.67" stroke="#000000" stroke-width="1.32" fill="none"/><path d="M461.18,339.27L464.18,342.27M461.18,342.27L464.18,339.27" stroke="#000000" stroke-width="1.32" fill="none"/><path d="M462.99,321.35L465.99,324.35M462.99,324.35L465.99,321.35" stroke="#000000" stroke-width="1.32" fill="none"/><path d="M464.8,324.38L467.8,327.38M464.8,327.38L467.8,324.38" stroke="#000000" stroke-width="1.32" fill="none"/><path d="M466.61,333.95L469.61,336.95M466.61,336.95L469.61,333.95" stroke="#000000" stroke-width="1.32" fill="none"/><path d="M468.42,327.95L471.42,330.95M468.42,330.95L471.42,327.95" stroke="#000000" stroke-width="1.32" fill="none"/><path d="M470.23,311.46L473.23,314.46M470.23,314.46L473.23,311.46" stroke="#000000" stroke-width="1.32" fill="none"/><path d="M472.04,300.14L475.04,303.14M472.04,303.14L475.04,300.14" stroke="#000000" stroke-width="1.32" fill="none"/><path d="M473.85,292.07L476.85,295.07M473.85,295.07L476.85,292.07" stroke="#000000" stroke-width="1.32" fill="none"/><path d="M475.66,263.24L478.66,266.24M475.66,266.24L478.66,263.24" stroke="#000000" stroke-width="1.32" fill="none"/><path d="M477.47,281.12L480.47,284.12M477.47,284.12L480.47,281.12" stroke="#000000" stroke-width="1.32" fill="none"/><path d="M479.28,268.95L482.28,271.95M479.28,271.95L482.28,268.95" stroke="#000000" stroke-width="1.32" fill="none"/><path d="M481.09,276.54L484.09,279.54M481.09,279.54L484.09,276.54" stroke="#000000" stroke-width="1.32" fill="none"/><path d="M482.9,280.83L485.9,283.83M482.9,283.83L485.9,280.83" stroke="#000000" stroke-width="1.32" fill="none"/><path d="M484.71,290.39L487.71,293.39M484.71,293.39L487.71,290.39" stroke="#000000" stroke-width="1.32" fill="none"/><path d="M486.52,299.12L489.52,302.12M486.52,302.12L489.52,299.12" stroke="#000000" stroke-width="1.32" fill="none"/><path d="M488.33,311.77L491.33,314.77M488.33,314.77L491.33,311.77" stroke="#000000" stroke-width="1.32" fill="none"/><path d="M490.14,321.79L493.14,324.79M490.14,324.79L493.14,321.79" stroke="#000000" stroke-width="1.32" fill="none"/><path d="M491.95,328.39L494.95,331.39M491.95,331.39L494.95,328.39" stroke="#000000" stroke-width="1.32" fill="none"/><path d="M493.76,330.41L496.76,333.41M493.76,333.41L496.76,330.41" stroke="#000000" stroke-width="1.32" fill="none"/><path d="M495.57,328.38L498.57,331.38M495.57,331.38L498.57,328.38" stroke="#000000" stroke-width="1.32" fill="none"/><path d="M497.38,313L500.38,316M497.38,316L500.38,313" stroke="#000000" stroke-width="1.32" fill="none"/><path d="M499.19,292.73L502.19,295.73M499.19,295.73L502.19,292.73" stroke="#000000" stroke-width="1.32" fill="none"/><path d="M501,277L504,280M501,280L504,277" stroke="#000000" stroke-width="1.32" fill="none"/><path d="M502.81,288.7L505.81,291.7M502.81,291.7L505.81,288.7" stroke="#000000" stroke-width="1.32" fill="none"/><path d="M504.62,272.46L507.62,275.46M504.62,275.46L507.62,272.46" stroke="#000000" stroke-width="1.32" fill="none"/><path d="M506.43,288.72L509.43,291.72M506.43,291.72L509.43,288.72" stroke="#000000" stroke-width="1.32" fill="none"/><path d="M508.24,290.57L511.24,293.57M508.24,293.57L511.24,290.57" stroke="#000000" stroke-width="1.32" fill="none"/><path d="M510.05,293.6L513.05,296.6M510.05,296.6L513.05,293.6" stroke="#000000" stroke-width="1.32" fill="none"/><path d="M511.86,291.76L514.86,294.76M511.86,294.76L514.86,291.76" stroke="#000000" stroke-width="1.32" fill="none"/><path d="M513.67,289.85L516.67,292.85M513.67,292.85L516.67,289.85" stroke="#000000" stroke-width="1.32" fill="none"/><path d="M515.48,288.64L518.48,291.64M515.48,291.64L518.48,288.64" stroke="#000000" stroke-width="1.32" fill="none"/><path d="M517.29,283.67L520.29,286.67M517.29,286.67L520.29,283.67" stroke="#000000" stroke-width="1.32" fill="none"/><path d="M519.1,281.84L522.1,284.84M519.1,284.84L522.1,281.84" stroke="#000000" stroke-width="1.32" fill="none"/><path d="M520.91,265.6L523.91,268.6M520.91,268.6L523.91,265.6" stroke="#000000" stroke-width="1.32" fill="none"/><path d="M522.72,288.84L525.72,291.84M522.72,291.84L525.72,288.84" stroke="#000000" stroke-width="1.32" fill="none"/><path d="M524.53,305.79L527.53,308.79M524.53,308.79L527.53,305.79" stroke="#000000" stroke-width="1.32" fill="none"/><path d="M526.34,276.84L529.34,279.84M526.34,279.84L529.34,276.84" stroke="#000000" stroke-width="1.32" fill="none"/><path d="M528.15,276.88L531.15,279.88M528.15,279.88L531.15,276.88" stroke="#000000" stroke-width="1.32" fill="none"/><path d="M529.96,333.88L532.96,336.88M529.96,336.88L532.96,333.88" stroke="#000000" stroke-width="1.32" fill="none"/><path d="M531.77,318.33L534.77,321.33M531.77,321.33L534.77,318.33" stroke="#000000" stroke-width="1.32" fill="none"/><path d="M533.58,359.8L536.58,362.8M533.58,362.8L536.58,359.8" stroke="#000000" stroke-width="1.32" fill="none"/>
<path d="M323.31,323.21 L325.12,321.94 L326.93,318.37 L328.74,312.02 L330.55,312.17 L332.36,312.93 L334.17,312.02 L335.98,312.51 L337.79,295.79 L339.6,291.8 L341.41,311.77 L343.22,317.76 L345.03,327.88 L346.84,315.06 L348.65,322.82 L350.46,317.49 L352.27,312.87 L354.08,318.5 L355.89,323.56 L357.7,322.88 L359.51,315.2 L361.32,292.9 L363.13,295.25 L364.94,275.35 L366.75,270.57 L368.56,272.8 L370.37,281.95 L372.18,281.07 L373.99,287.48 L375.8,285.83 L377.61,288.12 L379.42,286.59 L381.23,328.97 L383.04,325.01 L384.85,326.33 L386.66,325.55 L388.47,304.32 L390.28,314.87 L392.09,310.71 L393.9,313.55 L395.71,309.66 L397.52,337.41 L399.33,332.86 L401.14,330.08 L402.95,327.48 L404.76,294.14 L406.57,305.24 L408.38,307.92 L410.19,306.83 L412,319.69 L413.81,335.99 L415.62,341.69 L417.43,343.12 L419.24,328.51 L421.05,330.8 L422.86,329.42 L424.67,330.68 L426.48,335.97 L428.29,331.86 L430.1,323.87 L431.91,321.33 L433.72,323.88 L435.53,324.51 L437.34,321.13 L439.15,318.94 L440.96,325.94 L442.77,335.23 L444.58,334.39 L446.39,334.4 L448.2,324.04 L450.01,307.64 L451.82,315.32 L453.63,349.96 L455.44,354.5 L457.25,362.28 L459.06,342.72 L460.87,341.13 L462.68,346.49 L464.49,328.05 L466.3,330.53 L468.11,341.32 L469.92,333.34 L471.73,317.09 L473.54,306.36 L475.35,297.59 L477.16,269.53 L478.97,286.9 L480.78,273.97 L482.59,283.29 L484.4,287.09 L486.21,295.56 L488.02,304.33 L489.83,318.34 L491.64,327.76 L493.45,333.19 L495.26,335.7 L497.07,334.02 L498.88,319.94 L500.69,299.11 L502.5,283.18 L504.31,294.14 L506.12,278.01 L507.93,294.43 L509.74,297.12 L511.55,298.81 L513.36,297.55 L515.17,297.13 L516.98,293.8 L518.79,289.72 L520.6,288.16 L522.41,271.04 L524.22,295.91 L526.03,312.38 L527.84,282.47 L529.65,282.71 L531.46,336.68 L533.27,324.69 L535.08,358.06" stroke="#ff80c0" stroke-width="1" fill="none" stroke-linejoin="round" clip-path="url(#cD)"/>
<rect x="321.61" y="321.51" width="3.4" height="3.4" stroke="#ff80c0" stroke-width="1.1" fill="none"/><rect x="323.42" y="320.24" width="3.4" height="3.4" stroke="#ff80c0" stroke-width="1.1" fill="none"/><rect x="325.23" y="316.67" width="3.4" height="3.4" stroke="#ff80c0" stroke-width="1.1" fill="none"/><rect x="327.04" y="310.32" width="3.4" height="3.4" stroke="#ff80c0" stroke-width="1.1" fill="none"/><rect x="328.85" y="310.47" width="3.4" height="3.4" stroke="#ff80c0" stroke-width="1.1" fill="none"/><rect x="330.66" y="311.23" width="3.4" height="3.4" stroke="#ff80c0" stroke-width="1.1" fill="none"/><rect x="332.47" y="310.32" width="3.4" height="3.4" stroke="#ff80c0" stroke-width="1.1" fill="none"/><rect x="334.28" y="310.81" width="3.4" height="3.4" stroke="#ff80c0" stroke-width="1.1" fill="none"/><rect x="336.09" y="294.09" width="3.4" height="3.4" stroke="#ff80c0" stroke-width="1.1" fill="none"/><rect x="337.9" y="290.1" width="3.4" height="3.4" stroke="#ff80c0" stroke-width="1.1" fill="none"/><rect x="339.71" y="310.07" width="3.4" height="3.4" stroke="#ff80c0" stroke-width="1.1" fill="none"/><rect x="341.52" y="316.06" width="3.4" height="3.4" stroke="#ff80c0" stroke-width="1.1" fill="none"/><rect x="343.33" y="326.18" width="3.4" height="3.4" stroke="#ff80c0" stroke-width="1.1" fill="none"/><rect x="345.14" y="313.36" width="3.4" height="3.4" stroke="#ff80c0" stroke-width="1.1" fill="none"/><rect x="346.95" y="321.12" width="3.4" height="3.4" stroke="#ff80c0" stroke-width="1.1" fill="none"/><rect x="348.76" y="315.79" width="3.4" height="3.4" stroke="#ff80c0" stroke-width="1.1" fill="none"/><rect x="350.57" y="311.17" width="3.4" height="3.4" stroke="#ff80c0" stroke-width="1.1" fill="none"/><rect x="352.38" y="316.8" width="3.4" height="3.4" stroke="#ff80c0" stroke-width="1.1" fill="none"/><rect x="354.19" y="321.86" width="3.4" height="3.4" stroke="#ff80c0" stroke-width="1.1" fill="none"/><rect x="356" y="321.18" width="3.4" height="3.4" stroke="#ff80c0" stroke-width="1.1" fill="none"/><rect x="357.81" y="313.5" width="3.4" height="3.4" stroke="#ff80c0" stroke-width="1.1" fill="none"/><rect x="359.62" y="291.2" width="3.4" height="3.4" stroke="#ff80c0" stroke-width="1.1" fill="none"/><rect x="361.43" y="293.55" width="3.4" height="3.4" stroke="#ff80c0" stroke-width="1.1" fill="none"/><rect x="363.24" y="273.65" width="3.4" height="3.4" stroke="#ff80c0" stroke-width="1.1" fill="none"/><rect x="365.05" y="268.87" width="3.4" height="3.4" stroke="#ff80c0" stroke-width="1.1" fill="none"/><rect x="366.86" y="271.1" width="3.4" height="3.4" stroke="#ff80c0" stroke-width="1.1" fill="none"/><rect x="368.67" y="280.25" width="3.4" height="3.4" stroke="#ff80c0" stroke-width="1.1" fill="none"/><rect x="370.48" y="279.37" width="3.4" height="3.4" stroke="#ff80c0" stroke-width="1.1" fill="none"/><rect x="372.29" y="285.78" width="3.4" height="3.4" stroke="#ff80c0" stroke-width="1.1" fill="none"/><rect x="374.1" y="284.13" width="3.4" height="3.4" stroke="#ff80c0" stroke-width="1.1" fill="none"/><rect x="375.91" y="286.42" width="3.4" height="3.4" stroke="#ff80c0" stroke-width="1.1" fill="none"/><rect x="377.72" y="284.89" width="3.4" height="3.4" stroke="#ff80c0" stroke-width="1.1" fill="none"/><rect x="379.53" y="327.27" width="3.4" height="3.4" stroke="#ff80c0" stroke-width="1.1" fill="none"/><rect x="381.34" y="323.31" width="3.4" height="3.4" stroke="#ff80c0" stroke-width="1.1" fill="none"/><rect x="383.15" y="324.63" width="3.4" height="3.4" stroke="#ff80c0" stroke-width="1.1" fill="none"/><rect x="384.96" y="323.85" width="3.4" height="3.4" stroke="#ff80c0" stroke-width="1.1" fill="none"/><rect x="386.77" y="302.62" width="3.4" height="3.4" stroke="#ff80c0" stroke-width="1.1" fill="none"/><rect x="388.58" y="313.17" width="3.4" height="3.4" stroke="#ff80c0" stroke-width="1.1" fill="none"/><rect x="390.39" y="309.01" width="3.4" height="3.4" stroke="#ff80c0" stroke-width="1.1" fill="none"/><rect x="392.2" y="311.85" width="3.4" height="3.4" stroke="#ff80c0" stroke-width="1.1" fill="none"/><rect x="394.01" y="307.96" width="3.4" height="3.4" stroke="#ff80c0" stroke-width="1.1" fill="none"/><rect x="395.82" y="335.71" width="3.4" height="3.4" stroke="#ff80c0" stroke-width="1.1" fill="none"/><rect x="397.63" y="331.16" width="3.4" height="3.4" stroke="#ff80c0" stroke-width="1.1" fill="none"/><rect x="399.44" y="328.38" width="3.4" height="3.4" stroke="#ff80c0" stroke-width="1.1" fill="none"/><rect x="401.25" y="325.78" width="3.4" height="3.4" stroke="#ff80c0" stroke-width="1.1" fill="none"/><rect x="403.06" y="292.44" width="3.4" height="3.4" stroke="#ff80c0" stroke-width="1.1" fill="none"/><rect x="404.87" y="303.54" width="3.4" height="3.4" stroke="#ff80c0" stroke-width="1.1" fill="none"/><rect x="406.68" y="306.22" width="3.4" height="3.4" stroke="#ff80c0" stroke-width="1.1" fill="none"/><rect x="408.49" y="305.13" width="3.4" height="3.4" stroke="#ff80c0" stroke-width="1.1" fill="none"/><rect x="410.3" y="317.99" width="3.4" height="3.4" stroke="#ff80c0" stroke-width="1.1" fill="none"/><rect x="412.11" y="334.29" width="3.4" height="3.4" stroke="#ff80c0" stroke-width="1.1" fill="none"/><rect x="413.92" y="339.99" width="3.4" height="3.4" stroke="#ff80c0" stroke-width="1.1" fill="none"/><rect x="415.73" y="341.42" width="3.4" height="3.4" stroke="#ff80c0" stroke-width="1.1" fill="none"/><rect x="417.54" y="326.81" width="3.4" height="3.4" stroke="#ff80c0" stroke-width="1.1" fill="none"/><rect x="419.35" y="329.1" width="3.4" height="3.4" stroke="#ff80c0" stroke-width="1.1" fill="none"/><rect x="421.16" y="327.72" width="3.4" height="3.4" stroke="#ff80c0" stroke-width="1.1" fill="none"/><rect x="422.97" y="328.98" width="3.4" height="3.4" stroke="#ff80c0" stroke-width="1.1" fill="none"/><rect x="424.78" y="334.27" width="3.4" height="3.4" stroke="#ff80c0" stroke-width="1.1" fill="none"/><rect x="426.59" y="330.16" width="3.4" height="3.4" stroke="#ff80c0" stroke-width="1.1" fill="none"/><rect x="428.4" y="322.17" width="3.4" height="3.4" stroke="#ff80c0" stroke-width="1.1" fill="none"/><rect x="430.21" y="319.63" width="3.4" height="3.4" stroke="#ff80c0" stroke-width="1.1" fill="none"/><rect x="432.02" y="322.18" width="3.4" height="3.4" stroke="#ff80c0" stroke-width="1.1" fill="none"/><rect x="433.83" y="322.81" width="3.4" height="3.4" stroke="#ff80c0" stroke-width="1.1" fill="none"/><rect x="435.64" y="319.43" width="3.4" height="3.4" stroke="#ff80c0" stroke-width="1.1" fill="none"/><rect x="437.45" y="317.24" width="3.4" height="3.4" stroke="#ff80c0" stroke-width="1.1" fill="none"/><rect x="439.26" y="324.24" width="3.4" height="3.4" stroke="#ff80c0" stroke-width="1.1" fill="none"/><rect x="441.07" y="333.53" width="3.4" height="3.4" stroke="#ff80c0" stroke-width="1.1" fill="none"/><rect x="442.88" y="332.69" width="3.4" height="3.4" stroke="#ff80c0" stroke-width="1.1" fill="none"/><rect x="444.69" y="332.7" width="3.4" height="3.4" stroke="#ff80c0" stroke-width="1.1" fill="none"/><rect x="446.5" y="322.34" width="3.4" height="3.4" stroke="#ff80c0" stroke-width="1.1" fill="none"/><rect x="448.31" y="305.94" width="3.4" height="3.4" stroke="#ff80c0" stroke-width="1.1" fill="none"/><rect x="450.12" y="313.62" width="3.4" height="3.4" stroke="#ff80c0" stroke-width="1.1" fill="none"/><rect x="451.93" y="348.26" width="3.4" height="3.4" stroke="#ff80c0" stroke-width="1.1" fill="none"/><rect x="453.74" y="352.8" width="3.4" height="3.4" stroke="#ff80c0" stroke-width="1.1" fill="none"/><rect x="455.55" y="360.58" width="3.4" height="3.4" stroke="#ff80c0" stroke-width="1.1" fill="none"/><rect x="457.36" y="341.02" width="3.4" height="3.4" stroke="#ff80c0" stroke-width="1.1" fill="none"/><rect x="459.17" y="339.43" width="3.4" height="3.4" stroke="#ff80c0" stroke-width="1.1" fill="none"/><rect x="460.98" y="344.79" width="3.4" height="3.4" stroke="#ff80c0" stroke-width="1.1" fill="none"/><rect x="462.79" y="326.35" width="3.4" height="3.4" stroke="#ff80c0" stroke-width="1.1" fill="none"/><rect x="464.6" y="328.83" width="3.4" height="3.4" stroke="#ff80c0" stroke-width="1.1" fill="none"/><rect x="466.41" y="339.62" width="3.4" height="3.4" stroke="#ff80c0" stroke-width="1.1" fill="none"/><rect x="468.22" y="331.64" width="3.4" height="3.4" stroke="#ff80c0" stroke-width="1.1" fill="none"/><rect x="470.03" y="315.39" width="3.4" height="3.4" stroke="#ff80c0" stroke-width="1.1" fill="none"/><rect x="471.84" y="304.66" width="3.4" height="3.4" stroke="#ff80c0" stroke-width="1.1" fill="none"/><rect x="473.65" y="295.89" width="3.4" height="3.4" stroke="#ff80c0" stroke-width="1.1" fill="none"/><rect x="475.46" y="267.83" width="3.4" height="3.4" stroke="#ff80c0" stroke-width="1.1" fill="none"/><rect x="477.27" y="285.2" width="3.4" height="3.4" stroke="#ff80c0" stroke-width="1.1" fill="none"/><rect x="479.08" y="272.27" width="3.4" height="3.4" stroke="#ff80c0" stroke-width="1.1" fill="none"/><rect x="480.89" y="281.59" width="3.4" height="3.4" stroke="#ff80c0" stroke-width="1.1" fill="none"/><rect x="482.7" y="285.39" width="3.4" height="3.4" stroke="#ff80c0" stroke-width="1.1" fill="none"/><rect x="484.51" y="293.86" width="3.4" height="3.4" stroke="#ff80c0" stroke-width="1.1" fill="none"/><rect x="486.32" y="302.63" width="3.4" height="3.4" stroke="#ff80c0" stroke-width="1.1" fill="none"/><rect x="488.13" y="316.64" width="3.4" height="3.4" stroke="#ff80c0" stroke-width="1.1" fill="none"/><rect x="489.94" y="326.06" width="3.4" height="3.4" stroke="#ff80c0" stroke-width="1.1" fill="none"/><rect x="491.75" y="331.49" width="3.4" height="3.4" stroke="#ff80c0" stroke-width="1.1" fill="none"/><rect x="493.56" y="334" width="3.4" height="3.4" stroke="#ff80c0" stroke-width="1.1" fill="none"/><rect x="495.37" y="332.32" width="3.4" height="3.4" stroke="#ff80c0" stroke-width="1.1" fill="none"/><rect x="497.18" y="318.24" width="3.4" height="3.4" stroke="#ff80c0" stroke-width="1.1" fill="none"/><rect x="498.99" y="297.41" width="3.4" height="3.4" stroke="#ff80c0" stroke-width="1.1" fill="none"/><rect x="500.8" y="281.48" width="3.4" height="3.4" stroke="#ff80c0" stroke-width="1.1" fill="none"/><rect x="502.61" y="292.44" width="3.4" height="3.4" stroke="#ff80c0" stroke-width="1.1" fill="none"/><rect x="504.42" y="276.31" width="3.4" height="3.4" stroke="#ff80c0" stroke-width="1.1" fill="none"/><rect x="506.23" y="292.73" width="3.4" height="3.4" stroke="#ff80c0" stroke-width="1.1" fill="none"/><rect x="508.04" y="295.42" width="3.4" height="3.4" stroke="#ff80c0" stroke-width="1.1" fill="none"/><rect x="509.85" y="297.11" width="3.4" height="3.4" stroke="#ff80c0" stroke-width="1.1" fill="none"/><rect x="511.66" y="295.85" width="3.4" height="3.4" stroke="#ff80c0" stroke-width="1.1" fill="none"/><rect x="513.47" y="295.43" width="3.4" height="3.4" stroke="#ff80c0" stroke-width="1.1" fill="none"/><rect x="515.28" y="292.1" width="3.4" height="3.4" stroke="#ff80c0" stroke-width="1.1" fill="none"/><rect x="517.09" y="288.02" width="3.4" height="3.4" stroke="#ff80c0" stroke-width="1.1" fill="none"/><rect x="518.9" y="286.46" width="3.4" height="3.4" stroke="#ff80c0" stroke-width="1.1" fill="none"/><rect x="520.71" y="269.34" width="3.4" height="3.4" stroke="#ff80c0" stroke-width="1.1" fill="none"/><rect x="522.52" y="294.21" width="3.4" height="3.4" stroke="#ff80c0" stroke-width="1.1" fill="none"/><rect x="524.33" y="310.68" width="3.4" height="3.4" stroke="#ff80c0" stroke-width="1.1" fill="none"/><rect x="526.14" y="280.77" width="3.4" height="3.4" stroke="#ff80c0" stroke-width="1.1" fill="none"/><rect x="527.95" y="281.01" width="3.4" height="3.4" stroke="#ff80c0" stroke-width="1.1" fill="none"/><rect x="529.76" y="334.98" width="3.4" height="3.4" stroke="#ff80c0" stroke-width="1.1" fill="none"/><rect x="531.57" y="322.99" width="3.4" height="3.4" stroke="#ff80c0" stroke-width="1.1" fill="none"/><rect x="533.38" y="356.36" width="3.4" height="3.4" stroke="#ff80c0" stroke-width="1.1" fill="none"/>
<path d="M323.31,325.38 L325.12,325.65 L326.93,322.61 L328.74,314.23 L330.55,314.15 L332.36,315.86 L334.17,313.53 L335.98,314.92 L337.79,298.26 L339.6,294.79 L341.41,313.28 L343.22,320.72 L345.03,330.84 L346.84,319.03 L348.65,324.49 L350.46,320.76 L352.27,315.62 L354.08,321.96 L355.89,326.23 L357.7,324.49 L359.51,317.53 L361.32,293.89 L363.13,298.55 L364.94,278.16 L366.75,273.31 L368.56,275.87 L370.37,283.65 L372.18,283.75 L373.99,289.99 L375.8,289.98 L377.61,290.83 L379.42,288.9 L381.23,330.88 L383.04,327.77 L384.85,329.37 L386.66,328.94 L388.47,307.07 L390.28,318.48 L392.09,313.95 L393.9,315.81 L395.71,313.28 L397.52,341.38 L399.33,334.84 L401.14,333.06 L402.95,328.96 L404.76,296.39 L406.57,307.29 L408.38,311.64 L410.19,310.01 L412,321.61 L413.81,337.72 L415.62,342.88 L417.43,344.74 L419.24,331.89 L421.05,333.39 L422.86,332.82 L424.67,332.59 L426.48,338.83 L428.29,335.06 L430.1,325.79 L431.91,324.05 L433.72,325.68 L435.53,326.27 L437.34,324.44 L439.15,321.72 L440.96,328.2 L442.77,338.88 L444.58,337.33 L446.39,335.75 L448.2,326.42 L450.01,309.98 L451.82,317 L453.63,347.7 L455.44,352.23 L457.25,360.01 L459.06,344.86 L460.87,344.68 L462.68,348.62 L464.49,330.72 L466.3,334.26 L468.11,343.08 L469.92,335.84 L471.73,320.82 L473.54,307.45 L475.35,300.66 L477.16,272.59 L478.97,289.33 L480.78,276.87 L482.59,284.66 L484.4,289.6 L486.21,297.98 L488.02,307.82 L489.83,319.88 L491.64,330.01 L493.45,335.98 L495.26,338.75 L497.07,336.18 L498.88,321.81 L500.69,302.45 L502.5,286.38 L504.31,297.97 L506.12,281.53 L507.93,297.81 L509.74,299.1 L511.55,301.3 L513.36,300.32 L515.17,299.25 L516.98,296.86 L518.79,293 L520.6,290.09 L522.41,273.97 L524.22,297.99 L526.03,315.27 L527.84,284.71 L529.65,285.06 L531.46,338.95 L533.27,323.07 L535.08,356.77" stroke="#1fbfbf" stroke-width="1" fill="none" stroke-linejoin="round" clip-path="url(#cD)"/>
<rect x="321.61" y="323.68" width="3.4" height="3.4" stroke="#1fbfbf" stroke-width="1.1" fill="none"/><rect x="323.42" y="323.95" width="3.4" height="3.4" stroke="#1fbfbf" stroke-width="1.1" fill="none"/><rect x="325.23" y="320.91" width="3.4" height="3.4" stroke="#1fbfbf" stroke-width="1.1" fill="none"/><rect x="327.04" y="312.53" width="3.4" height="3.4" stroke="#1fbfbf" stroke-width="1.1" fill="none"/><rect x="328.85" y="312.45" width="3.4" height="3.4" stroke="#1fbfbf" stroke-width="1.1" fill="none"/><rect x="330.66" y="314.16" width="3.4" height="3.4" stroke="#1fbfbf" stroke-width="1.1" fill="none"/><rect x="332.47" y="311.83" width="3.4" height="3.4" stroke="#1fbfbf" stroke-width="1.1" fill="none"/><rect x="334.28" y="313.22" width="3.4" height="3.4" stroke="#1fbfbf" stroke-width="1.1" fill="none"/><rect x="336.09" y="296.56" width="3.4" height="3.4" stroke="#1fbfbf" stroke-width="1.1" fill="none"/><rect x="337.9" y="293.09" width="3.4" height="3.4" stroke="#1fbfbf" stroke-width="1.1" fill="none"/><rect x="339.71" y="311.58" width="3.4" height="3.4" stroke="#1fbfbf" stroke-width="1.1" fill="none"/><rect x="341.52" y="319.02" width="3.4" height="3.4" stroke="#1fbfbf" stroke-width="1.1" fill="none"/><rect x="343.33" y="329.14" width="3.4" height="3.4" stroke="#1fbfbf" stroke-width="1.1" fill="none"/><rect x="345.14" y="317.33" width="3.4" height="3.4" stroke="#1fbfbf" stroke-width="1.1" fill="none"/><rect x="346.95" y="322.79" width="3.4" height="3.4" stroke="#1fbfbf" stroke-width="1.1" fill="none"/><rect x="348.76" y="319.06" width="3.4" height="3.4" stroke="#1fbfbf" stroke-width="1.1" fill="none"/><rect x="350.57" y="313.92" width="3.4" height="3.4" stroke="#1fbfbf" stroke-width="1.1" fill="none"/><rect x="352.38" y="320.26" width="3.4" height="3.4" stroke="#1fbfbf" stroke-width="1.1" fill="none"/><rect x="354.19" y="324.53" width="3.4" height="3.4" stroke="#1fbfbf" stroke-width="1.1" fill="none"/><rect x="356" y="322.79" width="3.4" height="3.4" stroke="#1fbfbf" stroke-width="1.1" fill="none"/><rect x="357.81" y="315.83" width="3.4" height="3.4" stroke="#1fbfbf" stroke-width="1.1" fill="none"/><rect x="359.62" y="292.19" width="3.4" height="3.4" stroke="#1fbfbf" stroke-width="1.1" fill="none"/><rect x="361.43" y="296.85" width="3.4" height="3.4" stroke="#1fbfbf" stroke-width="1.1" fill="none"/><rect x="363.24" y="276.46" width="3.4" height="3.4" stroke="#1fbfbf" stroke-width="1.1" fill="none"/><rect x="365.05" y="271.61" width="3.4" height="3.4" stroke="#1fbfbf" stroke-width="1.1" fill="none"/><rect x="366.86" y="274.17" width="3.4" height="3.4" stroke="#1fbfbf" stroke-width="1.1" fill="none"/><rect x="368.67" y="281.95" width="3.4" height="3.4" stroke="#1fbfbf" stroke-width="1.1" fill="none"/><rect x="370.48" y="282.05" width="3.4" height="3.4" stroke="#1fbfbf" stroke-width="1.1" fill="none"/><rect x="372.29" y="288.29" width="3.4" height="3.4" stroke="#1fbfbf" stroke-width="1.1" fill="none"/><rect x="374.1" y="288.28" width="3.4" height="3.4" stroke="#1fbfbf" stroke-width="1.1" fill="none"/><rect x="375.91" y="289.13" width="3.4" height="3.4" stroke="#1fbfbf" stroke-width="1.1" fill="none"/><rect x="377.72" y="287.2" width="3.4" height="3.4" stroke="#1fbfbf" stroke-width="1.1" fill="none"/><rect x="379.53" y="329.18" width="3.4" height="3.4" stroke="#1fbfbf" stroke-width="1.1" fill="none"/><rect x="381.34" y="326.07" width="3.4" height="3.4" stroke="#1fbfbf" stroke-width="1.1" fill="none"/><rect x="383.15" y="327.67" width="3.4" height="3.4" stroke="#1fbfbf" stroke-width="1.1" fill="none"/><rect x="384.96" y="327.24" width="3.4" height="3.4" stroke="#1fbfbf" stroke-width="1.1" fill="none"/><rect x="386.77" y="305.37" width="3.4" height="3.4" stroke="#1fbfbf" stroke-width="1.1" fill="none"/><rect x="388.58" y="316.78" width="3.4" height="3.4" stroke="#1fbfbf" stroke-width="1.1" fill="none"/><rect x="390.39" y="312.25" width="3.4" height="3.4" stroke="#1fbfbf" stroke-width="1.1" fill="none"/><rect x="392.2" y="314.11" width="3.4" height="3.4" stroke="#1fbfbf" stroke-width="1.1" fill="none"/><rect x="394.01" y="311.58" width="3.4" height="3.4" stroke="#1fbfbf" stroke-width="1.1" fill="none"/><rect x="395.82" y="339.68" width="3.4" height="3.4" stroke="#1fbfbf" stroke-width="1.1" fill="none"/><rect x="397.63" y="333.14" width="3.4" height="3.4" stroke="#1fbfbf" stroke-width="1.1" fill="none"/><rect x="399.44" y="331.36" width="3.4" height="3.4" stroke="#1fbfbf" stroke-width="1.1" fill="none"/><rect x="401.25" y="327.26" width="3.4" height="3.4" stroke="#1fbfbf" stroke-width="1.1" fill="none"/><rect x="403.06" y="294.69" width="3.4" height="3.4" stroke="#1fbfbf" stroke-width="1.1" fill="none"/><rect x="404.87" y="305.59" width="3.4" height="3.4" stroke="#1fbfbf" stroke-width="1.1" fill="none"/><rect x="406.68" y="309.94" width="3.4" height="3.4" stroke="#1fbfbf" stroke-width="1.1" fill="none"/><rect x="408.49" y="308.31" width="3.4" height="3.4" stroke="#1fbfbf" stroke-width="1.1" fill="none"/><rect x="410.3" y="319.91" width="3.4" height="3.4" stroke="#1fbfbf" stroke-width="1.1" fill="none"/><rect x="412.11" y="336.02" width="3.4" height="3.4" stroke="#1fbfbf" stroke-width="1.1" fill="none"/><rect x="413.92" y="341.18" width="3.4" height="3.4" stroke="#1fbfbf" stroke-width="1.1" fill="none"/><rect x="415.73" y="343.04" width="3.4" height="3.4" stroke="#1fbfbf" stroke-width="1.1" fill="none"/><rect x="417.54" y="330.19" width="3.4" height="3.4" stroke="#1fbfbf" stroke-width="1.1" fill="none"/><rect x="419.35" y="331.69" width="3.4" height="3.4" stroke="#1fbfbf" stroke-width="1.1" fill="none"/><rect x="421.16" y="331.12" width="3.4" height="3.4" stroke="#1fbfbf" stroke-width="1.1" fill="none"/><rect x="422.97" y="330.89" width="3.4" height="3.4" stroke="#1fbfbf" stroke-width="1.1" fill="none"/><rect x="424.78" y="337.13" width="3.4" height="3.4" stroke="#1fbfbf" stroke-width="1.1" fill="none"/><rect x="426.59" y="333.36" width="3.4" height="3.4" stroke="#1fbfbf" stroke-width="1.1" fill="none"/><rect x="428.4" y="324.09" width="3.4" height="3.4" stroke="#1fbfbf" stroke-width="1.1" fill="none"/><rect x="430.21" y="322.35" width="3.4" height="3.4" stroke="#1fbfbf" stroke-width="1.1" fill="none"/><rect x="432.02" y="323.98" width="3.4" height="3.4" stroke="#1fbfbf" stroke-width="1.1" fill="none"/><rect x="433.83" y="324.57" width="3.4" height="3.4" stroke="#1fbfbf" stroke-width="1.1" fill="none"/><rect x="435.64" y="322.74" width="3.4" height="3.4" stroke="#1fbfbf" stroke-width="1.1" fill="none"/><rect x="437.45" y="320.02" width="3.4" height="3.4" stroke="#1fbfbf" stroke-width="1.1" fill="none"/><rect x="439.26" y="326.5" width="3.4" height="3.4" stroke="#1fbfbf" stroke-width="1.1" fill="none"/><rect x="441.07" y="337.18" width="3.4" height="3.4" stroke="#1fbfbf" stroke-width="1.1" fill="none"/><rect x="442.88" y="335.63" width="3.4" height="3.4" stroke="#1fbfbf" stroke-width="1.1" fill="none"/><rect x="444.69" y="334.05" width="3.4" height="3.4" stroke="#1fbfbf" stroke-width="1.1" fill="none"/><rect x="446.5" y="324.72" width="3.4" height="3.4" stroke="#1fbfbf" stroke-width="1.1" fill="none"/><rect x="448.31" y="308.28" width="3.4" height="3.4" stroke="#1fbfbf" stroke-width="1.1" fill="none"/><rect x="450.12" y="315.3" width="3.4" height="3.4" stroke="#1fbfbf" stroke-width="1.1" fill="none"/><rect x="451.93" y="346" width="3.4" height="3.4" stroke="#1fbfbf" stroke-width="1.1" fill="none"/><rect x="453.74" y="350.53" width="3.4" height="3.4" stroke="#1fbfbf" stroke-width="1.1" fill="none"/><rect x="455.55" y="358.31" width="3.4" height="3.4" stroke="#1fbfbf" stroke-width="1.1" fill="none"/><rect x="457.36" y="343.16" width="3.4" height="3.4" stroke="#1fbfbf" stroke-width="1.1" fill="none"/><rect x="459.17" y="342.98" width="3.4" height="3.4" stroke="#1fbfbf" stroke-width="1.1" fill="none"/><rect x="460.98" y="346.92" width="3.4" height="3.4" stroke="#1fbfbf" stroke-width="1.1" fill="none"/><rect x="462.79" y="329.02" width="3.4" height="3.4" stroke="#1fbfbf" stroke-width="1.1" fill="none"/><rect x="464.6" y="332.56" width="3.4" height="3.4" stroke="#1fbfbf" stroke-width="1.1" fill="none"/><rect x="466.41" y="341.38" width="3.4" height="3.4" stroke="#1fbfbf" stroke-width="1.1" fill="none"/><rect x="468.22" y="334.14" width="3.4" height="3.4" stroke="#1fbfbf" stroke-width="1.1" fill="none"/><rect x="470.03" y="319.12" width="3.4" height="3.4" stroke="#1fbfbf" stroke-width="1.1" fill="none"/><rect x="471.84" y="305.75" width="3.4" height="3.4" stroke="#1fbfbf" stroke-width="1.1" fill="none"/><rect x="473.65" y="298.96" width="3.4" height="3.4" stroke="#1fbfbf" stroke-width="1.1" fill="none"/><rect x="475.46" y="270.89" width="3.4" height="3.4" stroke="#1fbfbf" stroke-width="1.1" fill="none"/><rect x="477.27" y="287.63" width="3.4" height="3.4" stroke="#1fbfbf" stroke-width="1.1" fill="none"/><rect x="479.08" y="275.17" width="3.4" height="3.4" stroke="#1fbfbf" stroke-width="1.1" fill="none"/><rect x="480.89" y="282.96" width="3.4" height="3.4" stroke="#1fbfbf" stroke-width="1.1" fill="none"/><rect x="482.7" y="287.9" width="3.4" height="3.4" stroke="#1fbfbf" stroke-width="1.1" fill="none"/><rect x="484.51" y="296.28" width="3.4" height="3.4" stroke="#1fbfbf" stroke-width="1.1" fill="none"/><rect x="486.32" y="306.12" width="3.4" height="3.4" stroke="#1fbfbf" stroke-width="1.1" fill="none"/><rect x="488.13" y="318.18" width="3.4" height="3.4" stroke="#1fbfbf" stroke-width="1.1" fill="none"/><rect x="489.94" y="328.31" width="3.4" height="3.4" stroke="#1fbfbf" stroke-width="1.1" fill="none"/><rect x="491.75" y="334.28" width="3.4" height="3.4" stroke="#1fbfbf" stroke-width="1.1" fill="none"/><rect x="493.56" y="337.05" width="3.4" height="3.4" stroke="#1fbfbf" stroke-width="1.1" fill="none"/><rect x="495.37" y="334.48" width="3.4" height="3.4" stroke="#1fbfbf" stroke-width="1.1" fill="none"/><rect x="497.18" y="320.11" width="3.4" height="3.4" stroke="#1fbfbf" stroke-width="1.1" fill="none"/><rect x="498.99" y="300.75" width="3.4" height="3.4" stroke="#1fbfbf" stroke-width="1.1" fill="none"/><rect x="500.8" y="284.68" width="3.4" height="3.4" stroke="#1fbfbf" stroke-width="1.1" fill="none"/><rect x="502.61" y="296.27" width="3.4" height="3.4" stroke="#1fbfbf" stroke-width="1.1" fill="none"/><rect x="504.42" y="279.83" width="3.4" height="3.4" stroke="#1fbfbf" stroke-width="1.1" fill="none"/><rect x="506.23" y="296.11" width="3.4" height="3.4" stroke="#1fbfbf" stroke-width="1.1" fill="none"/><rect x="508.04" y="297.4" width="3.4" height="3.4" stroke="#1fbfbf" stroke-width="1.1" fill="none"/><rect x="509.85" y="299.6" width="3.4" height="3.4" stroke="#1fbfbf" stroke-width="1.1" fill="none"/><rect x="511.66" y="298.62" width="3.4" height="3.4" stroke="#1fbfbf" stroke-width="1.1" fill="none"/><rect x="513.47" y="297.55" width="3.4" height="3.4" stroke="#1fbfbf" stroke-width="1.1" fill="none"/><rect x="515.28" y="295.16" width="3.4" height="3.4" stroke="#1fbfbf" stroke-width="1.1" fill="none"/><rect x="517.09" y="291.3" width="3.4" height="3.4" stroke="#1fbfbf" stroke-width="1.1" fill="none"/><rect x="518.9" y="288.39" width="3.4" height="3.4" stroke="#1fbfbf" stroke-width="1.1" fill="none"/><rect x="520.71" y="272.27" width="3.4" height="3.4" stroke="#1fbfbf" stroke-width="1.1" fill="none"/><rect x="522.52" y="296.29" width="3.4" height="3.4" stroke="#1fbfbf" stroke-width="1.1" fill="none"/><rect x="524.33" y="313.57" width="3.4" height="3.4" stroke="#1fbfbf" stroke-width="1.1" fill="none"/><rect x="526.14" y="283.01" width="3.4" height="3.4" stroke="#1fbfbf" stroke-width="1.1" fill="none"/><rect x="527.95" y="283.36" width="3.4" height="3.4" stroke="#1fbfbf" stroke-width="1.1" fill="none"/><rect x="529.76" y="337.25" width="3.4" height="3.4" stroke="#1fbfbf" stroke-width="1.1" fill="none"/><rect x="531.57" y="321.37" width="3.4" height="3.4" stroke="#1fbfbf" stroke-width="1.1" fill="none"/><rect x="533.38" y="355.07" width="3.4" height="3.4" stroke="#1fbfbf" stroke-width="1.1" fill="none"/>
<path d="M323.31,317.89 L325.12,317.89 L326.93,314.65 L328.74,307.52 L330.55,307.52 L332.36,308.82 L334.17,306.87 L335.98,307.52 L337.79,290.67 L339.6,287.43 L341.41,306.87 L343.22,312.7 L345.03,323.72 L346.84,311.41 L348.65,317.89 L350.46,313.35 L352.27,308.17 L354.08,314.65 L355.89,319.18 L357.7,317.89 L359.51,310.11 L361.32,287.43 L363.13,290.67 L364.94,270.58 L366.75,265.4 L368.56,267.99 L370.37,277.06 L372.18,277.06 L373.99,282.25 L375.8,282.25 L377.61,283.54 L379.42,282.25 L381.23,324.37 L383.04,321.13 L384.85,322.42 L386.66,321.13 L388.47,299.74 L390.28,310.76 L392.09,306.87 L393.9,308.82 L395.71,305.58 L397.52,333.76 L399.33,328.26 L401.14,325.02 L402.95,322.42 L404.76,290.02 L406.57,301.04 L408.38,304.28 L410.19,302.98 L412,314.65 L413.81,330.85 L415.62,336.68 L417.43,337.98 L419.24,324.37 L421.05,326.96 L422.86,325.66 L424.67,325.66 L426.48,332.14 L428.29,326.96 L430.1,319.18 L431.91,317.24 L433.72,318.54 L435.53,319.18 L437.34,317.24 L439.15,314 L440.96,321.13 L442.77,330.85 L444.58,330.2 L446.39,328.9 L448.2,319.18 L450.01,302.98 L451.82,310.76 L453.63,350.29 L455.44,354.82 L457.25,362.6 L459.06,337.98 L460.87,336.68 L462.68,341.22 L464.49,323.07 L466.3,326.31 L468.11,336.03 L469.92,329.55 L471.73,313.35 L473.54,301.04 L475.35,293.91 L477.16,264.75 L478.97,282.9 L480.78,269.94 L482.59,278.36 L484.4,282.9 L486.21,291.32 L488.02,300.39 L489.83,313.35 L491.64,323.72 L493.45,329.55 L495.26,331.5 L497.07,329.55 L498.88,314.65 L500.69,294.56 L502.5,278.36 L504.31,290.02 L506.12,273.82 L507.93,290.02 L509.74,291.97 L511.55,294.56 L513.36,293.26 L515.17,291.97 L516.98,290.02 L518.79,285.49 L520.6,282.9 L522.41,267.34 L524.22,290.67 L526.03,307.52 L527.84,278.36 L529.65,278.36 L531.46,335.19 L533.27,319.83 L535.08,355.34" stroke="#155e15" stroke-width="1" fill="none" stroke-linejoin="round" clip-path="url(#cD)"/>
<rect x="321.61" y="316.19" width="3.4" height="3.4" stroke="#155e15" stroke-width="1.1" fill="#143c14"/><rect x="323.42" y="316.19" width="3.4" height="3.4" stroke="#155e15" stroke-width="1.1" fill="#143c14"/><rect x="325.23" y="312.95" width="3.4" height="3.4" stroke="#155e15" stroke-width="1.1" fill="#143c14"/><rect x="327.04" y="305.82" width="3.4" height="3.4" stroke="#155e15" stroke-width="1.1" fill="#143c14"/><rect x="328.85" y="305.82" width="3.4" height="3.4" stroke="#155e15" stroke-width="1.1" fill="#143c14"/><rect x="330.66" y="307.12" width="3.4" height="3.4" stroke="#155e15" stroke-width="1.1" fill="#143c14"/><rect x="332.47" y="305.17" width="3.4" height="3.4" stroke="#155e15" stroke-width="1.1" fill="#143c14"/><rect x="334.28" y="305.82" width="3.4" height="3.4" stroke="#155e15" stroke-width="1.1" fill="#143c14"/><rect x="336.09" y="288.97" width="3.4" height="3.4" stroke="#155e15" stroke-width="1.1" fill="#143c14"/><rect x="337.9" y="285.73" width="3.4" height="3.4" stroke="#155e15" stroke-width="1.1" fill="#143c14"/><rect x="339.71" y="305.17" width="3.4" height="3.4" stroke="#155e15" stroke-width="1.1" fill="#143c14"/><rect x="341.52" y="311" width="3.4" height="3.4" stroke="#155e15" stroke-width="1.1" fill="#143c14"/><rect x="343.33" y="322.02" width="3.4" height="3.4" stroke="#155e15" stroke-width="1.1" fill="#143c14"/><rect x="345.14" y="309.71" width="3.4" height="3.4" stroke="#155e15" stroke-width="1.1" fill="#143c14"/><rect x="346.95" y="316.19" width="3.4" height="3.4" stroke="#155e15" stroke-width="1.1" fill="#143c14"/><rect x="348.76" y="311.65" width="3.4" height="3.4" stroke="#155e15" stroke-width="1.1" fill="#143c14"/><rect x="350.57" y="306.47" width="3.4" height="3.4" stroke="#155e15" stroke-width="1.1" fill="#143c14"/><rect x="352.38" y="312.95" width="3.4" height="3.4" stroke="#155e15" stroke-width="1.1" fill="#143c14"/><rect x="354.19" y="317.48" width="3.4" height="3.4" stroke="#155e15" stroke-width="1.1" fill="#143c14"/><rect x="356" y="316.19" width="3.4" height="3.4" stroke="#155e15" stroke-width="1.1" fill="#143c14"/><rect x="357.81" y="308.41" width="3.4" height="3.4" stroke="#155e15" stroke-width="1.1" fill="#143c14"/><rect x="359.62" y="285.73" width="3.4" height="3.4" stroke="#155e15" stroke-width="1.1" fill="#143c14"/><rect x="361.43" y="288.97" width="3.4" height="3.4" stroke="#155e15" stroke-width="1.1" fill="#143c14"/><rect x="363.24" y="268.88" width="3.4" height="3.4" stroke="#155e15" stroke-width="1.1" fill="#143c14"/><rect x="365.05" y="263.7" width="3.4" height="3.4" stroke="#155e15" stroke-width="1.1" fill="#143c14"/><rect x="366.86" y="266.29" width="3.4" height="3.4" stroke="#155e15" stroke-width="1.1" fill="#143c14"/><rect x="368.67" y="275.36" width="3.4" height="3.4" stroke="#155e15" stroke-width="1.1" fill="#143c14"/><rect x="370.48" y="275.36" width="3.4" height="3.4" stroke="#155e15" stroke-width="1.1" fill="#143c14"/><rect x="372.29" y="280.55" width="3.4" height="3.4" stroke="#155e15" stroke-width="1.1" fill="#143c14"/><rect x="374.1" y="280.55" width="3.4" height="3.4" stroke="#155e15" stroke-width="1.1" fill="#143c14"/><rect x="375.91" y="281.84" width="3.4" height="3.4" stroke="#155e15" stroke-width="1.1" fill="#143c14"/><rect x="377.72" y="280.55" width="3.4" height="3.4" stroke="#155e15" stroke-width="1.1" fill="#143c14"/><rect x="379.53" y="322.67" width="3.4" height="3.4" stroke="#155e15" stroke-width="1.1" fill="#143c14"/><rect x="381.34" y="319.43" width="3.4" height="3.4" stroke="#155e15" stroke-width="1.1" fill="#143c14"/><rect x="383.15" y="320.72" width="3.4" height="3.4" stroke="#155e15" stroke-width="1.1" fill="#143c14"/><rect x="384.96" y="319.43" width="3.4" height="3.4" stroke="#155e15" stroke-width="1.1" fill="#143c14"/><rect x="386.77" y="298.04" width="3.4" height="3.4" stroke="#155e15" stroke-width="1.1" fill="#143c14"/><rect x="388.58" y="309.06" width="3.4" height="3.4" stroke="#155e15" stroke-width="1.1" fill="#143c14"/><rect x="390.39" y="305.17" width="3.4" height="3.4" stroke="#155e15" stroke-width="1.1" fill="#143c14"/><rect x="392.2" y="307.12" width="3.4" height="3.4" stroke="#155e15" stroke-width="1.1" fill="#143c14"/><rect x="394.01" y="303.88" width="3.4" height="3.4" stroke="#155e15" stroke-width="1.1" fill="#143c14"/><rect x="395.82" y="332.06" width="3.4" height="3.4" stroke="#155e15" stroke-width="1.1" fill="#143c14"/><rect x="397.63" y="326.56" width="3.4" height="3.4" stroke="#155e15" stroke-width="1.1" fill="#143c14"/><rect x="399.44" y="323.32" width="3.4" height="3.4" stroke="#155e15" stroke-width="1.1" fill="#143c14"/><rect x="401.25" y="320.72" width="3.4" height="3.4" stroke="#155e15" stroke-width="1.1" fill="#143c14"/><rect x="403.06" y="288.32" width="3.4" height="3.4" stroke="#155e15" stroke-width="1.1" fill="#143c14"/><rect x="404.87" y="299.34" width="3.4" height="3.4" stroke="#155e15" stroke-width="1.1" fill="#143c14"/><rect x="406.68" y="302.58" width="3.4" height="3.4" stroke="#155e15" stroke-width="1.1" fill="#143c14"/><rect x="408.49" y="301.28" width="3.4" height="3.4" stroke="#155e15" stroke-width="1.1" fill="#143c14"/><rect x="410.3" y="312.95" width="3.4" height="3.4" stroke="#155e15" stroke-width="1.1" fill="#143c14"/><rect x="412.11" y="329.15" width="3.4" height="3.4" stroke="#155e15" stroke-width="1.1" fill="#143c14"/><rect x="413.92" y="334.98" width="3.4" height="3.4" stroke="#155e15" stroke-width="1.1" fill="#143c14"/><rect x="415.73" y="336.28" width="3.4" height="3.4" stroke="#155e15" stroke-width="1.1" fill="#143c14"/><rect x="417.54" y="322.67" width="3.4" height="3.4" stroke="#155e15" stroke-width="1.1" fill="#143c14"/><rect x="419.35" y="325.26" width="3.4" height="3.4" stroke="#155e15" stroke-width="1.1" fill="#143c14"/><rect x="421.16" y="323.96" width="3.4" height="3.4" stroke="#155e15" stroke-width="1.1" fill="#143c14"/><rect x="422.97" y="323.96" width="3.4" height="3.4" stroke="#155e15" stroke-width="1.1" fill="#143c14"/><rect x="424.78" y="330.44" width="3.4" height="3.4" stroke="#155e15" stroke-width="1.1" fill="#143c14"/><rect x="426.59" y="325.26" width="3.4" height="3.4" stroke="#155e15" stroke-width="1.1" fill="#143c14"/><rect x="428.4" y="317.48" width="3.4" height="3.4" stroke="#155e15" stroke-width="1.1" fill="#143c14"/><rect x="430.21" y="315.54" width="3.4" height="3.4" stroke="#155e15" stroke-width="1.1" fill="#143c14"/><rect x="432.02" y="316.84" width="3.4" height="3.4" stroke="#155e15" stroke-width="1.1" fill="#143c14"/><rect x="433.83" y="317.48" width="3.4" height="3.4" stroke="#155e15" stroke-width="1.1" fill="#143c14"/><rect x="435.64" y="315.54" width="3.4" height="3.4" stroke="#155e15" stroke-width="1.1" fill="#143c14"/><rect x="437.45" y="312.3" width="3.4" height="3.4" stroke="#155e15" stroke-width="1.1" fill="#143c14"/><rect x="439.26" y="319.43" width="3.4" height="3.4" stroke="#155e15" stroke-width="1.1" fill="#143c14"/><rect x="441.07" y="329.15" width="3.4" height="3.4" stroke="#155e15" stroke-width="1.1" fill="#143c14"/><rect x="442.88" y="328.5" width="3.4" height="3.4" stroke="#155e15" stroke-width="1.1" fill="#143c14"/><rect x="444.69" y="327.2" width="3.4" height="3.4" stroke="#155e15" stroke-width="1.1" fill="#143c14"/><rect x="446.5" y="317.48" width="3.4" height="3.4" stroke="#155e15" stroke-width="1.1" fill="#143c14"/><rect x="448.31" y="301.28" width="3.4" height="3.4" stroke="#155e15" stroke-width="1.1" fill="#143c14"/><rect x="450.12" y="309.06" width="3.4" height="3.4" stroke="#155e15" stroke-width="1.1" fill="#143c14"/><rect x="451.93" y="348.59" width="3.4" height="3.4" stroke="#155e15" stroke-width="1.1" fill="#143c14"/><rect x="453.74" y="353.12" width="3.4" height="3.4" stroke="#155e15" stroke-width="1.1" fill="#143c14"/><rect x="455.55" y="360.9" width="3.4" height="3.4" stroke="#155e15" stroke-width="1.1" fill="#143c14"/><rect x="457.36" y="336.28" width="3.4" height="3.4" stroke="#155e15" stroke-width="1.1" fill="#143c14"/><rect x="459.17" y="334.98" width="3.4" height="3.4" stroke="#155e15" stroke-width="1.1" fill="#143c14"/><rect x="460.98" y="339.52" width="3.4" height="3.4" stroke="#155e15" stroke-width="1.1" fill="#143c14"/><rect x="462.79" y="321.37" width="3.4" height="3.4" stroke="#155e15" stroke-width="1.1" fill="#143c14"/><rect x="464.6" y="324.61" width="3.4" height="3.4" stroke="#155e15" stroke-width="1.1" fill="#143c14"/><rect x="466.41" y="334.33" width="3.4" height="3.4" stroke="#155e15" stroke-width="1.1" fill="#143c14"/><rect x="468.22" y="327.85" width="3.4" height="3.4" stroke="#155e15" stroke-width="1.1" fill="#143c14"/><rect x="470.03" y="311.65" width="3.4" height="3.4" stroke="#155e15" stroke-width="1.1" fill="#143c14"/><rect x="471.84" y="299.34" width="3.4" height="3.4" stroke="#155e15" stroke-width="1.1" fill="#143c14"/><rect x="473.65" y="292.21" width="3.4" height="3.4" stroke="#155e15" stroke-width="1.1" fill="#143c14"/><rect x="475.46" y="263.05" width="3.4" height="3.4" stroke="#155e15" stroke-width="1.1" fill="#143c14"/><rect x="477.27" y="281.2" width="3.4" height="3.4" stroke="#155e15" stroke-width="1.1" fill="#143c14"/><rect x="479.08" y="268.24" width="3.4" height="3.4" stroke="#155e15" stroke-width="1.1" fill="#143c14"/><rect x="480.89" y="276.66" width="3.4" height="3.4" stroke="#155e15" stroke-width="1.1" fill="#143c14"/><rect x="482.7" y="281.2" width="3.4" height="3.4" stroke="#155e15" stroke-width="1.1" fill="#143c14"/><rect x="484.51" y="289.62" width="3.4" height="3.4" stroke="#155e15" stroke-width="1.1" fill="#143c14"/><rect x="486.32" y="298.69" width="3.4" height="3.4" stroke="#155e15" stroke-width="1.1" fill="#143c14"/><rect x="488.13" y="311.65" width="3.4" height="3.4" stroke="#155e15" stroke-width="1.1" fill="#143c14"/><rect x="489.94" y="322.02" width="3.4" height="3.4" stroke="#155e15" stroke-width="1.1" fill="#143c14"/><rect x="491.75" y="327.85" width="3.4" height="3.4" stroke="#155e15" stroke-width="1.1" fill="#143c14"/><rect x="493.56" y="329.8" width="3.4" height="3.4" stroke="#155e15" stroke-width="1.1" fill="#143c14"/><rect x="495.37" y="327.85" width="3.4" height="3.4" stroke="#155e15" stroke-width="1.1" fill="#143c14"/><rect x="497.18" y="312.95" width="3.4" height="3.4" stroke="#155e15" stroke-width="1.1" fill="#143c14"/><rect x="498.99" y="292.86" width="3.4" height="3.4" stroke="#155e15" stroke-width="1.1" fill="#143c14"/><rect x="500.8" y="276.66" width="3.4" height="3.4" stroke="#155e15" stroke-width="1.1" fill="#143c14"/><rect x="502.61" y="288.32" width="3.4" height="3.4" stroke="#155e15" stroke-width="1.1" fill="#143c14"/><rect x="504.42" y="272.12" width="3.4" height="3.4" stroke="#155e15" stroke-width="1.1" fill="#143c14"/><rect x="506.23" y="288.32" width="3.4" height="3.4" stroke="#155e15" stroke-width="1.1" fill="#143c14"/><rect x="508.04" y="290.27" width="3.4" height="3.4" stroke="#155e15" stroke-width="1.1" fill="#143c14"/><rect x="509.85" y="292.86" width="3.4" height="3.4" stroke="#155e15" stroke-width="1.1" fill="#143c14"/><rect x="511.66" y="291.56" width="3.4" height="3.4" stroke="#155e15" stroke-width="1.1" fill="#143c14"/><rect x="513.47" y="290.27" width="3.4" height="3.4" stroke="#155e15" stroke-width="1.1" fill="#143c14"/><rect x="515.28" y="288.32" width="3.4" height="3.4" stroke="#155e15" stroke-width="1.1" fill="#143c14"/><rect x="517.09" y="283.79" width="3.4" height="3.4" stroke="#155e15" stroke-width="1.1" fill="#143c14"/><rect x="518.9" y="281.2" width="3.4" height="3.4" stroke="#155e15" stroke-width="1.1" fill="#143c14"/><rect x="520.71" y="265.64" width="3.4" height="3.4" stroke="#155e15" stroke-width="1.1" fill="#143c14"/><rect x="522.52" y="288.97" width="3.4" height="3.4" stroke="#155e15" stroke-width="1.1" fill="#143c14"/><rect x="524.33" y="305.82" width="3.4" height="3.4" stroke="#155e15" stroke-width="1.1" fill="#143c14"/><rect x="526.14" y="276.66" width="3.4" height="3.4" stroke="#155e15" stroke-width="1.1" fill="#143c14"/><rect x="527.95" y="276.66" width="3.4" height="3.4" stroke="#155e15" stroke-width="1.1" fill="#143c14"/><rect x="529.76" y="333.49" width="3.4" height="3.4" stroke="#155e15" stroke-width="1.1" fill="#143c14"/><rect x="531.57" y="318.13" width="3.4" height="3.4" stroke="#155e15" stroke-width="1.1" fill="#143c14"/><rect x="533.38" y="353.64" width="3.4" height="3.4" stroke="#155e15" stroke-width="1.1" fill="#143c14"/>
<text transform="translate(321.5 388.9) scale(1 1.09)" text-anchor="middle" font-size="10.7">0</text>
<text transform="translate(357.7 388.9) scale(1 1.09)" text-anchor="middle" font-size="10.7">20</text>
<text transform="translate(393.9 388.9) scale(1 1.09)" text-anchor="middle" font-size="10.7">40</text>
<text transform="translate(430.1 388.9) scale(1 1.09)" text-anchor="middle" font-size="10.7">60</text>
<text transform="translate(466.3 388.9) scale(1 1.09)" text-anchor="middle" font-size="10.7">80</text>
<text transform="translate(502.5 388.9) scale(1 1.09)" text-anchor="middle" font-size="10.7">100</text>
<text transform="translate(538.7 388.9) scale(1 1.09)" text-anchor="middle" font-size="10.7">120</text>
<text transform="translate(317.9 367) scale(1 1.09)" text-anchor="end" font-size="10.7">0.95</text>
<text transform="translate(317.9 334.6) scale(1 1.09)" text-anchor="end" font-size="10.7">1</text>
<text transform="translate(317.9 302.2) scale(1 1.09)" text-anchor="end" font-size="10.7">1.05</text>
<text transform="translate(317.9 269.8) scale(1 1.09)" text-anchor="end" font-size="10.7">1.1</text>
<text transform="translate(317.9 237.4) scale(1 1.09)" text-anchor="end" font-size="10.7">1.15</text>
<rect x="147.7" y="136.5" width="17.6" height="31" stroke="#000" stroke-width="1.4" fill="none"/>
<path d="M157,136L178.2,106.4" stroke="#000" stroke-width="1.4"/>
<rect x="525.9" y="124.5" width="12.8" height="41.8" stroke="#000" stroke-width="1.4" fill="none"/>
<path d="M478.5,98.2L534.1,124.1" stroke="#000" stroke-width="1.4"/>
<rect x="128.1" y="342.3" width="18.5" height="31.6" stroke="#000" stroke-width="1.4" fill="none"/>
<path d="M137.1,341.6L155,299.5" stroke="#000" stroke-width="1.4"/>
<rect x="525.6" y="326.3" width="13.1" height="42.4" stroke="#000" stroke-width="1.4" fill="none"/>
<path d="M461,259.8L533.6,326.1" stroke="#000" stroke-width="1.4"/>
<rect x="136.8" y="36.8" width="80.8" height="51.8" fill="#fff"/>
<path d="M179,36.8V88.6M136.8,81.2H217.6M136.8,56.9H217.6" stroke="#d2d2d2" stroke-width="0.7" fill="none"/>
<path d="M70,14.37 L179,64.19 L288,61.76" stroke="#ff0000" stroke-width="1.6" fill="none" stroke-dasharray="1.5 1.3" stroke-linejoin="round" clip-path="url(#iA)"/>
<path d="M176.8,61.99L181.2,66.39M176.8,66.39L181.2,61.99" stroke="#ff0000" stroke-width="1.8" fill="none"/>
<path d="M70,14.37 L179,69.66 L288,61.4" stroke="#0000ff" stroke-width="1.6" fill="none" stroke-dasharray="1.5 1.3" stroke-linejoin="round" clip-path="url(#iA)"/>
<path d="M176.8,67.46L181.2,71.86M176.8,71.86L181.2,67.46" stroke="#0000ff" stroke-width="1.8" fill="none"/>
<path d="M70,14.37 L179,78.04 L288,58.48" stroke="#000000" stroke-width="1.6" fill="none" stroke-dasharray="1.5 1.3" stroke-linejoin="round" clip-path="url(#iA)"/>
<path d="M176.8,75.84L181.2,80.24M176.8,80.24L181.2,75.84" stroke="#000000" stroke-width="1.8" fill="none"/>
<path d="M70,14.37 L179,52.77 L288,61.76" stroke="#ff80c0" stroke-width="2.2" fill="none" stroke-linejoin="round" clip-path="url(#iA)"/>
<rect x="176.8" y="50.57" width="4.4" height="4.4" stroke="#ff80c0" stroke-width="1.5" fill="none"/>
<path d="M70,14.37 L179,55.44 L288,59.94" stroke="#1fbfbf" stroke-width="2.2" fill="none" stroke-linejoin="round" clip-path="url(#iA)"/>
<rect x="176.8" y="53.24" width="4.4" height="4.4" stroke="#1fbfbf" stroke-width="1.5" fill="none"/>
<path d="M70,14.37 L179,56.17 L288,58.24" stroke="#155e15" stroke-width="2.2" fill="none" stroke-linejoin="round" clip-path="url(#iA)"/>
<rect x="176.8" y="53.97" width="4.4" height="4.4" stroke="#155e15" stroke-width="1.5" fill="none"/>
<path d="M179,88.6v-2.2M179,36.8v2.2M136.8,81.2h2.2M217.6,81.2h-2.2M136.8,56.9h2.2M217.6,56.9h-2.2" stroke="#000" stroke-width="0.8" fill="none"/>
<rect x="136.8" y="36.8" width="80.8" height="51.8" stroke="#000" stroke-width="1.6" fill="none"/>
<text transform="translate(179 102.8) scale(1 1.09)" text-anchor="middle" font-size="10.7">5</text>
<text transform="translate(133.2 85.6) scale(1 1.09)" text-anchor="end" font-size="10.7">0.94</text>
<text transform="translate(133.2 61.3) scale(1 1.09)" text-anchor="end" font-size="10.7">0.96</text>
<rect x="437.6" y="37.1" width="80.6" height="51.5" fill="#fff"/>
<path d="M498.8,37.1V88.6M437.6,86.8H518.2M437.6,58.5H518.2" stroke="#d2d2d2" stroke-width="0.7" fill="none"/>
<path d="M291.4,53.97 L395.1,61.33 L498.8,86.09" stroke="#ff0000" stroke-width="1.4" fill="none" stroke-dasharray="1.4 1.3" stroke-linejoin="round" clip-path="url(#iB)"/>
<path d="M496.7,83.99L500.9,88.19M496.7,88.19L500.9,83.99" stroke="#ff0000" stroke-width="1.56" fill="none"/>
<path d="M291.4,50.15 L395.1,57.37 L498.8,86.09" stroke="#0000ff" stroke-width="1.4" fill="none" stroke-dasharray="1.4 1.3" stroke-linejoin="round" clip-path="url(#iB)"/>
<path d="M496.7,83.99L500.9,88.19M496.7,88.19L500.9,83.99" stroke="#0000ff" stroke-width="1.56" fill="none"/>
<path d="M291.4,60.91 L395.1,67.84 L498.8,86.8" stroke="#000000" stroke-width="1.4" fill="none" stroke-dasharray="1.4 1.3" stroke-linejoin="round" clip-path="url(#iB)"/>
<path d="M496.7,84.7L500.9,88.9M496.7,88.9L500.9,84.7" stroke="#000000" stroke-width="1.56" fill="none"/>
<path d="M291.4,23.13 L395.1,34.44 L498.8,81.85" stroke="#ff80c0" stroke-width="1.6" fill="none" stroke-linejoin="round" clip-path="url(#iB)"/>
<rect x="496.7" y="79.75" width="4.2" height="4.2" stroke="#ff80c0" stroke-width="1.3" fill="none"/>
<path d="M291.4,17.89 L395.1,30.34 L498.8,80.15" stroke="#1fbfbf" stroke-width="1.6" fill="none" stroke-linejoin="round" clip-path="url(#iB)"/>
<rect x="496.7" y="78.05" width="4.2" height="4.2" stroke="#1fbfbf" stroke-width="1.3" fill="none"/>
<path d="M291.4,24.96 L395.1,36.43 L498.8,82.7" stroke="#155e15" stroke-width="1.6" fill="none" stroke-linejoin="round" clip-path="url(#iB)"/>
<rect x="496.7" y="80.6" width="4.2" height="4.2" stroke="#155e15" stroke-width="1.3" fill="none"/>
<path d="M498.8,88.6v-2.2M498.8,37.1v2.2M437.6,86.8h2.2M518.2,86.8h-2.2M437.6,58.5h2.2M518.2,58.5h-2.2" stroke="#000" stroke-width="0.8" fill="none"/>
<rect x="437.6" y="37.1" width="80.6" height="51.5" stroke="#000" stroke-width="1.6" fill="none"/>
<text transform="translate(498.8 102.8) scale(1 1.09)" text-anchor="middle" font-size="10.7">14</text>
<text transform="translate(434 91.2) scale(1 1.09)" text-anchor="end" font-size="10.7">0.9</text>
<text transform="translate(434 62.9) scale(1 1.09)" text-anchor="end" font-size="10.7">0.92</text>
<rect x="113.6" y="237.3" width="81" height="51.6" fill="#fff"/>
<path d="M123.7,237.3V288.9M156.2,237.3V288.9M188.7,237.3V288.9M113.6,281.5H194.6M113.6,263.2H194.6M113.6,244.9H194.6" stroke="#d2d2d2" stroke-width="0.7" fill="none"/>
<path d="M91.2,272.35 L123.7,272.72 L156.2,281.5 L188.7,266.31 L221.2,262.49" stroke="#ff0000" stroke-width="1.4" fill="none" stroke-dasharray="1.4 1.3" stroke-linejoin="round" clip-path="url(#iC)"/>
<path d="M121.6,270.62L125.8,274.82M121.6,274.82L125.8,270.62" stroke="#ff0000" stroke-width="1.56" fill="none"/><path d="M154.1,279.4L158.3,283.6M154.1,283.6L158.3,279.4" stroke="#ff0000" stroke-width="1.56" fill="none"/><path d="M186.6,264.21L190.8,268.41M186.6,268.41L190.8,264.21" stroke="#ff0000" stroke-width="1.56" fill="none"/>
<path d="M91.2,258.81 L123.7,267.04 L156.2,281.5 L188.7,261.92 L221.2,258.44" stroke="#0000ff" stroke-width="1.4" fill="none" stroke-dasharray="1.4 1.3" stroke-linejoin="round" clip-path="url(#iC)"/>
<path d="M121.6,264.94L125.8,269.14M121.6,269.14L125.8,264.94" stroke="#0000ff" stroke-width="1.56" fill="none"/><path d="M154.1,279.4L158.3,283.6M154.1,283.6L158.3,279.4" stroke="#0000ff" stroke-width="1.56" fill="none"/><path d="M186.6,259.82L190.8,264.02M186.6,264.02L190.8,259.82" stroke="#0000ff" stroke-width="1.56" fill="none"/>
<path d="M91.2,257.71 L123.7,266.31 L156.2,281.5 L188.7,260.64 L221.2,266.22" stroke="#000000" stroke-width="1.4" fill="none" stroke-dasharray="1.4 1.3" stroke-linejoin="round" clip-path="url(#iC)"/>
<path d="M121.6,264.21L125.8,268.41M121.6,268.41L125.8,264.21" stroke="#000000" stroke-width="1.56" fill="none"/><path d="M154.1,279.4L158.3,283.6M154.1,283.6L158.3,279.4" stroke="#000000" stroke-width="1.56" fill="none"/><path d="M186.6,258.54L190.8,262.74M186.6,262.74L190.8,258.54" stroke="#000000" stroke-width="1.56" fill="none"/>
<path d="M91.2,281.5 L123.7,281.5 L156.2,267.04 L188.7,271.44 L221.2,261.55" stroke="#ff80c0" stroke-width="1.6" fill="none" stroke-linejoin="round" clip-path="url(#iC)"/>
<rect x="121.6" y="279.4" width="4.2" height="4.2" stroke="#ff80c0" stroke-width="1.3" fill="none"/><rect x="154.1" y="264.94" width="4.2" height="4.2" stroke="#ff80c0" stroke-width="1.3" fill="none"/><rect x="186.6" y="269.34" width="4.2" height="4.2" stroke="#ff80c0" stroke-width="1.3" fill="none"/>
<path d="M91.2,264.48 L123.7,263.75 L156.2,265.4 L188.7,256.8 L221.2,252.22" stroke="#1fbfbf" stroke-width="1.6" fill="none" stroke-linejoin="round" clip-path="url(#iC)"/>
<rect x="121.6" y="261.65" width="4.2" height="4.2" stroke="#1fbfbf" stroke-width="1.3" fill="none"/><rect x="154.1" y="263.3" width="4.2" height="4.2" stroke="#1fbfbf" stroke-width="1.3" fill="none"/><rect x="186.6" y="254.7" width="4.2" height="4.2" stroke="#1fbfbf" stroke-width="1.3" fill="none"/>
<path d="M91.2,281.5 L123.7,281.5 L156.2,265.4 L188.7,269.79 L221.2,270.89" stroke="#155e15" stroke-width="1.6" fill="none" stroke-linejoin="round" clip-path="url(#iC)"/>
<rect x="121.6" y="279.4" width="4.2" height="4.2" stroke="#155e15" stroke-width="1.3" fill="none"/><rect x="154.1" y="263.3" width="4.2" height="4.2" stroke="#155e15" stroke-width="1.3" fill="none"/><rect x="186.6" y="267.69" width="4.2" height="4.2" stroke="#155e15" stroke-width="1.3" fill="none"/>
<path d="M123.7,288.9v-2.2M123.7,237.3v2.2M156.2,288.9v-2.2M156.2,237.3v2.2M188.7,288.9v-2.2M188.7,237.3v2.2M113.6,281.5h2.2M194.6,281.5h-2.2M113.6,263.2h2.2M194.6,263.2h-2.2M113.6,244.9h2.2M194.6,244.9h-2.2" stroke="#000" stroke-width="0.8" fill="none"/>
<rect x="113.6" y="237.3" width="81" height="51.6" stroke="#000" stroke-width="1.6" fill="none"/>
<text transform="translate(123.7 303.1) scale(1 1.09)" text-anchor="middle" font-size="10.7">13</text>
<text transform="translate(156.2 303.1) scale(1 1.09)" text-anchor="middle" font-size="10.7">14</text>
<text transform="translate(188.7 303.1) scale(1 1.09)" text-anchor="middle" font-size="10.7">15</text>
<text transform="translate(110 285.9) scale(1 1.09)" text-anchor="end" font-size="10.7">0.9</text>
<text transform="translate(110 267.6) scale(1 1.09)" text-anchor="end" font-size="10.7">0.91</text>
<text transform="translate(110 249.3) scale(1 1.09)" text-anchor="end" font-size="10.7">0.92</text>
<rect x="414.3" y="237.4" width="46.6" height="46" fill="#fff"/>
<path d="M426.6,237.4V283.4M461,237.4V283.4M414.3,283.4H460.9M414.3,244.2H460.9" stroke="#d2d2d2" stroke-width="0.7" fill="none"/>
<path d="M405.96,201.42 L412.84,221.74 L419.72,187.73 L426.6,186.78 L433.48,251.65 L440.36,234.79 L447.24,279.48" stroke="#ff0000" stroke-width="1.4" fill="none" stroke-dasharray="1.4 1.3" stroke-linejoin="round" clip-path="url(#iD)"/>
<path d="M431.38,249.55L435.58,253.75M431.38,253.75L435.58,249.55" stroke="#ff0000" stroke-width="1.56" fill="none"/><path d="M445.14,277.38L449.34,281.58M445.14,281.58L449.34,277.38" stroke="#ff0000" stroke-width="1.56" fill="none"/>
<path d="M405.96,207.06 L412.84,227.14 L419.72,192.13 L426.6,192.09 L433.48,252.43 L440.36,234.79 L447.24,278.7" stroke="#0000ff" stroke-width="1.4" fill="none" stroke-dasharray="1.4 1.3" stroke-linejoin="round" clip-path="url(#iD)"/>
<path d="M431.38,250.33L435.58,254.53M431.38,254.53L435.58,250.33" stroke="#0000ff" stroke-width="1.56" fill="none"/><path d="M445.14,276.6L449.34,280.8M445.14,280.8L449.34,276.6" stroke="#0000ff" stroke-width="1.56" fill="none"/>
<path d="M405.96,195.97 L412.84,216.49 L419.72,181.45 L426.6,181.51 L433.48,250.47 L440.36,231.66 L447.24,281.83" stroke="#000000" stroke-width="1.4" fill="none" stroke-dasharray="1.4 1.3" stroke-linejoin="round" clip-path="url(#iD)"/>
<path d="M431.38,248.37L435.58,252.57M431.38,252.57L435.58,248.37" stroke="#000000" stroke-width="1.56" fill="none"/><path d="M445.14,279.73L449.34,283.93M445.14,283.93L449.34,279.73" stroke="#000000" stroke-width="1.56" fill="none"/>
<path d="M405.96,202.71 L412.84,222.64 L419.72,186.45 L426.6,186.74 L433.48,252.04 L440.36,237.54 L447.24,277.91" stroke="#ff80c0" stroke-width="1.6" fill="none" stroke-linejoin="round" clip-path="url(#iD)"/>
<rect x="431.38" y="249.94" width="4.2" height="4.2" stroke="#ff80c0" stroke-width="1.3" fill="none"/><rect x="438.26" y="235.44" width="4.2" height="4.2" stroke="#ff80c0" stroke-width="1.3" fill="none"/><rect x="445.14" y="275.81" width="4.2" height="4.2" stroke="#ff80c0" stroke-width="1.3" fill="none"/>
<path d="M405.96,205.23 L412.84,226.14 L419.72,189.16 L426.6,189.59 L433.48,254.78 L440.36,235.58 L447.24,276.34" stroke="#1fbfbf" stroke-width="1.6" fill="none" stroke-linejoin="round" clip-path="url(#iD)"/>
<rect x="431.38" y="252.68" width="4.2" height="4.2" stroke="#1fbfbf" stroke-width="1.3" fill="none"/><rect x="445.14" y="274.24" width="4.2" height="4.2" stroke="#1fbfbf" stroke-width="1.3" fill="none"/>
<path d="M405.96,196.38 L412.84,216.76 L419.72,181.48 L426.6,181.48 L433.48,250.24 L440.36,231.66 L447.24,274.62" stroke="#155e15" stroke-width="1.6" fill="none" stroke-linejoin="round" clip-path="url(#iD)"/>
<rect x="431.38" y="248.14" width="4.2" height="4.2" stroke="#155e15" stroke-width="1.3" fill="#143c14"/><rect x="445.14" y="272.52" width="4.2" height="4.2" stroke="#155e15" stroke-width="1.3" fill="none"/>
<path d="M426.6,283.4v-2.2M426.6,237.4v2.2M461,283.4v-2.2M461,237.4v2.2M414.3,283.4h2.2M460.9,283.4h-2.2M414.3,244.2h2.2M460.9,244.2h-2.2" stroke="#000" stroke-width="0.8" fill="none"/>
<rect x="414.3" y="237.4" width="46.6" height="46" stroke="#000" stroke-width="1.6" fill="none"/>
<text transform="translate(426.6 297.6) scale(1 1.09)" text-anchor="middle" font-size="10.7">115</text>
<text transform="translate(461 297.6) scale(1 1.09)" text-anchor="middle" font-size="10.7">120</text>
<text transform="translate(410.7 287.8) scale(1 1.09)" text-anchor="end" font-size="10.7">0.95</text>
<text transform="translate(410.7 248.6) scale(1 1.09)" text-anchor="end" font-size="10.7">1</text>
<text transform="translate(144.75 196.3)" text-anchor="middle" font-size="10.7">Nodes</text>
<text transform="translate(144.75 209.3) scale(1 1.09)" text-anchor="middle" font-size="10.7">(a) 9 Bus-Bar System</text>
<text transform="translate(10 100.2) rotate(-90)" text-anchor="middle" font-size="11.2">Voltage [p.u]</text>
<text transform="translate(430 200.7)" text-anchor="middle" font-size="10.7">Nodes</text>
<text transform="translate(430 212.2) scale(1 1.09)" text-anchor="middle" font-size="10.7">(b) 14 Bus-Bar System</text>
<text transform="translate(294.6 100.25) rotate(-90)" text-anchor="middle" font-size="11.2">Voltage [p.u]</text>
<text transform="translate(144.95 400.3)" text-anchor="middle" font-size="10.7">Nodes</text>
<text transform="translate(144.95 412.8) scale(1 1.09)" text-anchor="middle" font-size="10.7">(c) 30 Bus-Bar System</text>
<text transform="translate(9.7 304.8) rotate(-90)" text-anchor="middle" font-size="11.2">Voltage [p.u]</text>
<text transform="translate(430.1 400.6)" text-anchor="middle" font-size="10.7">Nodes</text>
<text transform="translate(430.1 413) scale(1 1.09)" text-anchor="middle" font-size="10.7">(d) 118 Bus-Bar System</text>
<text transform="translate(294.9 304.75) rotate(-90)" text-anchor="middle" font-size="11.2">Voltage [p.u]</text>
<rect x="42.2" y="6.2" width="476.3" height="14.3" fill="#fff" stroke="#999" stroke-width="0.8"/>
<path d="M44.1,13.4H68" stroke="#ff0000" stroke-width="1.1" stroke-dasharray="1.1 1.1"/>
<path d="M53.9,11.6L57.5,15.2M53.9,15.2L57.5,11.6" stroke="#ff0000" stroke-width="1.44" fill="none"/>
<text transform="translate(69.5 16.8) scale(1 1.06)" text-anchor="start" font-size="11">VoltageA</text>
<path d="M114.5,13.4H138.2" stroke="#0000ff" stroke-width="1.1" stroke-dasharray="1.1 1.1"/>
<path d="M124.6,11.6L128.2,15.2M124.6,15.2L128.2,11.6" stroke="#0000ff" stroke-width="1.44" fill="none"/>
<text transform="translate(140 16.8) scale(1 1.06)" text-anchor="start" font-size="11">VoltageB</text>
<path d="M184.8,13.4H207.9" stroke="#000000" stroke-width="1.1" stroke-dasharray="1.1 1.1"/>
<path d="M194.6,11.6L198.2,15.2M194.6,15.2L198.2,11.6" stroke="#000000" stroke-width="1.44" fill="none"/>
<text transform="translate(210.1 16.8) scale(1 1.06)" text-anchor="start" font-size="11">VoltageC</text>
<path d="M254.9,13.4H278" stroke="#ff80c0" stroke-width="1.1"/>
<rect x="263.7" y="11.3" width="4.2" height="4.2" stroke="#ff80c0" stroke-width="1.2" fill="none"/>
<text transform="translate(279.9 16.8) scale(1 1.06)" text-anchor="start" font-size="11">VoltageAcom</text>
<path d="M344.5,13.4H366.5" stroke="#1fbfbf" stroke-width="1.1"/>
<rect x="353.5" y="11.3" width="4.2" height="4.2" stroke="#1fbfbf" stroke-width="1.2" fill="none"/>
<text transform="translate(368.8 16.8) scale(1 1.06)" text-anchor="start" font-size="11">VoltageBcom</text>
<path d="M432.3,13.4H455.2" stroke="#155e15" stroke-width="1.1"/>
<rect x="441.4" y="11.3" width="4.2" height="4.2" stroke="#155e15" stroke-width="1.2" fill="none"/>
<text transform="translate(457.5 16.8) scale(1 1.06)" text-anchor="start" font-size="11">VoltageCcom</text>
</svg></body></html>
